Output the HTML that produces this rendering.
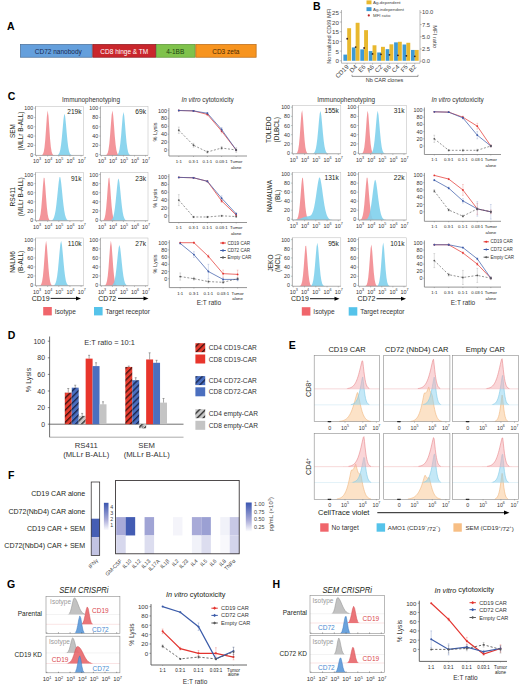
<!DOCTYPE html>
<html><head><meta charset="utf-8"><style>
html,body{margin:0;padding:0;background:#fff;width:520px;height:685px;overflow:hidden}
svg{display:block}
text{font-family:"Liberation Sans", sans-serif}
</style></head><body>
<svg width="520" height="685" viewBox="0 0 520 685" font-family='"Liberation Sans", sans-serif'>
<rect width="520" height="685" fill="#fff"/>
<text x="7.00" y="26.00" font-size="10.5" text-anchor="start" fill="#000" font-weight="bold" dominant-baseline="central" >A</text>
<rect x="20.35" y="44.35" width="71.80" height="12.90" fill="#649fdc" stroke="#4a6f98" stroke-width="0.7" />
<text x="58.30" y="51.40" font-size="6.5" text-anchor="middle" fill="#1a2a50" dominant-baseline="central" >CD72 nanobody</text>
<rect x="92.85" y="44.35" width="62.80" height="12.90" fill="#c9262c" stroke="#8a1a1e" stroke-width="0.7" />
<text x="124.30" y="51.40" font-size="6.5" text-anchor="middle" fill="#ffffff" dominant-baseline="central" >CD8 hinge &amp; TM</text>
<rect x="156.35" y="44.35" width="38.80" height="12.90" fill="#7fc24c" stroke="#5a9236" stroke-width="0.7" />
<text x="175.20" y="51.40" font-size="6.5" text-anchor="middle" fill="#1a4010" dominant-baseline="central" >4-1BB</text>
<rect x="195.85" y="44.35" width="60.30" height="12.90" fill="#f7941f" stroke="#b86a18" stroke-width="0.7" />
<text x="225.80" y="51.40" font-size="6.5" text-anchor="middle" fill="#4a2a05" dominant-baseline="central" >CD3 zeta</text>
<text x="313.00" y="5.80" font-size="10.5" text-anchor="start" fill="#000" font-weight="bold" dominant-baseline="central" >B</text>
<line x1="341.50" y1="10.00" x2="341.50" y2="63.20" stroke="#777" stroke-width="0.5" />
<line x1="339.80" y1="60.80" x2="341.50" y2="60.80" stroke="#777" stroke-width="0.5" />
<text x="339.00" y="60.80" font-size="6.2" text-anchor="end" fill="#444" dominant-baseline="central" >0</text>
<line x1="339.80" y1="51.10" x2="341.50" y2="51.10" stroke="#777" stroke-width="0.5" />
<text x="339.00" y="51.10" font-size="6.2" text-anchor="end" fill="#444" dominant-baseline="central" >5</text>
<line x1="339.80" y1="41.40" x2="341.50" y2="41.40" stroke="#777" stroke-width="0.5" />
<text x="339.00" y="41.40" font-size="6.2" text-anchor="end" fill="#444" dominant-baseline="central" >10</text>
<line x1="339.80" y1="31.70" x2="341.50" y2="31.70" stroke="#777" stroke-width="0.5" />
<text x="339.00" y="31.70" font-size="6.2" text-anchor="end" fill="#444" dominant-baseline="central" >15</text>
<line x1="339.80" y1="22.00" x2="341.50" y2="22.00" stroke="#777" stroke-width="0.5" />
<text x="339.00" y="22.00" font-size="6.2" text-anchor="end" fill="#444" dominant-baseline="central" >20</text>
<line x1="339.80" y1="12.30" x2="341.50" y2="12.30" stroke="#777" stroke-width="0.5" />
<text x="339.00" y="12.30" font-size="6.2" text-anchor="end" fill="#444" dominant-baseline="central" >25</text>
<text x="329.00" y="36.00" font-size="5.6" text-anchor="middle" fill="#444" transform="rotate(-90 329.00 36.00)" dominant-baseline="central" >Normalized CD69 MFI</text>
<line x1="420.00" y1="10.00" x2="420.00" y2="63.20" stroke="#777" stroke-width="0.5" />
<line x1="420.00" y1="61.20" x2="421.70" y2="61.20" stroke="#777" stroke-width="0.5" />
<text x="422.00" y="61.20" font-size="5.8" text-anchor="start" fill="#444" dominant-baseline="central" >0.0</text>
<line x1="420.00" y1="49.00" x2="421.70" y2="49.00" stroke="#777" stroke-width="0.5" />
<text x="422.00" y="49.00" font-size="5.8" text-anchor="start" fill="#444" dominant-baseline="central" >2.5</text>
<line x1="420.00" y1="36.80" x2="421.70" y2="36.80" stroke="#777" stroke-width="0.5" />
<text x="422.00" y="36.80" font-size="5.8" text-anchor="start" fill="#444" dominant-baseline="central" >5.0</text>
<line x1="420.00" y1="24.60" x2="421.70" y2="24.60" stroke="#777" stroke-width="0.5" />
<text x="422.00" y="24.60" font-size="5.8" text-anchor="start" fill="#444" dominant-baseline="central" >7.5</text>
<line x1="420.00" y1="12.40" x2="421.70" y2="12.40" stroke="#777" stroke-width="0.5" />
<text x="422.00" y="12.40" font-size="5.8" text-anchor="start" fill="#444" dominant-baseline="central" >10.0</text>
<text x="434.50" y="36.70" font-size="5.8" text-anchor="middle" fill="#444" transform="rotate(90 434.50 36.70)" dominant-baseline="central" >MFI ratio</text>
<line x1="341.50" y1="63.20" x2="420.00" y2="63.20" stroke="#777" stroke-width="0.5" />
<rect x="343.40" y="54.59" width="3.80" height="6.21" fill="#3d9ad6" stroke="none" stroke-width="0.5" />
<rect x="347.20" y="28.21" width="3.90" height="32.59" fill="#e8b82e" stroke="none" stroke-width="0.5" />
<circle cx="347.20" cy="38.75" r="0.9" fill="#3a2020"/>
<line x1="347.20" y1="63.20" x2="347.20" y2="64.60" stroke="#777" stroke-width="0.4" />
<text x="347.40" y="65.60" font-size="6.2" text-anchor="end" fill="#444" transform="rotate(-45 347.40 65.60)" dominant-baseline="central" dominant-baseline="hanging">CD19</text>
<rect x="351.85" y="47.41" width="3.80" height="13.39" fill="#3d9ad6" stroke="none" stroke-width="0.5" />
<rect x="355.65" y="22.78" width="3.90" height="38.02" fill="#e8b82e" stroke="none" stroke-width="0.5" />
<circle cx="355.65" cy="47.05" r="0.9" fill="#3a2020"/>
<line x1="355.65" y1="63.20" x2="355.65" y2="64.60" stroke="#777" stroke-width="0.4" />
<text x="355.85" y="65.60" font-size="6.2" text-anchor="end" fill="#444" transform="rotate(-45 355.85 65.60)" dominant-baseline="central" dominant-baseline="hanging">D4</text>
<rect x="360.30" y="49.35" width="3.80" height="11.45" fill="#3d9ad6" stroke="none" stroke-width="0.5" />
<rect x="364.10" y="30.15" width="3.90" height="30.65" fill="#e8b82e" stroke="none" stroke-width="0.5" />
<circle cx="364.10" cy="48.02" r="0.9" fill="#3a2020"/>
<line x1="364.10" y1="63.20" x2="364.10" y2="64.60" stroke="#777" stroke-width="0.4" />
<text x="364.30" y="65.60" font-size="6.2" text-anchor="end" fill="#444" transform="rotate(-45 364.30 65.60)" dominant-baseline="central" dominant-baseline="hanging">E6</text>
<rect x="368.75" y="51.10" width="3.80" height="9.70" fill="#3d9ad6" stroke="none" stroke-width="0.5" />
<rect x="372.55" y="45.28" width="3.90" height="15.52" fill="#e8b82e" stroke="none" stroke-width="0.5" />
<circle cx="372.55" cy="53.88" r="0.9" fill="#3a2020"/>
<line x1="372.55" y1="63.20" x2="372.55" y2="64.60" stroke="#777" stroke-width="0.4" />
<text x="372.75" y="65.60" font-size="6.2" text-anchor="end" fill="#444" transform="rotate(-45 372.75 65.60)" dominant-baseline="central" dominant-baseline="hanging">A6</text>
<rect x="377.20" y="52.46" width="3.80" height="8.34" fill="#3d9ad6" stroke="none" stroke-width="0.5" />
<rect x="381.00" y="46.83" width="3.90" height="13.97" fill="#e8b82e" stroke="none" stroke-width="0.5" />
<circle cx="381.00" cy="54.37" r="0.9" fill="#3a2020"/>
<line x1="381.00" y1="63.20" x2="381.00" y2="64.60" stroke="#777" stroke-width="0.4" />
<text x="381.20" y="65.60" font-size="6.2" text-anchor="end" fill="#444" transform="rotate(-45 381.20 65.60)" dominant-baseline="central" dominant-baseline="hanging">C2</text>
<rect x="385.65" y="49.16" width="3.80" height="11.64" fill="#3d9ad6" stroke="none" stroke-width="0.5" />
<rect x="389.45" y="44.31" width="3.90" height="16.49" fill="#e8b82e" stroke="none" stroke-width="0.5" />
<circle cx="389.45" cy="54.86" r="0.9" fill="#3a2020"/>
<line x1="389.45" y1="63.20" x2="389.45" y2="64.60" stroke="#777" stroke-width="0.4" />
<text x="389.65" y="65.60" font-size="6.2" text-anchor="end" fill="#444" transform="rotate(-45 389.65 65.60)" dominant-baseline="central" dominant-baseline="hanging">B6</text>
<rect x="394.10" y="42.37" width="3.80" height="18.43" fill="#3d9ad6" stroke="none" stroke-width="0.5" />
<rect x="397.90" y="41.79" width="3.90" height="19.01" fill="#e8b82e" stroke="none" stroke-width="0.5" />
<circle cx="397.90" cy="55.34" r="0.9" fill="#3a2020"/>
<line x1="397.90" y1="63.20" x2="397.90" y2="64.60" stroke="#777" stroke-width="0.4" />
<text x="398.10" y="65.60" font-size="6.2" text-anchor="end" fill="#444" transform="rotate(-45 398.10 65.60)" dominant-baseline="central" dominant-baseline="hanging">C4</text>
<rect x="402.55" y="44.50" width="3.80" height="16.30" fill="#3d9ad6" stroke="none" stroke-width="0.5" />
<rect x="406.35" y="42.76" width="3.90" height="18.04" fill="#e8b82e" stroke="none" stroke-width="0.5" />
<circle cx="406.35" cy="55.83" r="0.9" fill="#3a2020"/>
<line x1="406.35" y1="63.20" x2="406.35" y2="64.60" stroke="#777" stroke-width="0.4" />
<text x="406.55" y="65.60" font-size="6.2" text-anchor="end" fill="#444" transform="rotate(-45 406.55 65.60)" dominant-baseline="central" dominant-baseline="hanging">F5</text>
<rect x="411.00" y="49.94" width="3.80" height="10.86" fill="#3d9ad6" stroke="none" stroke-width="0.5" />
<rect x="414.80" y="49.94" width="3.90" height="10.86" fill="#e8b82e" stroke="none" stroke-width="0.5" />
<circle cx="414.80" cy="56.32" r="0.9" fill="#3a2020"/>
<line x1="414.80" y1="63.20" x2="414.80" y2="64.60" stroke="#777" stroke-width="0.4" />
<text x="415.00" y="65.60" font-size="6.2" text-anchor="end" fill="#444" transform="rotate(-45 415.00 65.60)" dominant-baseline="central" dominant-baseline="hanging">B2</text>
<rect x="366.50" y="0.40" width="5.00" height="3.90" fill="#e8b82e" stroke="none" stroke-width="0.5" />
<text x="373.00" y="2.60" font-size="4.4" text-anchor="start" fill="#444" dominant-baseline="central" >Ag-dependent</text>
<rect x="366.50" y="7.20" width="5.00" height="3.90" fill="#3d9ad6" stroke="none" stroke-width="0.5" />
<text x="373.00" y="9.20" font-size="4.4" text-anchor="start" fill="#444" dominant-baseline="central" >Ag-independent</text>
<circle cx="368.8" cy="15.4" r="1.1" fill="#b22"/>
<text x="373.00" y="15.60" font-size="4.4" text-anchor="start" fill="#444" dominant-baseline="central" >MFI ratio</text>
<line x1="352.00" y1="76.40" x2="418.00" y2="76.40" stroke="#555" stroke-width="0.6" />
<line x1="352.00" y1="76.40" x2="352.00" y2="74.80" stroke="#555" stroke-width="0.6" />
<line x1="418.00" y1="76.40" x2="418.00" y2="74.80" stroke="#555" stroke-width="0.6" />
<text x="384.50" y="79.90" font-size="5.5" text-anchor="middle" fill="#333" dominant-baseline="central" >Nb CAR clones</text>
<text x="7.80" y="96.00" font-size="10.5" text-anchor="start" fill="#000" font-weight="bold" dominant-baseline="central" >C</text>
<text x="91.00" y="99.20" font-size="6.4" text-anchor="middle" fill="#333" dominant-baseline="central" >Immunophenotyping</text>
<text x="207.50" y="99.30" font-size="6.4" text-anchor="middle" fill="#333" dominant-baseline="central" ><tspan font-style="italic">In vitro</tspan> cytotoxicity</text>
<text x="346.20" y="99.00" font-size="6.4" text-anchor="middle" fill="#333" dominant-baseline="central" >Immunophenotyping</text>
<text x="457.50" y="99.30" font-size="6.4" text-anchor="middle" fill="#333" dominant-baseline="central" ><tspan font-style="italic">In vitro</tspan> cytotoxicity</text>
<path d="M35.80,155.40 L35.80,155.40 L36.59,155.40 L37.38,155.40 L38.17,155.40 L38.97,155.40 L39.76,155.39 L40.55,155.37 L41.34,155.28 L42.13,154.98 L42.92,154.09 L43.72,151.90 L44.51,147.29 L45.30,139.27 L46.09,128.08 L46.88,116.57 L47.67,110.41 L48.47,115.95 L49.26,127.32 L50.05,138.64 L50.84,146.89 L51.63,151.69 L52.42,154.00 L53.22,154.94 L54.01,155.27 L54.80,155.37 L55.59,155.39 L56.38,155.40 L57.17,155.40 L57.97,155.40 L58.76,155.40 L59.55,155.40 L60.34,155.40 L61.13,155.40 L61.92,155.40 L62.72,155.40 L63.51,155.40 L64.30,155.40 L65.09,155.40 L65.88,155.40 L66.67,155.40 L67.47,155.40 L68.26,155.40 L69.05,155.40 L69.84,155.40 L70.63,155.40 L71.42,155.40 L72.22,155.40 L73.01,155.40 L73.80,155.40 L74.59,155.40 L75.38,155.40 L76.17,155.40 L76.97,155.40 L77.76,155.40 L78.55,155.40 L79.34,155.40 L80.13,155.40 L80.92,155.40 L81.72,155.40 L82.51,155.40 L83.30,155.40 L83.30,155.40 Z" fill="#f28a8f" fill-opacity="0.9" stroke="none"/>
<path d="M35.80,155.40 L35.80,155.40 L36.59,155.40 L37.38,155.40 L38.17,155.40 L38.97,155.40 L39.76,155.40 L40.55,155.40 L41.34,155.40 L42.13,155.40 L42.92,155.40 L43.72,155.40 L44.51,155.40 L45.30,155.40 L46.09,155.40 L46.88,155.40 L47.67,155.40 L48.47,155.40 L49.26,155.40 L50.05,155.40 L50.84,155.40 L51.63,155.40 L52.42,155.40 L53.22,155.40 L54.01,155.40 L54.80,155.39 L55.59,155.38 L56.38,155.34 L57.17,155.21 L57.97,154.89 L58.76,154.12 L59.55,152.50 L60.34,149.45 L61.13,144.36 L61.92,136.99 L62.72,127.96 L63.51,119.18 L64.30,113.75 L65.09,115.78 L65.88,123.32 L66.67,132.55 L67.47,140.91 L68.26,147.16 L69.05,151.18 L69.84,153.44 L70.63,154.58 L71.42,155.09 L72.22,155.29 L73.01,155.36 L73.80,155.39 L74.59,155.40 L75.38,155.40 L76.17,155.40 L76.97,155.40 L77.76,155.40 L78.55,155.40 L79.34,155.40 L80.13,155.40 L80.92,155.40 L81.72,155.40 L82.51,155.40 L83.30,155.40 L83.30,155.40 Z" fill="#7fd0ec" fill-opacity="0.9" stroke="none"/>
<rect x="35.50" y="106.40" width="48.10" height="49.00" fill="none" stroke="#b8b8b8" stroke-width="0.5"/>
<line x1="35.50" y1="106.40" x2="35.50" y2="155.40" stroke="#888" stroke-width="0.5" />
<line x1="35.50" y1="155.40" x2="83.60" y2="155.40" stroke="#888" stroke-width="0.5" />
<line x1="34.20" y1="154.60" x2="35.50" y2="154.60" stroke="#777" stroke-width="0.4" />
<text x="33.20" y="154.60" font-size="5.3" text-anchor="end" fill="#333" dominant-baseline="central" >0</text>
<line x1="34.20" y1="145.32" x2="35.50" y2="145.32" stroke="#777" stroke-width="0.4" />
<text x="33.20" y="145.32" font-size="5.3" text-anchor="end" fill="#333" dominant-baseline="central" >20</text>
<line x1="34.20" y1="136.04" x2="35.50" y2="136.04" stroke="#777" stroke-width="0.4" />
<text x="33.20" y="136.04" font-size="5.3" text-anchor="end" fill="#333" dominant-baseline="central" >40</text>
<line x1="34.20" y1="126.76" x2="35.50" y2="126.76" stroke="#777" stroke-width="0.4" />
<text x="33.20" y="126.76" font-size="5.3" text-anchor="end" fill="#333" dominant-baseline="central" >60</text>
<line x1="34.20" y1="117.48" x2="35.50" y2="117.48" stroke="#777" stroke-width="0.4" />
<text x="33.20" y="117.48" font-size="5.3" text-anchor="end" fill="#333" dominant-baseline="central" >80</text>
<line x1="34.20" y1="108.20" x2="35.50" y2="108.20" stroke="#777" stroke-width="0.4" />
<text x="33.20" y="108.20" font-size="5.3" text-anchor="end" fill="#333" dominant-baseline="central" >100</text>
<line x1="36.50" y1="155.40" x2="36.50" y2="156.60" stroke="#777" stroke-width="0.4" />
<text x="37.10" y="161.20" font-size="5.4" text-anchor="middle" fill="#333" dominant-baseline="central">10<tspan dy="-1.9" font-size="3.7">3</tspan></text>
<line x1="47.65" y1="155.40" x2="47.65" y2="156.60" stroke="#777" stroke-width="0.4" />
<text x="48.25" y="161.20" font-size="5.4" text-anchor="middle" fill="#333" dominant-baseline="central">10<tspan dy="-1.9" font-size="3.7">4</tspan></text>
<line x1="58.80" y1="155.40" x2="58.80" y2="156.60" stroke="#777" stroke-width="0.4" />
<text x="59.40" y="161.20" font-size="5.4" text-anchor="middle" fill="#333" dominant-baseline="central">10<tspan dy="-1.9" font-size="3.7">5</tspan></text>
<line x1="69.95" y1="155.40" x2="69.95" y2="156.60" stroke="#777" stroke-width="0.4" />
<text x="70.55" y="161.20" font-size="5.4" text-anchor="middle" fill="#333" dominant-baseline="central">10<tspan dy="-1.9" font-size="3.7">6</tspan></text>
<line x1="81.10" y1="155.40" x2="81.10" y2="156.60" stroke="#777" stroke-width="0.4" />
<text x="81.70" y="161.20" font-size="5.4" text-anchor="middle" fill="#333" dominant-baseline="central">10<tspan dy="-1.9" font-size="3.7">7</tspan></text>
<text x="81.60" y="111.80" font-size="6.6" text-anchor="end" fill="#231f20" dominant-baseline="central" >219k</text>
<path d="M100.70,155.40 L100.70,155.40 L101.48,155.40 L102.27,155.40 L103.05,155.40 L103.83,155.39 L104.62,155.36 L105.40,155.27 L106.18,155.01 L106.97,154.32 L107.75,152.71 L108.53,149.43 L109.32,143.67 L110.10,135.04 L110.88,124.47 L111.67,114.74 L112.45,110.44 L113.23,115.79 L114.02,125.85 L114.80,136.29 L115.58,144.56 L116.37,149.97 L117.15,152.99 L117.93,154.44 L118.72,155.06 L119.50,155.29 L120.28,155.37 L121.07,155.39 L121.85,155.40 L122.63,155.40 L123.42,155.40 L124.20,155.40 L124.98,155.40 L125.77,155.40 L126.55,155.40 L127.33,155.40 L128.12,155.40 L128.90,155.40 L129.68,155.40 L130.47,155.40 L131.25,155.40 L132.03,155.40 L132.82,155.40 L133.60,155.40 L134.38,155.40 L135.17,155.40 L135.95,155.40 L136.73,155.40 L137.52,155.40 L138.30,155.40 L139.08,155.40 L139.87,155.40 L140.65,155.40 L141.43,155.40 L142.22,155.40 L143.00,155.40 L143.78,155.40 L144.57,155.40 L145.35,155.40 L146.13,155.40 L146.92,155.40 L147.70,155.40 L147.70,155.40 Z" fill="#f28a8f" fill-opacity="0.9" stroke="none"/>
<path d="M100.70,155.40 L100.70,155.40 L101.48,155.40 L102.27,155.40 L103.05,155.40 L103.83,155.40 L104.62,155.40 L105.40,155.40 L106.18,155.40 L106.97,155.40 L107.75,155.40 L108.53,155.40 L109.32,155.40 L110.10,155.40 L110.88,155.40 L111.67,155.40 L112.45,155.40 L113.23,155.40 L114.02,155.40 L114.80,155.38 L115.58,155.35 L116.37,155.23 L117.15,154.92 L117.93,154.17 L118.72,152.51 L119.50,149.30 L120.28,143.86 L121.07,135.92 L121.85,126.22 L122.63,117.02 L123.42,111.98 L124.20,115.46 L124.98,124.11 L125.77,133.95 L126.55,142.38 L127.33,148.35 L128.12,151.98 L128.90,153.91 L129.68,154.81 L130.47,155.19 L131.25,155.33 L132.03,155.38 L132.82,155.39 L133.60,155.40 L134.38,155.40 L135.17,155.40 L135.95,155.40 L136.73,155.40 L137.52,155.40 L138.30,155.40 L139.08,155.40 L139.87,155.40 L140.65,155.40 L141.43,155.40 L142.22,155.40 L143.00,155.40 L143.78,155.40 L144.57,155.40 L145.35,155.40 L146.13,155.40 L146.92,155.40 L147.70,155.40 L147.70,155.40 Z" fill="#7fd0ec" fill-opacity="0.9" stroke="none"/>
<rect x="100.40" y="106.40" width="47.60" height="49.00" fill="none" stroke="#b8b8b8" stroke-width="0.5"/>
<line x1="100.40" y1="106.40" x2="100.40" y2="155.40" stroke="#888" stroke-width="0.5" />
<line x1="100.40" y1="155.40" x2="148.00" y2="155.40" stroke="#888" stroke-width="0.5" />
<line x1="99.10" y1="154.60" x2="100.40" y2="154.60" stroke="#777" stroke-width="0.4" />
<text x="98.10" y="154.60" font-size="5.3" text-anchor="end" fill="#333" dominant-baseline="central" >0</text>
<line x1="99.10" y1="145.32" x2="100.40" y2="145.32" stroke="#777" stroke-width="0.4" />
<text x="98.10" y="145.32" font-size="5.3" text-anchor="end" fill="#333" dominant-baseline="central" >20</text>
<line x1="99.10" y1="136.04" x2="100.40" y2="136.04" stroke="#777" stroke-width="0.4" />
<text x="98.10" y="136.04" font-size="5.3" text-anchor="end" fill="#333" dominant-baseline="central" >40</text>
<line x1="99.10" y1="126.76" x2="100.40" y2="126.76" stroke="#777" stroke-width="0.4" />
<text x="98.10" y="126.76" font-size="5.3" text-anchor="end" fill="#333" dominant-baseline="central" >60</text>
<line x1="99.10" y1="117.48" x2="100.40" y2="117.48" stroke="#777" stroke-width="0.4" />
<text x="98.10" y="117.48" font-size="5.3" text-anchor="end" fill="#333" dominant-baseline="central" >80</text>
<line x1="99.10" y1="108.20" x2="100.40" y2="108.20" stroke="#777" stroke-width="0.4" />
<text x="98.10" y="108.20" font-size="5.3" text-anchor="end" fill="#333" dominant-baseline="central" >100</text>
<line x1="101.40" y1="155.40" x2="101.40" y2="156.60" stroke="#777" stroke-width="0.4" />
<text x="102.00" y="161.20" font-size="5.4" text-anchor="middle" fill="#333" dominant-baseline="central">10<tspan dy="-1.9" font-size="3.7">3</tspan></text>
<line x1="112.43" y1="155.40" x2="112.43" y2="156.60" stroke="#777" stroke-width="0.4" />
<text x="113.03" y="161.20" font-size="5.4" text-anchor="middle" fill="#333" dominant-baseline="central">10<tspan dy="-1.9" font-size="3.7">4</tspan></text>
<line x1="123.45" y1="155.40" x2="123.45" y2="156.60" stroke="#777" stroke-width="0.4" />
<text x="124.05" y="161.20" font-size="5.4" text-anchor="middle" fill="#333" dominant-baseline="central">10<tspan dy="-1.9" font-size="3.7">5</tspan></text>
<line x1="134.47" y1="155.40" x2="134.47" y2="156.60" stroke="#777" stroke-width="0.4" />
<text x="135.07" y="161.20" font-size="5.4" text-anchor="middle" fill="#333" dominant-baseline="central">10<tspan dy="-1.9" font-size="3.7">6</tspan></text>
<line x1="145.50" y1="155.40" x2="145.50" y2="156.60" stroke="#777" stroke-width="0.4" />
<text x="146.10" y="161.20" font-size="5.4" text-anchor="middle" fill="#333" dominant-baseline="central">10<tspan dy="-1.9" font-size="3.7">7</tspan></text>
<text x="146.00" y="111.80" font-size="6.6" text-anchor="end" fill="#231f20" dominant-baseline="central" >69k</text>
<path d="M35.80,220.80 L35.80,220.79 L36.59,220.77 L37.38,220.68 L38.17,220.41 L38.97,219.65 L39.76,217.81 L40.55,214.01 L41.34,207.30 L42.13,197.52 L42.92,186.31 L43.72,177.70 L44.51,177.88 L45.30,186.65 L46.09,197.86 L46.88,207.56 L47.67,214.17 L48.47,217.90 L49.26,219.68 L50.05,220.42 L50.84,220.69 L51.63,220.77 L52.42,220.79 L53.22,220.80 L54.01,220.80 L54.80,220.80 L55.59,220.80 L56.38,220.80 L57.17,220.80 L57.97,220.80 L58.76,220.80 L59.55,220.80 L60.34,220.80 L61.13,220.80 L61.92,220.80 L62.72,220.80 L63.51,220.80 L64.30,220.80 L65.09,220.80 L65.88,220.80 L66.67,220.80 L67.47,220.80 L68.26,220.80 L69.05,220.80 L69.84,220.80 L70.63,220.80 L71.42,220.80 L72.22,220.80 L73.01,220.80 L73.80,220.80 L74.59,220.80 L75.38,220.80 L76.17,220.80 L76.97,220.80 L77.76,220.80 L78.55,220.80 L79.34,220.80 L80.13,220.80 L80.92,220.80 L81.72,220.80 L82.51,220.80 L83.30,220.80 L83.30,220.80 Z" fill="#f28a8f" fill-opacity="0.9" stroke="none"/>
<path d="M35.80,220.80 L35.80,220.80 L36.59,220.80 L37.38,220.80 L38.17,220.80 L38.97,220.80 L39.76,220.80 L40.55,220.80 L41.34,220.80 L42.13,220.80 L42.92,220.80 L43.72,220.80 L44.51,220.80 L45.30,220.80 L46.09,220.80 L46.88,220.80 L47.67,220.80 L48.47,220.79 L49.26,220.77 L50.05,220.73 L50.84,220.63 L51.63,220.40 L52.42,219.92 L53.22,218.99 L54.01,217.34 L54.80,214.59 L55.59,210.39 L56.38,204.55 L57.17,197.23 L57.97,189.18 L58.76,181.76 L59.55,176.90 L60.34,177.26 L61.13,182.53 L61.92,190.11 L62.72,198.14 L63.51,205.31 L64.30,210.96 L65.09,214.97 L65.88,217.58 L66.67,219.13 L67.47,219.99 L68.26,220.43 L69.05,220.64 L69.84,220.74 L70.63,220.78 L71.42,220.79 L72.22,220.80 L73.01,220.80 L73.80,220.80 L74.59,220.80 L75.38,220.80 L76.17,220.80 L76.97,220.80 L77.76,220.80 L78.55,220.80 L79.34,220.80 L80.13,220.80 L80.92,220.80 L81.72,220.80 L82.51,220.80 L83.30,220.80 L83.30,220.80 Z" fill="#7fd0ec" fill-opacity="0.9" stroke="none"/>
<rect x="35.50" y="172.70" width="48.10" height="48.10" fill="none" stroke="#b8b8b8" stroke-width="0.5"/>
<line x1="35.50" y1="172.70" x2="35.50" y2="220.80" stroke="#888" stroke-width="0.5" />
<line x1="35.50" y1="220.80" x2="83.60" y2="220.80" stroke="#888" stroke-width="0.5" />
<line x1="34.20" y1="220.00" x2="35.50" y2="220.00" stroke="#777" stroke-width="0.4" />
<text x="33.20" y="220.00" font-size="5.3" text-anchor="end" fill="#333" dominant-baseline="central" >0</text>
<line x1="34.20" y1="210.90" x2="35.50" y2="210.90" stroke="#777" stroke-width="0.4" />
<text x="33.20" y="210.90" font-size="5.3" text-anchor="end" fill="#333" dominant-baseline="central" >20</text>
<line x1="34.20" y1="201.80" x2="35.50" y2="201.80" stroke="#777" stroke-width="0.4" />
<text x="33.20" y="201.80" font-size="5.3" text-anchor="end" fill="#333" dominant-baseline="central" >40</text>
<line x1="34.20" y1="192.70" x2="35.50" y2="192.70" stroke="#777" stroke-width="0.4" />
<text x="33.20" y="192.70" font-size="5.3" text-anchor="end" fill="#333" dominant-baseline="central" >60</text>
<line x1="34.20" y1="183.60" x2="35.50" y2="183.60" stroke="#777" stroke-width="0.4" />
<text x="33.20" y="183.60" font-size="5.3" text-anchor="end" fill="#333" dominant-baseline="central" >80</text>
<line x1="34.20" y1="174.50" x2="35.50" y2="174.50" stroke="#777" stroke-width="0.4" />
<text x="33.20" y="174.50" font-size="5.3" text-anchor="end" fill="#333" dominant-baseline="central" >100</text>
<line x1="36.50" y1="220.80" x2="36.50" y2="222.00" stroke="#777" stroke-width="0.4" />
<text x="37.10" y="226.60" font-size="5.4" text-anchor="middle" fill="#333" dominant-baseline="central">10<tspan dy="-1.9" font-size="3.7">3</tspan></text>
<line x1="47.65" y1="220.80" x2="47.65" y2="222.00" stroke="#777" stroke-width="0.4" />
<text x="48.25" y="226.60" font-size="5.4" text-anchor="middle" fill="#333" dominant-baseline="central">10<tspan dy="-1.9" font-size="3.7">4</tspan></text>
<line x1="58.80" y1="220.80" x2="58.80" y2="222.00" stroke="#777" stroke-width="0.4" />
<text x="59.40" y="226.60" font-size="5.4" text-anchor="middle" fill="#333" dominant-baseline="central">10<tspan dy="-1.9" font-size="3.7">5</tspan></text>
<line x1="69.95" y1="220.80" x2="69.95" y2="222.00" stroke="#777" stroke-width="0.4" />
<text x="70.55" y="226.60" font-size="5.4" text-anchor="middle" fill="#333" dominant-baseline="central">10<tspan dy="-1.9" font-size="3.7">6</tspan></text>
<line x1="81.10" y1="220.80" x2="81.10" y2="222.00" stroke="#777" stroke-width="0.4" />
<text x="81.70" y="226.60" font-size="5.4" text-anchor="middle" fill="#333" dominant-baseline="central">10<tspan dy="-1.9" font-size="3.7">7</tspan></text>
<text x="81.60" y="178.10" font-size="6.6" text-anchor="end" fill="#231f20" dominant-baseline="central" >91k</text>
<path d="M100.70,220.80 L100.70,220.79 L101.48,220.77 L102.27,220.69 L103.05,220.42 L103.83,219.70 L104.62,217.96 L105.40,214.35 L106.18,207.96 L106.97,198.53 L107.75,187.49 L108.53,178.51 L109.32,177.47 L110.10,185.47 L110.88,196.46 L111.67,206.38 L112.45,213.37 L113.23,217.45 L114.02,219.47 L114.80,220.33 L115.58,220.65 L116.37,220.76 L117.15,220.79 L117.93,220.80 L118.72,220.80 L119.50,220.80 L120.28,220.80 L121.07,220.80 L121.85,220.80 L122.63,220.80 L123.42,220.80 L124.20,220.80 L124.98,220.80 L125.77,220.80 L126.55,220.80 L127.33,220.80 L128.12,220.80 L128.90,220.80 L129.68,220.80 L130.47,220.80 L131.25,220.80 L132.03,220.80 L132.82,220.80 L133.60,220.80 L134.38,220.80 L135.17,220.80 L135.95,220.80 L136.73,220.80 L137.52,220.80 L138.30,220.80 L139.08,220.80 L139.87,220.80 L140.65,220.80 L141.43,220.80 L142.22,220.80 L143.00,220.80 L143.78,220.80 L144.57,220.80 L145.35,220.80 L146.13,220.80 L146.92,220.80 L147.70,220.80 L147.70,220.80 Z" fill="#f28a8f" fill-opacity="0.9" stroke="none"/>
<path d="M100.70,220.80 L100.70,220.80 L101.48,220.80 L102.27,220.80 L103.05,220.80 L103.83,220.80 L104.62,220.80 L105.40,220.80 L106.18,220.80 L106.97,220.80 L107.75,220.79 L108.53,220.78 L109.32,220.74 L110.10,220.63 L110.88,220.39 L111.67,219.86 L112.45,218.81 L113.23,216.89 L114.02,213.68 L114.80,208.80 L115.58,202.15 L116.37,194.22 L117.15,186.21 L117.93,180.10 L118.72,178.62 L119.50,183.10 L120.28,190.55 L121.07,198.71 L121.85,206.03 L122.63,211.72 L123.42,215.64 L124.20,218.09 L124.98,219.48 L125.77,220.20 L126.55,220.55 L127.33,220.70 L128.12,220.76 L128.90,220.79 L129.68,220.80 L130.47,220.80 L131.25,220.80 L132.03,220.80 L132.82,220.80 L133.60,220.80 L134.38,220.80 L135.17,220.80 L135.95,220.80 L136.73,220.80 L137.52,220.80 L138.30,220.80 L139.08,220.80 L139.87,220.80 L140.65,220.80 L141.43,220.80 L142.22,220.80 L143.00,220.80 L143.78,220.80 L144.57,220.80 L145.35,220.80 L146.13,220.80 L146.92,220.80 L147.70,220.80 L147.70,220.80 Z" fill="#7fd0ec" fill-opacity="0.9" stroke="none"/>
<rect x="100.40" y="172.70" width="47.60" height="48.10" fill="none" stroke="#b8b8b8" stroke-width="0.5"/>
<line x1="100.40" y1="172.70" x2="100.40" y2="220.80" stroke="#888" stroke-width="0.5" />
<line x1="100.40" y1="220.80" x2="148.00" y2="220.80" stroke="#888" stroke-width="0.5" />
<line x1="99.10" y1="220.00" x2="100.40" y2="220.00" stroke="#777" stroke-width="0.4" />
<text x="98.10" y="220.00" font-size="5.3" text-anchor="end" fill="#333" dominant-baseline="central" >0</text>
<line x1="99.10" y1="210.90" x2="100.40" y2="210.90" stroke="#777" stroke-width="0.4" />
<text x="98.10" y="210.90" font-size="5.3" text-anchor="end" fill="#333" dominant-baseline="central" >20</text>
<line x1="99.10" y1="201.80" x2="100.40" y2="201.80" stroke="#777" stroke-width="0.4" />
<text x="98.10" y="201.80" font-size="5.3" text-anchor="end" fill="#333" dominant-baseline="central" >40</text>
<line x1="99.10" y1="192.70" x2="100.40" y2="192.70" stroke="#777" stroke-width="0.4" />
<text x="98.10" y="192.70" font-size="5.3" text-anchor="end" fill="#333" dominant-baseline="central" >60</text>
<line x1="99.10" y1="183.60" x2="100.40" y2="183.60" stroke="#777" stroke-width="0.4" />
<text x="98.10" y="183.60" font-size="5.3" text-anchor="end" fill="#333" dominant-baseline="central" >80</text>
<line x1="99.10" y1="174.50" x2="100.40" y2="174.50" stroke="#777" stroke-width="0.4" />
<text x="98.10" y="174.50" font-size="5.3" text-anchor="end" fill="#333" dominant-baseline="central" >100</text>
<line x1="101.40" y1="220.80" x2="101.40" y2="222.00" stroke="#777" stroke-width="0.4" />
<text x="102.00" y="226.60" font-size="5.4" text-anchor="middle" fill="#333" dominant-baseline="central">10<tspan dy="-1.9" font-size="3.7">3</tspan></text>
<line x1="112.43" y1="220.80" x2="112.43" y2="222.00" stroke="#777" stroke-width="0.4" />
<text x="113.03" y="226.60" font-size="5.4" text-anchor="middle" fill="#333" dominant-baseline="central">10<tspan dy="-1.9" font-size="3.7">4</tspan></text>
<line x1="123.45" y1="220.80" x2="123.45" y2="222.00" stroke="#777" stroke-width="0.4" />
<text x="124.05" y="226.60" font-size="5.4" text-anchor="middle" fill="#333" dominant-baseline="central">10<tspan dy="-1.9" font-size="3.7">5</tspan></text>
<line x1="134.47" y1="220.80" x2="134.47" y2="222.00" stroke="#777" stroke-width="0.4" />
<text x="135.07" y="226.60" font-size="5.4" text-anchor="middle" fill="#333" dominant-baseline="central">10<tspan dy="-1.9" font-size="3.7">6</tspan></text>
<line x1="145.50" y1="220.80" x2="145.50" y2="222.00" stroke="#777" stroke-width="0.4" />
<text x="146.10" y="226.60" font-size="5.4" text-anchor="middle" fill="#333" dominant-baseline="central">10<tspan dy="-1.9" font-size="3.7">7</tspan></text>
<text x="146.00" y="178.10" font-size="6.6" text-anchor="end" fill="#231f20" dominant-baseline="central" >23k</text>
<path d="M35.80,285.80 L35.80,285.80 L36.59,285.80 L37.38,285.80 L38.17,285.78 L38.97,285.74 L39.76,285.59 L40.55,285.13 L41.34,283.94 L42.13,281.28 L42.92,276.15 L43.72,267.84 L44.51,256.94 L45.30,246.24 L46.09,240.80 L46.88,246.05 L47.67,256.70 L48.47,267.63 L49.26,276.00 L50.05,281.20 L50.84,283.91 L51.63,285.11 L52.42,285.58 L53.22,285.74 L54.01,285.78 L54.80,285.80 L55.59,285.80 L56.38,285.80 L57.17,285.80 L57.97,285.80 L58.76,285.80 L59.55,285.80 L60.34,285.80 L61.13,285.80 L61.92,285.80 L62.72,285.80 L63.51,285.80 L64.30,285.80 L65.09,285.80 L65.88,285.80 L66.67,285.80 L67.47,285.80 L68.26,285.80 L69.05,285.80 L69.84,285.80 L70.63,285.80 L71.42,285.80 L72.22,285.80 L73.01,285.80 L73.80,285.80 L74.59,285.80 L75.38,285.80 L76.17,285.80 L76.97,285.80 L77.76,285.80 L78.55,285.80 L79.34,285.80 L80.13,285.80 L80.92,285.80 L81.72,285.80 L82.51,285.80 L83.30,285.80 L83.30,285.80 Z" fill="#f28a8f" fill-opacity="0.9" stroke="none"/>
<path d="M35.80,285.80 L35.80,285.80 L36.59,285.80 L37.38,285.80 L38.17,285.80 L38.97,285.80 L39.76,285.80 L40.55,285.80 L41.34,285.80 L42.13,285.80 L42.92,285.80 L43.72,285.80 L44.51,285.80 L45.30,285.80 L46.09,285.80 L46.88,285.80 L47.67,285.80 L48.47,285.80 L49.26,285.80 L50.05,285.80 L50.84,285.79 L51.63,285.77 L52.42,285.72 L53.22,285.58 L54.01,285.24 L54.80,284.51 L55.59,283.03 L56.38,280.34 L57.17,275.91 L57.97,269.41 L58.76,261.05 L59.55,251.94 L60.34,244.20 L61.13,240.81 L61.92,244.73 L62.72,252.69 L63.51,261.81 L64.30,270.04 L65.09,276.36 L65.88,280.63 L66.67,283.20 L67.47,284.59 L68.26,285.28 L69.05,285.60 L69.84,285.73 L70.63,285.77 L71.42,285.79 L72.22,285.80 L73.01,285.80 L73.80,285.80 L74.59,285.80 L75.38,285.80 L76.17,285.80 L76.97,285.80 L77.76,285.80 L78.55,285.80 L79.34,285.80 L80.13,285.80 L80.92,285.80 L81.72,285.80 L82.51,285.80 L83.30,285.80 L83.30,285.80 Z" fill="#7fd0ec" fill-opacity="0.9" stroke="none"/>
<rect x="35.50" y="238.00" width="48.10" height="47.80" fill="none" stroke="#b8b8b8" stroke-width="0.5"/>
<line x1="35.50" y1="238.00" x2="35.50" y2="285.80" stroke="#888" stroke-width="0.5" />
<line x1="35.50" y1="285.80" x2="83.60" y2="285.80" stroke="#888" stroke-width="0.5" />
<line x1="34.20" y1="285.00" x2="35.50" y2="285.00" stroke="#777" stroke-width="0.4" />
<text x="33.20" y="285.00" font-size="5.3" text-anchor="end" fill="#333" dominant-baseline="central" >0</text>
<line x1="34.20" y1="275.96" x2="35.50" y2="275.96" stroke="#777" stroke-width="0.4" />
<text x="33.20" y="275.96" font-size="5.3" text-anchor="end" fill="#333" dominant-baseline="central" >20</text>
<line x1="34.20" y1="266.92" x2="35.50" y2="266.92" stroke="#777" stroke-width="0.4" />
<text x="33.20" y="266.92" font-size="5.3" text-anchor="end" fill="#333" dominant-baseline="central" >40</text>
<line x1="34.20" y1="257.88" x2="35.50" y2="257.88" stroke="#777" stroke-width="0.4" />
<text x="33.20" y="257.88" font-size="5.3" text-anchor="end" fill="#333" dominant-baseline="central" >60</text>
<line x1="34.20" y1="248.84" x2="35.50" y2="248.84" stroke="#777" stroke-width="0.4" />
<text x="33.20" y="248.84" font-size="5.3" text-anchor="end" fill="#333" dominant-baseline="central" >80</text>
<line x1="34.20" y1="239.80" x2="35.50" y2="239.80" stroke="#777" stroke-width="0.4" />
<text x="33.20" y="239.80" font-size="5.3" text-anchor="end" fill="#333" dominant-baseline="central" >100</text>
<line x1="36.50" y1="285.80" x2="36.50" y2="287.00" stroke="#777" stroke-width="0.4" />
<text x="37.10" y="291.60" font-size="5.4" text-anchor="middle" fill="#333" dominant-baseline="central">10<tspan dy="-1.9" font-size="3.7">3</tspan></text>
<line x1="47.65" y1="285.80" x2="47.65" y2="287.00" stroke="#777" stroke-width="0.4" />
<text x="48.25" y="291.60" font-size="5.4" text-anchor="middle" fill="#333" dominant-baseline="central">10<tspan dy="-1.9" font-size="3.7">4</tspan></text>
<line x1="58.80" y1="285.80" x2="58.80" y2="287.00" stroke="#777" stroke-width="0.4" />
<text x="59.40" y="291.60" font-size="5.4" text-anchor="middle" fill="#333" dominant-baseline="central">10<tspan dy="-1.9" font-size="3.7">5</tspan></text>
<line x1="69.95" y1="285.80" x2="69.95" y2="287.00" stroke="#777" stroke-width="0.4" />
<text x="70.55" y="291.60" font-size="5.4" text-anchor="middle" fill="#333" dominant-baseline="central">10<tspan dy="-1.9" font-size="3.7">6</tspan></text>
<line x1="81.10" y1="285.80" x2="81.10" y2="287.00" stroke="#777" stroke-width="0.4" />
<text x="81.70" y="291.60" font-size="5.4" text-anchor="middle" fill="#333" dominant-baseline="central">10<tspan dy="-1.9" font-size="3.7">7</tspan></text>
<text x="81.60" y="243.40" font-size="6.6" text-anchor="end" fill="#231f20" dominant-baseline="central" >110k</text>
<path d="M100.70,285.80 L100.70,285.80 L101.48,285.80 L102.27,285.80 L103.05,285.78 L103.83,285.73 L104.62,285.57 L105.40,285.08 L106.18,283.85 L106.97,281.12 L107.75,275.93 L108.53,267.63 L109.32,256.82 L110.10,246.24 L110.88,240.81 L111.67,245.86 L112.45,256.33 L113.23,267.21 L114.02,275.64 L114.80,280.96 L115.58,283.77 L116.37,285.05 L117.15,285.55 L117.93,285.73 L118.72,285.78 L119.50,285.80 L120.28,285.80 L121.07,285.80 L121.85,285.80 L122.63,285.80 L123.42,285.80 L124.20,285.80 L124.98,285.80 L125.77,285.80 L126.55,285.80 L127.33,285.80 L128.12,285.80 L128.90,285.80 L129.68,285.80 L130.47,285.80 L131.25,285.80 L132.03,285.80 L132.82,285.80 L133.60,285.80 L134.38,285.80 L135.17,285.80 L135.95,285.80 L136.73,285.80 L137.52,285.80 L138.30,285.80 L139.08,285.80 L139.87,285.80 L140.65,285.80 L141.43,285.80 L142.22,285.80 L143.00,285.80 L143.78,285.80 L144.57,285.80 L145.35,285.80 L146.13,285.80 L146.92,285.80 L147.70,285.80 L147.70,285.80 Z" fill="#f28a8f" fill-opacity="0.9" stroke="none"/>
<path d="M100.70,285.80 L100.70,285.80 L101.48,285.80 L102.27,285.80 L103.05,285.80 L103.83,285.80 L104.62,285.80 L105.40,285.80 L106.18,285.80 L106.97,285.80 L107.75,285.80 L108.53,285.79 L109.32,285.78 L110.10,285.75 L110.88,285.66 L111.67,285.45 L112.45,285.00 L113.23,284.08 L114.02,282.38 L114.80,279.49 L115.58,275.03 L116.37,268.86 L117.15,261.34 L117.93,253.52 L118.72,247.21 L119.50,244.88 L120.28,248.55 L121.07,255.45 L121.85,263.34 L122.63,270.59 L123.42,276.33 L124.20,280.36 L124.98,282.91 L125.77,284.37 L126.55,285.15 L127.33,285.52 L128.12,285.69 L128.90,285.76 L129.68,285.79 L130.47,285.80 L131.25,285.80 L132.03,285.80 L132.82,285.80 L133.60,285.80 L134.38,285.80 L135.17,285.80 L135.95,285.80 L136.73,285.80 L137.52,285.80 L138.30,285.80 L139.08,285.80 L139.87,285.80 L140.65,285.80 L141.43,285.80 L142.22,285.80 L143.00,285.80 L143.78,285.80 L144.57,285.80 L145.35,285.80 L146.13,285.80 L146.92,285.80 L147.70,285.80 L147.70,285.80 Z" fill="#7fd0ec" fill-opacity="0.9" stroke="none"/>
<rect x="100.40" y="238.00" width="47.60" height="47.80" fill="none" stroke="#b8b8b8" stroke-width="0.5"/>
<line x1="100.40" y1="238.00" x2="100.40" y2="285.80" stroke="#888" stroke-width="0.5" />
<line x1="100.40" y1="285.80" x2="148.00" y2="285.80" stroke="#888" stroke-width="0.5" />
<line x1="99.10" y1="285.00" x2="100.40" y2="285.00" stroke="#777" stroke-width="0.4" />
<text x="98.10" y="285.00" font-size="5.3" text-anchor="end" fill="#333" dominant-baseline="central" >0</text>
<line x1="99.10" y1="275.96" x2="100.40" y2="275.96" stroke="#777" stroke-width="0.4" />
<text x="98.10" y="275.96" font-size="5.3" text-anchor="end" fill="#333" dominant-baseline="central" >20</text>
<line x1="99.10" y1="266.92" x2="100.40" y2="266.92" stroke="#777" stroke-width="0.4" />
<text x="98.10" y="266.92" font-size="5.3" text-anchor="end" fill="#333" dominant-baseline="central" >40</text>
<line x1="99.10" y1="257.88" x2="100.40" y2="257.88" stroke="#777" stroke-width="0.4" />
<text x="98.10" y="257.88" font-size="5.3" text-anchor="end" fill="#333" dominant-baseline="central" >60</text>
<line x1="99.10" y1="248.84" x2="100.40" y2="248.84" stroke="#777" stroke-width="0.4" />
<text x="98.10" y="248.84" font-size="5.3" text-anchor="end" fill="#333" dominant-baseline="central" >80</text>
<line x1="99.10" y1="239.80" x2="100.40" y2="239.80" stroke="#777" stroke-width="0.4" />
<text x="98.10" y="239.80" font-size="5.3" text-anchor="end" fill="#333" dominant-baseline="central" >100</text>
<line x1="101.40" y1="285.80" x2="101.40" y2="287.00" stroke="#777" stroke-width="0.4" />
<text x="102.00" y="291.60" font-size="5.4" text-anchor="middle" fill="#333" dominant-baseline="central">10<tspan dy="-1.9" font-size="3.7">3</tspan></text>
<line x1="112.43" y1="285.80" x2="112.43" y2="287.00" stroke="#777" stroke-width="0.4" />
<text x="113.03" y="291.60" font-size="5.4" text-anchor="middle" fill="#333" dominant-baseline="central">10<tspan dy="-1.9" font-size="3.7">4</tspan></text>
<line x1="123.45" y1="285.80" x2="123.45" y2="287.00" stroke="#777" stroke-width="0.4" />
<text x="124.05" y="291.60" font-size="5.4" text-anchor="middle" fill="#333" dominant-baseline="central">10<tspan dy="-1.9" font-size="3.7">5</tspan></text>
<line x1="134.47" y1="285.80" x2="134.47" y2="287.00" stroke="#777" stroke-width="0.4" />
<text x="135.07" y="291.60" font-size="5.4" text-anchor="middle" fill="#333" dominant-baseline="central">10<tspan dy="-1.9" font-size="3.7">6</tspan></text>
<line x1="145.50" y1="285.80" x2="145.50" y2="287.00" stroke="#777" stroke-width="0.4" />
<text x="146.10" y="291.60" font-size="5.4" text-anchor="middle" fill="#333" dominant-baseline="central">10<tspan dy="-1.9" font-size="3.7">7</tspan></text>
<text x="146.00" y="243.40" font-size="6.6" text-anchor="end" fill="#231f20" dominant-baseline="central" >27k</text>
<path d="M292.60,153.80 L292.60,153.80 L293.40,153.80 L294.20,153.79 L295.00,153.76 L295.79,153.65 L296.59,153.27 L297.39,152.21 L298.19,149.64 L298.99,144.42 L299.79,135.69 L300.58,124.22 L301.38,113.56 L302.18,110.22 L302.98,117.92 L303.78,129.58 L304.58,140.07 L305.37,147.17 L306.17,151.06 L306.97,152.82 L307.77,153.50 L308.57,153.72 L309.37,153.78 L310.16,153.80 L310.96,153.80 L311.76,153.80 L312.56,153.80 L313.36,153.80 L314.16,153.80 L314.95,153.80 L315.75,153.80 L316.55,153.80 L317.35,153.80 L318.15,153.80 L318.94,153.80 L319.74,153.80 L320.54,153.80 L321.34,153.80 L322.14,153.80 L322.94,153.80 L323.74,153.80 L324.53,153.80 L325.33,153.80 L326.13,153.80 L326.93,153.80 L327.73,153.80 L328.52,153.80 L329.32,153.80 L330.12,153.80 L330.92,153.80 L331.72,153.80 L332.52,153.80 L333.31,153.80 L334.11,153.80 L334.91,153.80 L335.71,153.80 L336.51,153.80 L337.31,153.80 L338.11,153.80 L338.90,153.80 L339.70,153.80 L340.50,153.80 L340.50,153.80 Z" fill="#f28a8f" fill-opacity="0.9" stroke="none"/>
<path d="M292.60,153.80 L292.60,153.80 L293.40,153.80 L294.20,153.80 L295.00,153.80 L295.79,153.80 L296.59,153.80 L297.39,153.80 L298.19,153.80 L298.99,153.80 L299.79,153.80 L300.58,153.80 L301.38,153.80 L302.18,153.80 L302.98,153.80 L303.78,153.80 L304.58,153.80 L305.37,153.80 L306.17,153.80 L306.97,153.80 L307.77,153.80 L308.57,153.80 L309.37,153.80 L310.16,153.80 L310.96,153.78 L311.76,153.75 L312.56,153.65 L313.36,153.39 L314.16,152.78 L314.95,151.50 L315.75,149.04 L316.55,144.84 L317.35,138.48 L318.15,130.15 L318.94,121.04 L319.74,113.51 L320.54,110.98 L321.34,115.81 L322.14,124.24 L322.94,133.29 L323.74,140.99 L324.53,146.57 L325.33,150.09 L326.13,152.06 L326.93,153.06 L327.73,153.51 L328.52,153.70 L329.32,153.77 L330.12,153.79 L330.92,153.80 L331.72,153.80 L332.52,153.80 L333.31,153.80 L334.11,153.80 L334.91,153.80 L335.71,153.80 L336.51,153.80 L337.31,153.80 L338.11,153.80 L338.90,153.80 L339.70,153.80 L340.50,153.80 L340.50,153.80 Z" fill="#7fd0ec" fill-opacity="0.9" stroke="none"/>
<rect x="292.30" y="105.40" width="48.50" height="48.40" fill="none" stroke="#b8b8b8" stroke-width="0.5"/>
<line x1="292.30" y1="105.40" x2="292.30" y2="153.80" stroke="#888" stroke-width="0.5" />
<line x1="292.30" y1="153.80" x2="340.80" y2="153.80" stroke="#888" stroke-width="0.5" />
<line x1="291.00" y1="153.00" x2="292.30" y2="153.00" stroke="#777" stroke-width="0.4" />
<text x="290.00" y="153.00" font-size="5.3" text-anchor="end" fill="#333" dominant-baseline="central" >0</text>
<line x1="291.00" y1="143.84" x2="292.30" y2="143.84" stroke="#777" stroke-width="0.4" />
<text x="290.00" y="143.84" font-size="5.3" text-anchor="end" fill="#333" dominant-baseline="central" >20</text>
<line x1="291.00" y1="134.68" x2="292.30" y2="134.68" stroke="#777" stroke-width="0.4" />
<text x="290.00" y="134.68" font-size="5.3" text-anchor="end" fill="#333" dominant-baseline="central" >40</text>
<line x1="291.00" y1="125.52" x2="292.30" y2="125.52" stroke="#777" stroke-width="0.4" />
<text x="290.00" y="125.52" font-size="5.3" text-anchor="end" fill="#333" dominant-baseline="central" >60</text>
<line x1="291.00" y1="116.36" x2="292.30" y2="116.36" stroke="#777" stroke-width="0.4" />
<text x="290.00" y="116.36" font-size="5.3" text-anchor="end" fill="#333" dominant-baseline="central" >80</text>
<line x1="291.00" y1="107.20" x2="292.30" y2="107.20" stroke="#777" stroke-width="0.4" />
<text x="290.00" y="107.20" font-size="5.3" text-anchor="end" fill="#333" dominant-baseline="central" >100</text>
<line x1="293.30" y1="153.80" x2="293.30" y2="155.00" stroke="#777" stroke-width="0.4" />
<text x="293.90" y="159.60" font-size="5.4" text-anchor="middle" fill="#333" dominant-baseline="central">10<tspan dy="-1.9" font-size="3.7">3</tspan></text>
<line x1="304.55" y1="153.80" x2="304.55" y2="155.00" stroke="#777" stroke-width="0.4" />
<text x="305.15" y="159.60" font-size="5.4" text-anchor="middle" fill="#333" dominant-baseline="central">10<tspan dy="-1.9" font-size="3.7">4</tspan></text>
<line x1="315.80" y1="153.80" x2="315.80" y2="155.00" stroke="#777" stroke-width="0.4" />
<text x="316.40" y="159.60" font-size="5.4" text-anchor="middle" fill="#333" dominant-baseline="central">10<tspan dy="-1.9" font-size="3.7">5</tspan></text>
<line x1="327.05" y1="153.80" x2="327.05" y2="155.00" stroke="#777" stroke-width="0.4" />
<text x="327.65" y="159.60" font-size="5.4" text-anchor="middle" fill="#333" dominant-baseline="central">10<tspan dy="-1.9" font-size="3.7">6</tspan></text>
<line x1="338.30" y1="153.80" x2="338.30" y2="155.00" stroke="#777" stroke-width="0.4" />
<text x="338.90" y="159.60" font-size="5.4" text-anchor="middle" fill="#333" dominant-baseline="central">10<tspan dy="-1.9" font-size="3.7">7</tspan></text>
<text x="338.80" y="110.80" font-size="6.6" text-anchor="end" fill="#231f20" dominant-baseline="central" >155k</text>
<path d="M358.80,153.80 L358.80,153.80 L359.59,153.80 L360.38,153.78 L361.17,153.71 L361.96,153.49 L362.75,152.80 L363.54,151.05 L364.33,147.23 L365.12,140.28 L365.91,130.05 L366.70,118.62 L367.49,110.85 L368.28,113.63 L369.07,123.87 L369.86,135.18 L370.65,143.97 L371.44,149.35 L372.23,152.06 L373.02,153.21 L373.81,153.62 L374.60,153.75 L375.39,153.79 L376.18,153.80 L376.97,153.80 L377.76,153.80 L378.55,153.80 L379.34,153.80 L380.13,153.80 L380.92,153.80 L381.71,153.80 L382.50,153.80 L383.29,153.80 L384.08,153.80 L384.87,153.80 L385.66,153.80 L386.45,153.80 L387.24,153.80 L388.03,153.80 L388.82,153.80 L389.61,153.80 L390.40,153.80 L391.19,153.80 L391.98,153.80 L392.77,153.80 L393.56,153.80 L394.35,153.80 L395.14,153.80 L395.93,153.80 L396.72,153.80 L397.51,153.80 L398.30,153.80 L399.09,153.80 L399.88,153.80 L400.67,153.80 L401.46,153.80 L402.25,153.80 L403.04,153.80 L403.83,153.80 L404.62,153.80 L405.41,153.80 L406.20,153.80 L406.20,153.80 Z" fill="#f28a8f" fill-opacity="0.9" stroke="none"/>
<path d="M358.80,153.80 L358.80,153.80 L359.59,153.80 L360.38,153.80 L361.17,153.80 L361.96,153.80 L362.75,153.80 L363.54,153.80 L364.33,153.80 L365.12,153.80 L365.91,153.80 L366.70,153.80 L367.49,153.80 L368.28,153.79 L369.07,153.77 L369.86,153.71 L370.65,153.53 L371.44,153.07 L372.23,152.05 L373.02,149.97 L373.81,146.20 L374.60,140.21 L375.39,131.98 L376.18,122.55 L376.97,114.32 L377.76,110.84 L378.55,115.36 L379.34,123.98 L380.13,133.35 L380.92,141.27 L381.71,146.91 L382.50,150.38 L383.29,152.26 L384.08,153.17 L384.87,153.57 L385.66,153.72 L386.45,153.78 L387.24,153.79 L388.03,153.80 L388.82,153.80 L389.61,153.80 L390.40,153.80 L391.19,153.80 L391.98,153.80 L392.77,153.80 L393.56,153.80 L394.35,153.80 L395.14,153.80 L395.93,153.80 L396.72,153.80 L397.51,153.80 L398.30,153.80 L399.09,153.80 L399.88,153.80 L400.67,153.80 L401.46,153.80 L402.25,153.80 L403.04,153.80 L403.83,153.80 L404.62,153.80 L405.41,153.80 L406.20,153.80 L406.20,153.80 Z" fill="#7fd0ec" fill-opacity="0.9" stroke="none"/>
<rect x="358.50" y="105.40" width="48.00" height="48.40" fill="none" stroke="#b8b8b8" stroke-width="0.5"/>
<line x1="358.50" y1="105.40" x2="358.50" y2="153.80" stroke="#888" stroke-width="0.5" />
<line x1="358.50" y1="153.80" x2="406.50" y2="153.80" stroke="#888" stroke-width="0.5" />
<line x1="357.20" y1="153.00" x2="358.50" y2="153.00" stroke="#777" stroke-width="0.4" />
<text x="356.20" y="153.00" font-size="5.3" text-anchor="end" fill="#333" dominant-baseline="central" >0</text>
<line x1="357.20" y1="143.84" x2="358.50" y2="143.84" stroke="#777" stroke-width="0.4" />
<text x="356.20" y="143.84" font-size="5.3" text-anchor="end" fill="#333" dominant-baseline="central" >20</text>
<line x1="357.20" y1="134.68" x2="358.50" y2="134.68" stroke="#777" stroke-width="0.4" />
<text x="356.20" y="134.68" font-size="5.3" text-anchor="end" fill="#333" dominant-baseline="central" >40</text>
<line x1="357.20" y1="125.52" x2="358.50" y2="125.52" stroke="#777" stroke-width="0.4" />
<text x="356.20" y="125.52" font-size="5.3" text-anchor="end" fill="#333" dominant-baseline="central" >60</text>
<line x1="357.20" y1="116.36" x2="358.50" y2="116.36" stroke="#777" stroke-width="0.4" />
<text x="356.20" y="116.36" font-size="5.3" text-anchor="end" fill="#333" dominant-baseline="central" >80</text>
<line x1="357.20" y1="107.20" x2="358.50" y2="107.20" stroke="#777" stroke-width="0.4" />
<text x="356.20" y="107.20" font-size="5.3" text-anchor="end" fill="#333" dominant-baseline="central" >100</text>
<line x1="359.50" y1="153.80" x2="359.50" y2="155.00" stroke="#777" stroke-width="0.4" />
<text x="360.10" y="159.60" font-size="5.4" text-anchor="middle" fill="#333" dominant-baseline="central">10<tspan dy="-1.9" font-size="3.7">3</tspan></text>
<line x1="370.62" y1="153.80" x2="370.62" y2="155.00" stroke="#777" stroke-width="0.4" />
<text x="371.23" y="159.60" font-size="5.4" text-anchor="middle" fill="#333" dominant-baseline="central">10<tspan dy="-1.9" font-size="3.7">4</tspan></text>
<line x1="381.75" y1="153.80" x2="381.75" y2="155.00" stroke="#777" stroke-width="0.4" />
<text x="382.35" y="159.60" font-size="5.4" text-anchor="middle" fill="#333" dominant-baseline="central">10<tspan dy="-1.9" font-size="3.7">5</tspan></text>
<line x1="392.88" y1="153.80" x2="392.88" y2="155.00" stroke="#777" stroke-width="0.4" />
<text x="393.48" y="159.60" font-size="5.4" text-anchor="middle" fill="#333" dominant-baseline="central">10<tspan dy="-1.9" font-size="3.7">6</tspan></text>
<line x1="404.00" y1="153.80" x2="404.00" y2="155.00" stroke="#777" stroke-width="0.4" />
<text x="404.60" y="159.60" font-size="5.4" text-anchor="middle" fill="#333" dominant-baseline="central">10<tspan dy="-1.9" font-size="3.7">7</tspan></text>
<text x="404.50" y="110.80" font-size="6.6" text-anchor="end" fill="#231f20" dominant-baseline="central" >31k</text>
<path d="M292.60,220.00 L292.60,220.00 L293.40,220.00 L294.20,219.99 L295.00,219.94 L295.79,219.81 L296.59,219.43 L297.39,218.45 L298.19,216.28 L298.99,212.06 L299.79,205.07 L300.58,195.43 L301.38,184.97 L302.18,177.48 L302.98,178.50 L303.78,186.95 L304.58,197.49 L305.37,206.69 L306.17,213.10 L306.97,216.84 L307.77,218.72 L308.57,219.54 L309.37,219.85 L310.16,219.96 L310.96,219.99 L311.76,220.00 L312.56,220.00 L313.36,220.00 L314.16,220.00 L314.95,220.00 L315.75,220.00 L316.55,220.00 L317.35,220.00 L318.15,220.00 L318.94,220.00 L319.74,220.00 L320.54,220.00 L321.34,220.00 L322.14,220.00 L322.94,220.00 L323.74,220.00 L324.53,220.00 L325.33,220.00 L326.13,220.00 L326.93,220.00 L327.73,220.00 L328.52,220.00 L329.32,220.00 L330.12,220.00 L330.92,220.00 L331.72,220.00 L332.52,220.00 L333.31,220.00 L334.11,220.00 L334.91,220.00 L335.71,220.00 L336.51,220.00 L337.31,220.00 L338.11,220.00 L338.90,220.00 L339.70,220.00 L340.50,220.00 L340.50,220.00 Z" fill="#f28a8f" fill-opacity="0.9" stroke="none"/>
<path d="M292.60,220.00 L292.60,219.89 L293.40,219.85 L294.20,219.79 L295.00,219.72 L295.79,219.63 L296.59,219.51 L297.39,219.37 L298.19,219.20 L298.99,219.00 L299.79,218.76 L300.58,218.50 L301.38,218.22 L302.18,217.92 L302.98,217.61 L303.78,217.31 L304.58,217.03 L305.37,216.77 L306.17,216.56 L306.97,216.40 L307.77,216.30 L308.57,216.23 L309.37,216.10 L310.16,215.81 L310.96,215.23 L311.76,214.21 L312.56,212.60 L313.36,210.23 L314.16,206.99 L314.95,202.83 L315.75,197.86 L316.55,192.36 L317.35,186.81 L318.15,181.87 L318.94,178.35 L319.74,177.31 L320.54,179.59 L321.34,183.89 L322.14,189.33 L322.94,195.14 L323.74,200.72 L324.53,205.67 L325.33,209.78 L326.13,213.00 L326.93,215.38 L327.73,217.07 L328.52,218.21 L329.32,218.94 L330.12,219.40 L330.92,219.67 L331.72,219.82 L332.52,219.91 L333.31,219.96 L334.11,219.98 L334.91,219.99 L335.71,220.00 L336.51,220.00 L337.31,220.00 L338.11,220.00 L338.90,220.00 L339.70,220.00 L340.50,220.00 L340.50,220.00 Z" fill="#7fd0ec" fill-opacity="0.9" stroke="none"/>
<rect x="292.30" y="172.30" width="48.50" height="47.70" fill="none" stroke="#b8b8b8" stroke-width="0.5"/>
<line x1="292.30" y1="172.30" x2="292.30" y2="220.00" stroke="#888" stroke-width="0.5" />
<line x1="292.30" y1="220.00" x2="340.80" y2="220.00" stroke="#888" stroke-width="0.5" />
<line x1="291.00" y1="219.20" x2="292.30" y2="219.20" stroke="#777" stroke-width="0.4" />
<text x="290.00" y="219.20" font-size="5.3" text-anchor="end" fill="#333" dominant-baseline="central" >0</text>
<line x1="291.00" y1="210.18" x2="292.30" y2="210.18" stroke="#777" stroke-width="0.4" />
<text x="290.00" y="210.18" font-size="5.3" text-anchor="end" fill="#333" dominant-baseline="central" >20</text>
<line x1="291.00" y1="201.16" x2="292.30" y2="201.16" stroke="#777" stroke-width="0.4" />
<text x="290.00" y="201.16" font-size="5.3" text-anchor="end" fill="#333" dominant-baseline="central" >40</text>
<line x1="291.00" y1="192.14" x2="292.30" y2="192.14" stroke="#777" stroke-width="0.4" />
<text x="290.00" y="192.14" font-size="5.3" text-anchor="end" fill="#333" dominant-baseline="central" >60</text>
<line x1="291.00" y1="183.12" x2="292.30" y2="183.12" stroke="#777" stroke-width="0.4" />
<text x="290.00" y="183.12" font-size="5.3" text-anchor="end" fill="#333" dominant-baseline="central" >80</text>
<line x1="291.00" y1="174.10" x2="292.30" y2="174.10" stroke="#777" stroke-width="0.4" />
<text x="290.00" y="174.10" font-size="5.3" text-anchor="end" fill="#333" dominant-baseline="central" >100</text>
<line x1="293.30" y1="220.00" x2="293.30" y2="221.20" stroke="#777" stroke-width="0.4" />
<text x="293.90" y="225.80" font-size="5.4" text-anchor="middle" fill="#333" dominant-baseline="central">10<tspan dy="-1.9" font-size="3.7">3</tspan></text>
<line x1="304.55" y1="220.00" x2="304.55" y2="221.20" stroke="#777" stroke-width="0.4" />
<text x="305.15" y="225.80" font-size="5.4" text-anchor="middle" fill="#333" dominant-baseline="central">10<tspan dy="-1.9" font-size="3.7">4</tspan></text>
<line x1="315.80" y1="220.00" x2="315.80" y2="221.20" stroke="#777" stroke-width="0.4" />
<text x="316.40" y="225.80" font-size="5.4" text-anchor="middle" fill="#333" dominant-baseline="central">10<tspan dy="-1.9" font-size="3.7">5</tspan></text>
<line x1="327.05" y1="220.00" x2="327.05" y2="221.20" stroke="#777" stroke-width="0.4" />
<text x="327.65" y="225.80" font-size="5.4" text-anchor="middle" fill="#333" dominant-baseline="central">10<tspan dy="-1.9" font-size="3.7">6</tspan></text>
<line x1="338.30" y1="220.00" x2="338.30" y2="221.20" stroke="#777" stroke-width="0.4" />
<text x="338.90" y="225.80" font-size="5.4" text-anchor="middle" fill="#333" dominant-baseline="central">10<tspan dy="-1.9" font-size="3.7">7</tspan></text>
<text x="338.80" y="177.70" font-size="6.6" text-anchor="end" fill="#231f20" dominant-baseline="central" >131k</text>
<path d="M358.80,220.00 L358.80,219.97 L359.59,219.90 L360.38,219.71 L361.17,219.20 L361.96,218.01 L362.75,215.57 L363.54,211.16 L364.33,204.22 L365.12,195.01 L365.91,185.15 L366.70,177.83 L367.49,177.78 L368.28,185.03 L369.07,194.88 L369.86,204.12 L370.65,211.09 L371.44,215.53 L372.23,217.99 L373.02,219.19 L373.81,219.70 L374.60,219.90 L375.39,219.97 L376.18,219.99 L376.97,220.00 L377.76,220.00 L378.55,220.00 L379.34,220.00 L380.13,220.00 L380.92,220.00 L381.71,220.00 L382.50,220.00 L383.29,220.00 L384.08,220.00 L384.87,220.00 L385.66,220.00 L386.45,220.00 L387.24,220.00 L388.03,220.00 L388.82,220.00 L389.61,220.00 L390.40,220.00 L391.19,220.00 L391.98,220.00 L392.77,220.00 L393.56,220.00 L394.35,220.00 L395.14,220.00 L395.93,220.00 L396.72,220.00 L397.51,220.00 L398.30,220.00 L399.09,220.00 L399.88,220.00 L400.67,220.00 L401.46,220.00 L402.25,220.00 L403.04,220.00 L403.83,220.00 L404.62,220.00 L405.41,220.00 L406.20,220.00 L406.20,220.00 Z" fill="#f28a8f" fill-opacity="0.9" stroke="none"/>
<path d="M358.80,220.00 L358.80,220.00 L359.59,220.00 L360.38,220.00 L361.17,220.00 L361.96,219.99 L362.75,219.98 L363.54,219.96 L364.33,219.90 L365.12,219.79 L365.91,219.58 L366.70,219.17 L367.49,218.45 L368.28,217.24 L369.07,215.32 L369.86,212.48 L370.65,208.54 L371.44,203.46 L372.23,197.45 L373.02,191.05 L373.81,185.12 L374.60,180.81 L375.39,179.67 L376.18,182.60 L376.97,187.84 L377.76,194.13 L378.55,200.43 L379.34,206.04 L380.13,210.58 L380.92,213.98 L381.71,216.35 L382.50,217.89 L383.29,218.84 L384.08,219.40 L384.87,219.70 L385.66,219.86 L386.45,219.94 L387.24,219.97 L388.03,219.99 L388.82,220.00 L389.61,220.00 L390.40,220.00 L391.19,220.00 L391.98,220.00 L392.77,220.00 L393.56,220.00 L394.35,220.00 L395.14,220.00 L395.93,220.00 L396.72,220.00 L397.51,220.00 L398.30,220.00 L399.09,220.00 L399.88,220.00 L400.67,220.00 L401.46,220.00 L402.25,220.00 L403.04,220.00 L403.83,220.00 L404.62,220.00 L405.41,220.00 L406.20,220.00 L406.20,220.00 Z" fill="#7fd0ec" fill-opacity="0.9" stroke="none"/>
<rect x="358.50" y="172.30" width="48.00" height="47.70" fill="none" stroke="#b8b8b8" stroke-width="0.5"/>
<line x1="358.50" y1="172.30" x2="358.50" y2="220.00" stroke="#888" stroke-width="0.5" />
<line x1="358.50" y1="220.00" x2="406.50" y2="220.00" stroke="#888" stroke-width="0.5" />
<line x1="357.20" y1="219.20" x2="358.50" y2="219.20" stroke="#777" stroke-width="0.4" />
<text x="356.20" y="219.20" font-size="5.3" text-anchor="end" fill="#333" dominant-baseline="central" >0</text>
<line x1="357.20" y1="210.18" x2="358.50" y2="210.18" stroke="#777" stroke-width="0.4" />
<text x="356.20" y="210.18" font-size="5.3" text-anchor="end" fill="#333" dominant-baseline="central" >20</text>
<line x1="357.20" y1="201.16" x2="358.50" y2="201.16" stroke="#777" stroke-width="0.4" />
<text x="356.20" y="201.16" font-size="5.3" text-anchor="end" fill="#333" dominant-baseline="central" >40</text>
<line x1="357.20" y1="192.14" x2="358.50" y2="192.14" stroke="#777" stroke-width="0.4" />
<text x="356.20" y="192.14" font-size="5.3" text-anchor="end" fill="#333" dominant-baseline="central" >60</text>
<line x1="357.20" y1="183.12" x2="358.50" y2="183.12" stroke="#777" stroke-width="0.4" />
<text x="356.20" y="183.12" font-size="5.3" text-anchor="end" fill="#333" dominant-baseline="central" >80</text>
<line x1="357.20" y1="174.10" x2="358.50" y2="174.10" stroke="#777" stroke-width="0.4" />
<text x="356.20" y="174.10" font-size="5.3" text-anchor="end" fill="#333" dominant-baseline="central" >100</text>
<line x1="359.50" y1="220.00" x2="359.50" y2="221.20" stroke="#777" stroke-width="0.4" />
<text x="360.10" y="225.80" font-size="5.4" text-anchor="middle" fill="#333" dominant-baseline="central">10<tspan dy="-1.9" font-size="3.7">3</tspan></text>
<line x1="370.62" y1="220.00" x2="370.62" y2="221.20" stroke="#777" stroke-width="0.4" />
<text x="371.23" y="225.80" font-size="5.4" text-anchor="middle" fill="#333" dominant-baseline="central">10<tspan dy="-1.9" font-size="3.7">4</tspan></text>
<line x1="381.75" y1="220.00" x2="381.75" y2="221.20" stroke="#777" stroke-width="0.4" />
<text x="382.35" y="225.80" font-size="5.4" text-anchor="middle" fill="#333" dominant-baseline="central">10<tspan dy="-1.9" font-size="3.7">5</tspan></text>
<line x1="392.88" y1="220.00" x2="392.88" y2="221.20" stroke="#777" stroke-width="0.4" />
<text x="393.48" y="225.80" font-size="5.4" text-anchor="middle" fill="#333" dominant-baseline="central">10<tspan dy="-1.9" font-size="3.7">6</tspan></text>
<line x1="404.00" y1="220.00" x2="404.00" y2="221.20" stroke="#777" stroke-width="0.4" />
<text x="404.60" y="225.80" font-size="5.4" text-anchor="middle" fill="#333" dominant-baseline="central">10<tspan dy="-1.9" font-size="3.7">7</tspan></text>
<text x="404.50" y="177.70" font-size="6.6" text-anchor="end" fill="#231f20" dominant-baseline="central" >22k</text>
<path d="M292.60,286.20 L292.60,286.20 L293.40,286.20 L294.20,286.20 L295.00,286.20 L295.79,286.20 L296.59,286.20 L297.39,286.20 L298.19,286.19 L298.99,286.15 L299.79,286.00 L300.58,285.54 L301.38,284.26 L302.18,281.31 L302.98,275.56 L303.78,266.45 L304.58,255.26 L305.37,246.08 L306.17,245.67 L306.97,254.50 L307.77,265.71 L308.57,275.04 L309.37,281.01 L310.16,284.13 L310.96,285.48 L311.76,285.98 L312.56,286.14 L313.36,286.19 L314.16,286.20 L314.95,286.20 L315.75,286.20 L316.55,286.20 L317.35,286.20 L318.15,286.20 L318.94,286.20 L319.74,286.20 L320.54,286.20 L321.34,286.20 L322.14,286.20 L322.94,286.20 L323.74,286.20 L324.53,286.20 L325.33,286.20 L326.13,286.20 L326.93,286.20 L327.73,286.20 L328.52,286.20 L329.32,286.20 L330.12,286.20 L330.92,286.20 L331.72,286.20 L332.52,286.20 L333.31,286.20 L334.11,286.20 L334.91,286.20 L335.71,286.20 L336.51,286.20 L337.31,286.20 L338.11,286.20 L338.90,286.20 L339.70,286.20 L340.50,286.20 L340.50,286.20 Z" fill="#f28a8f" fill-opacity="0.9" stroke="none"/>
<path d="M292.60,286.20 L292.60,286.20 L293.40,286.20 L294.20,286.20 L295.00,286.20 L295.79,286.20 L296.59,286.20 L297.39,286.20 L298.19,286.20 L298.99,286.20 L299.79,286.20 L300.58,286.20 L301.38,286.20 L302.18,286.20 L302.98,286.20 L303.78,286.20 L304.58,286.20 L305.37,286.20 L306.17,286.20 L306.97,286.20 L307.77,286.20 L308.57,286.19 L309.37,286.15 L310.16,286.03 L310.96,285.72 L311.76,284.93 L312.56,283.18 L313.36,279.79 L314.16,274.04 L314.95,265.70 L315.75,255.73 L316.55,246.70 L317.35,242.73 L318.15,247.62 L318.94,256.95 L319.74,266.83 L320.54,274.88 L321.34,280.32 L322.14,283.47 L322.94,285.06 L323.74,285.77 L324.53,286.06 L325.33,286.16 L326.13,286.19 L326.93,286.20 L327.73,286.20 L328.52,286.20 L329.32,286.20 L330.12,286.20 L330.92,286.20 L331.72,286.20 L332.52,286.20 L333.31,286.20 L334.11,286.20 L334.91,286.20 L335.71,286.20 L336.51,286.20 L337.31,286.20 L338.11,286.20 L338.90,286.20 L339.70,286.20 L340.50,286.20 L340.50,286.20 Z" fill="#7fd0ec" fill-opacity="0.9" stroke="none"/>
<rect x="292.30" y="237.80" width="48.50" height="48.40" fill="none" stroke="#b8b8b8" stroke-width="0.5"/>
<line x1="292.30" y1="237.80" x2="292.30" y2="286.20" stroke="#888" stroke-width="0.5" />
<line x1="292.30" y1="286.20" x2="340.80" y2="286.20" stroke="#888" stroke-width="0.5" />
<line x1="291.00" y1="285.40" x2="292.30" y2="285.40" stroke="#777" stroke-width="0.4" />
<text x="290.00" y="285.40" font-size="5.3" text-anchor="end" fill="#333" dominant-baseline="central" >0</text>
<line x1="291.00" y1="276.24" x2="292.30" y2="276.24" stroke="#777" stroke-width="0.4" />
<text x="290.00" y="276.24" font-size="5.3" text-anchor="end" fill="#333" dominant-baseline="central" >20</text>
<line x1="291.00" y1="267.08" x2="292.30" y2="267.08" stroke="#777" stroke-width="0.4" />
<text x="290.00" y="267.08" font-size="5.3" text-anchor="end" fill="#333" dominant-baseline="central" >40</text>
<line x1="291.00" y1="257.92" x2="292.30" y2="257.92" stroke="#777" stroke-width="0.4" />
<text x="290.00" y="257.92" font-size="5.3" text-anchor="end" fill="#333" dominant-baseline="central" >60</text>
<line x1="291.00" y1="248.76" x2="292.30" y2="248.76" stroke="#777" stroke-width="0.4" />
<text x="290.00" y="248.76" font-size="5.3" text-anchor="end" fill="#333" dominant-baseline="central" >80</text>
<line x1="291.00" y1="239.60" x2="292.30" y2="239.60" stroke="#777" stroke-width="0.4" />
<text x="290.00" y="239.60" font-size="5.3" text-anchor="end" fill="#333" dominant-baseline="central" >100</text>
<line x1="293.30" y1="286.20" x2="293.30" y2="287.40" stroke="#777" stroke-width="0.4" />
<text x="293.90" y="292.00" font-size="5.4" text-anchor="middle" fill="#333" dominant-baseline="central">10<tspan dy="-1.9" font-size="3.7">3</tspan></text>
<line x1="304.55" y1="286.20" x2="304.55" y2="287.40" stroke="#777" stroke-width="0.4" />
<text x="305.15" y="292.00" font-size="5.4" text-anchor="middle" fill="#333" dominant-baseline="central">10<tspan dy="-1.9" font-size="3.7">4</tspan></text>
<line x1="315.80" y1="286.20" x2="315.80" y2="287.40" stroke="#777" stroke-width="0.4" />
<text x="316.40" y="292.00" font-size="5.4" text-anchor="middle" fill="#333" dominant-baseline="central">10<tspan dy="-1.9" font-size="3.7">5</tspan></text>
<line x1="327.05" y1="286.20" x2="327.05" y2="287.40" stroke="#777" stroke-width="0.4" />
<text x="327.65" y="292.00" font-size="5.4" text-anchor="middle" fill="#333" dominant-baseline="central">10<tspan dy="-1.9" font-size="3.7">6</tspan></text>
<line x1="338.30" y1="286.20" x2="338.30" y2="287.40" stroke="#777" stroke-width="0.4" />
<text x="338.90" y="292.00" font-size="5.4" text-anchor="middle" fill="#333" dominant-baseline="central">10<tspan dy="-1.9" font-size="3.7">7</tspan></text>
<text x="338.80" y="243.20" font-size="6.6" text-anchor="end" fill="#231f20" dominant-baseline="central" >95k</text>
<path d="M358.80,286.20 L358.80,286.20 L359.59,286.20 L360.38,286.20 L361.17,286.20 L361.96,286.20 L362.75,286.20 L363.54,286.19 L364.33,286.16 L365.12,286.05 L365.91,285.68 L366.70,284.66 L367.49,282.22 L368.28,277.30 L369.07,269.10 L369.86,258.30 L370.65,248.11 L371.44,244.46 L372.23,251.34 L373.02,262.28 L373.81,272.39 L374.60,279.39 L375.39,283.31 L376.18,285.14 L376.97,285.86 L377.76,286.11 L378.55,286.18 L379.34,286.20 L380.13,286.20 L380.92,286.20 L381.71,286.20 L382.50,286.20 L383.29,286.20 L384.08,286.20 L384.87,286.20 L385.66,286.20 L386.45,286.20 L387.24,286.20 L388.03,286.20 L388.82,286.20 L389.61,286.20 L390.40,286.20 L391.19,286.20 L391.98,286.20 L392.77,286.20 L393.56,286.20 L394.35,286.20 L395.14,286.20 L395.93,286.20 L396.72,286.20 L397.51,286.20 L398.30,286.20 L399.09,286.20 L399.88,286.20 L400.67,286.20 L401.46,286.20 L402.25,286.20 L403.04,286.20 L403.83,286.20 L404.62,286.20 L405.41,286.20 L406.20,286.20 L406.20,286.20 Z" fill="#f28a8f" fill-opacity="0.9" stroke="none"/>
<path d="M358.80,286.20 L358.80,286.20 L359.59,286.20 L360.38,286.20 L361.17,286.20 L361.96,286.20 L362.75,286.20 L363.54,286.20 L364.33,286.20 L365.12,286.20 L365.91,286.20 L366.70,286.20 L367.49,286.20 L368.28,286.20 L369.07,286.20 L369.86,286.20 L370.65,286.20 L371.44,286.20 L372.23,286.20 L373.02,286.20 L373.81,286.20 L374.60,286.20 L375.39,286.18 L376.18,286.13 L376.97,285.95 L377.76,285.44 L378.55,284.14 L379.34,281.29 L380.13,275.91 L380.92,267.44 L381.71,256.67 L382.50,246.62 L383.29,242.51 L384.08,248.61 L384.87,259.21 L385.66,269.64 L386.45,277.40 L387.24,282.13 L388.03,284.54 L388.82,285.61 L389.61,286.01 L390.40,286.15 L391.19,286.19 L391.98,286.20 L392.77,286.20 L393.56,286.20 L394.35,286.20 L395.14,286.20 L395.93,286.20 L396.72,286.20 L397.51,286.20 L398.30,286.20 L399.09,286.20 L399.88,286.20 L400.67,286.20 L401.46,286.20 L402.25,286.20 L403.04,286.20 L403.83,286.20 L404.62,286.20 L405.41,286.20 L406.20,286.20 L406.20,286.20 Z" fill="#7fd0ec" fill-opacity="0.9" stroke="none"/>
<rect x="358.50" y="237.80" width="48.00" height="48.40" fill="none" stroke="#b8b8b8" stroke-width="0.5"/>
<line x1="358.50" y1="237.80" x2="358.50" y2="286.20" stroke="#888" stroke-width="0.5" />
<line x1="358.50" y1="286.20" x2="406.50" y2="286.20" stroke="#888" stroke-width="0.5" />
<line x1="357.20" y1="285.40" x2="358.50" y2="285.40" stroke="#777" stroke-width="0.4" />
<text x="356.20" y="285.40" font-size="5.3" text-anchor="end" fill="#333" dominant-baseline="central" >0</text>
<line x1="357.20" y1="276.24" x2="358.50" y2="276.24" stroke="#777" stroke-width="0.4" />
<text x="356.20" y="276.24" font-size="5.3" text-anchor="end" fill="#333" dominant-baseline="central" >20</text>
<line x1="357.20" y1="267.08" x2="358.50" y2="267.08" stroke="#777" stroke-width="0.4" />
<text x="356.20" y="267.08" font-size="5.3" text-anchor="end" fill="#333" dominant-baseline="central" >40</text>
<line x1="357.20" y1="257.92" x2="358.50" y2="257.92" stroke="#777" stroke-width="0.4" />
<text x="356.20" y="257.92" font-size="5.3" text-anchor="end" fill="#333" dominant-baseline="central" >60</text>
<line x1="357.20" y1="248.76" x2="358.50" y2="248.76" stroke="#777" stroke-width="0.4" />
<text x="356.20" y="248.76" font-size="5.3" text-anchor="end" fill="#333" dominant-baseline="central" >80</text>
<line x1="357.20" y1="239.60" x2="358.50" y2="239.60" stroke="#777" stroke-width="0.4" />
<text x="356.20" y="239.60" font-size="5.3" text-anchor="end" fill="#333" dominant-baseline="central" >100</text>
<line x1="359.50" y1="286.20" x2="359.50" y2="287.40" stroke="#777" stroke-width="0.4" />
<text x="360.10" y="292.00" font-size="5.4" text-anchor="middle" fill="#333" dominant-baseline="central">10<tspan dy="-1.9" font-size="3.7">3</tspan></text>
<line x1="370.62" y1="286.20" x2="370.62" y2="287.40" stroke="#777" stroke-width="0.4" />
<text x="371.23" y="292.00" font-size="5.4" text-anchor="middle" fill="#333" dominant-baseline="central">10<tspan dy="-1.9" font-size="3.7">4</tspan></text>
<line x1="381.75" y1="286.20" x2="381.75" y2="287.40" stroke="#777" stroke-width="0.4" />
<text x="382.35" y="292.00" font-size="5.4" text-anchor="middle" fill="#333" dominant-baseline="central">10<tspan dy="-1.9" font-size="3.7">5</tspan></text>
<line x1="392.88" y1="286.20" x2="392.88" y2="287.40" stroke="#777" stroke-width="0.4" />
<text x="393.48" y="292.00" font-size="5.4" text-anchor="middle" fill="#333" dominant-baseline="central">10<tspan dy="-1.9" font-size="3.7">6</tspan></text>
<line x1="404.00" y1="286.20" x2="404.00" y2="287.40" stroke="#777" stroke-width="0.4" />
<text x="404.60" y="292.00" font-size="5.4" text-anchor="middle" fill="#333" dominant-baseline="central">10<tspan dy="-1.9" font-size="3.7">7</tspan></text>
<text x="404.50" y="243.20" font-size="6.6" text-anchor="end" fill="#231f20" dominant-baseline="central" >101k</text>
<text x="12.30" y="131.00" font-size="6.5" text-anchor="middle" fill="#231f20" transform="rotate(-90 12.30 131.00)" dominant-baseline="central" >SEM</text>
<text x="20.60" y="131.00" font-size="6.5" text-anchor="middle" fill="#231f20" transform="rotate(-90 20.60 131.00)" dominant-baseline="central" >(MLLr B-ALL)</text>
<text x="12.30" y="196.70" font-size="6.5" text-anchor="middle" fill="#231f20" transform="rotate(-90 12.30 196.70)" dominant-baseline="central" >RS411</text>
<text x="20.60" y="196.70" font-size="6.5" text-anchor="middle" fill="#231f20" transform="rotate(-90 20.60 196.70)" dominant-baseline="central" >(MLLr B-ALL)</text>
<text x="12.30" y="262.00" font-size="6.5" text-anchor="middle" fill="#231f20" transform="rotate(-90 12.30 262.00)" dominant-baseline="central" >NALM6</text>
<text x="20.60" y="262.00" font-size="6.5" text-anchor="middle" fill="#231f20" transform="rotate(-90 20.60 262.00)" dominant-baseline="central" >(B-ALL)</text>
<text x="268.80" y="129.80" font-size="6.5" text-anchor="middle" fill="#231f20" transform="rotate(-90 268.80 129.80)" dominant-baseline="central" >TOLEDO</text>
<text x="277.00" y="129.80" font-size="6.5" text-anchor="middle" fill="#231f20" transform="rotate(-90 277.00 129.80)" dominant-baseline="central" >(DLBCL)</text>
<text x="269.30" y="196.00" font-size="6.5" text-anchor="middle" fill="#231f20" transform="rotate(-90 269.30 196.00)" dominant-baseline="central" >NAMALWA</text>
<text x="277.30" y="196.00" font-size="6.5" text-anchor="middle" fill="#231f20" transform="rotate(-90 277.30 196.00)" dominant-baseline="central" >(BL)</text>
<text x="270.30" y="263.00" font-size="6.5" text-anchor="middle" fill="#231f20" transform="rotate(-90 270.30 263.00)" dominant-baseline="central" >JEKO</text>
<text x="277.30" y="263.00" font-size="6.5" text-anchor="middle" fill="#231f20" transform="rotate(-90 277.30 263.00)" dominant-baseline="central" >(MCL)</text>
<text x="31.70" y="298.40" font-size="7.0" text-anchor="start" fill="#231f20" dominant-baseline="central" >CD19</text>
<line x1="50.60" y1="298.40" x2="77.00" y2="298.40" stroke="#000" stroke-width="0.9" />
<path d="M76.00,296.40 L81.00,298.40 L76.00,300.40 Z" fill="#000"/>
<text x="98.30" y="298.40" font-size="7.0" text-anchor="start" fill="#231f20" dominant-baseline="central" >CD72</text>
<line x1="118.00" y1="298.40" x2="144.50" y2="298.40" stroke="#000" stroke-width="0.9" />
<path d="M143.50,296.40 L148.50,298.40 L143.50,300.40 Z" fill="#000"/>
<text x="291.00" y="298.70" font-size="7.0" text-anchor="start" fill="#231f20" dominant-baseline="central" >CD19</text>
<line x1="310.00" y1="298.70" x2="335.50" y2="298.70" stroke="#000" stroke-width="0.9" />
<path d="M334.50,296.70 L339.50,298.70 L334.50,300.70 Z" fill="#000"/>
<text x="357.50" y="298.70" font-size="7.0" text-anchor="start" fill="#231f20" dominant-baseline="central" >CD72</text>
<line x1="376.50" y1="298.70" x2="402.00" y2="298.70" stroke="#000" stroke-width="0.9" />
<path d="M401.00,296.70 L406.00,298.70 L401.00,300.70 Z" fill="#000"/>
<rect x="43.20" y="307.00" width="8.60" height="8.40" fill="#f0656b" stroke="none" stroke-width="0.5" />
<text x="54.70" y="311.30" font-size="6.6" text-anchor="start" fill="#333" dominant-baseline="central" >Isotype</text>
<rect x="94.00" y="307.00" width="8.60" height="8.40" fill="#55c3ea" stroke="none" stroke-width="0.5" />
<text x="105.50" y="311.30" font-size="6.6" text-anchor="start" fill="#333" dominant-baseline="central" >Target receptor</text>
<rect x="301.80" y="307.20" width="8.60" height="8.40" fill="#f0656b" stroke="none" stroke-width="0.5" />
<text x="313.30" y="311.50" font-size="6.6" text-anchor="start" fill="#333" dominant-baseline="central" >Isotype</text>
<rect x="348.70" y="307.20" width="8.60" height="8.40" fill="#55c3ea" stroke="none" stroke-width="0.5" />
<text x="360.20" y="311.50" font-size="6.6" text-anchor="start" fill="#333" dominant-baseline="central" >Target receptor</text>
<line x1="168.90" y1="108.00" x2="168.90" y2="156.00" stroke="#7a7a7a" stroke-width="0.8" />
<line x1="168.90" y1="156.00" x2="247.00" y2="156.00" stroke="#7a7a7a" stroke-width="0.8" />
<line x1="167.60" y1="150.00" x2="168.90" y2="150.00" stroke="#666" stroke-width="0.4" />
<text x="166.90" y="150.00" font-size="5.4" text-anchor="end" fill="#333" dominant-baseline="central" >0</text>
<line x1="167.60" y1="142.10" x2="168.90" y2="142.10" stroke="#666" stroke-width="0.4" />
<text x="166.90" y="142.10" font-size="5.4" text-anchor="end" fill="#333" dominant-baseline="central" >20</text>
<line x1="167.60" y1="134.20" x2="168.90" y2="134.20" stroke="#666" stroke-width="0.4" />
<text x="166.90" y="134.20" font-size="5.4" text-anchor="end" fill="#333" dominant-baseline="central" >40</text>
<line x1="167.60" y1="126.30" x2="168.90" y2="126.30" stroke="#666" stroke-width="0.4" />
<text x="166.90" y="126.30" font-size="5.4" text-anchor="end" fill="#333" dominant-baseline="central" >60</text>
<line x1="167.60" y1="118.40" x2="168.90" y2="118.40" stroke="#666" stroke-width="0.4" />
<text x="166.90" y="118.40" font-size="5.4" text-anchor="end" fill="#333" dominant-baseline="central" >80</text>
<line x1="167.60" y1="110.50" x2="168.90" y2="110.50" stroke="#666" stroke-width="0.4" />
<text x="166.90" y="110.50" font-size="5.4" text-anchor="end" fill="#333" dominant-baseline="central" >100</text>
<text x="155.00" y="132.00" font-size="5.6" text-anchor="middle" fill="#333" transform="rotate(-90 155.00 132.00)" dominant-baseline="central" >% Lysis</text>
<line x1="178.80" y1="156.00" x2="178.80" y2="157.00" stroke="#666" stroke-width="0.4" />
<text x="178.80" y="161.50" font-size="4.3" text-anchor="middle" fill="#222" dominant-baseline="central" >1:1</text>
<line x1="193.50" y1="156.00" x2="193.50" y2="157.00" stroke="#666" stroke-width="0.4" />
<text x="193.50" y="161.50" font-size="4.3" text-anchor="middle" fill="#222" dominant-baseline="central" >0.3:1</text>
<line x1="207.40" y1="156.00" x2="207.40" y2="157.00" stroke="#666" stroke-width="0.4" />
<text x="207.40" y="161.50" font-size="4.3" text-anchor="middle" fill="#222" dominant-baseline="central" >0.1:1</text>
<line x1="221.60" y1="156.00" x2="221.60" y2="157.00" stroke="#666" stroke-width="0.4" />
<text x="221.60" y="161.50" font-size="4.3" text-anchor="middle" fill="#222" dominant-baseline="central" >0.03:1</text>
<line x1="236.20" y1="156.00" x2="236.20" y2="157.00" stroke="#666" stroke-width="0.4" />
<text x="236.20" y="161.50" font-size="4.3" text-anchor="middle" fill="#222" dominant-baseline="central" >Tumor</text>
<text x="236.20" y="167.30" font-size="4.3" text-anchor="middle" fill="#222" dominant-baseline="central" >alone</text>
<line x1="193.50" y1="110.50" x2="193.50" y2="111.29" stroke="#e3342f" stroke-width="0.4" stroke-opacity="0.5"/>
<line x1="192.60" y1="110.50" x2="194.40" y2="110.50" stroke="#e3342f" stroke-width="0.4" stroke-opacity="0.5"/>
<line x1="192.60" y1="111.29" x2="194.40" y2="111.29" stroke="#e3342f" stroke-width="0.4" stroke-opacity="0.5"/>
<line x1="207.40" y1="113.26" x2="207.40" y2="115.63" stroke="#e3342f" stroke-width="0.4" stroke-opacity="0.5"/>
<line x1="206.50" y1="113.26" x2="208.30" y2="113.26" stroke="#e3342f" stroke-width="0.4" stroke-opacity="0.5"/>
<line x1="206.50" y1="115.63" x2="208.30" y2="115.63" stroke="#e3342f" stroke-width="0.4" stroke-opacity="0.5"/>
<line x1="221.60" y1="129.06" x2="221.60" y2="133.01" stroke="#e3342f" stroke-width="0.4" stroke-opacity="0.5"/>
<line x1="220.70" y1="129.06" x2="222.50" y2="129.06" stroke="#e3342f" stroke-width="0.4" stroke-opacity="0.5"/>
<line x1="220.70" y1="133.01" x2="222.50" y2="133.01" stroke="#e3342f" stroke-width="0.4" stroke-opacity="0.5"/>
<line x1="236.20" y1="149.21" x2="236.20" y2="150.79" stroke="#e3342f" stroke-width="0.4" stroke-opacity="0.5"/>
<line x1="235.30" y1="149.21" x2="237.10" y2="149.21" stroke="#e3342f" stroke-width="0.4" stroke-opacity="0.5"/>
<line x1="235.30" y1="150.79" x2="237.10" y2="150.79" stroke="#e3342f" stroke-width="0.4" stroke-opacity="0.5"/>
<path d="M178.80,110.50 L193.50,110.89 L207.40,114.45 L221.60,131.04 L236.20,150.00" fill="none" stroke="#e3342f" stroke-width="0.9" stroke-opacity="0.8"/>
<circle cx="178.80" cy="110.50" r="0.9" fill="#e3342f"/>
<circle cx="193.50" cy="110.89" r="0.9" fill="#e3342f"/>
<circle cx="207.40" cy="114.45" r="0.9" fill="#e3342f"/>
<circle cx="221.60" cy="131.04" r="0.9" fill="#e3342f"/>
<circle cx="236.20" cy="150.00" r="0.9" fill="#e3342f"/>
<line x1="193.50" y1="110.50" x2="193.50" y2="111.29" stroke="#3b5ba9" stroke-width="0.4" stroke-opacity="0.5"/>
<line x1="192.60" y1="110.50" x2="194.40" y2="110.50" stroke="#3b5ba9" stroke-width="0.4" stroke-opacity="0.5"/>
<line x1="192.60" y1="111.29" x2="194.40" y2="111.29" stroke="#3b5ba9" stroke-width="0.4" stroke-opacity="0.5"/>
<line x1="207.40" y1="112.47" x2="207.40" y2="114.06" stroke="#3b5ba9" stroke-width="0.4" stroke-opacity="0.5"/>
<line x1="206.50" y1="112.47" x2="208.30" y2="112.47" stroke="#3b5ba9" stroke-width="0.4" stroke-opacity="0.5"/>
<line x1="206.50" y1="114.06" x2="208.30" y2="114.06" stroke="#3b5ba9" stroke-width="0.4" stroke-opacity="0.5"/>
<line x1="221.60" y1="127.49" x2="221.60" y2="131.44" stroke="#3b5ba9" stroke-width="0.4" stroke-opacity="0.5"/>
<line x1="220.70" y1="127.49" x2="222.50" y2="127.49" stroke="#3b5ba9" stroke-width="0.4" stroke-opacity="0.5"/>
<line x1="220.70" y1="131.44" x2="222.50" y2="131.44" stroke="#3b5ba9" stroke-width="0.4" stroke-opacity="0.5"/>
<line x1="236.20" y1="149.21" x2="236.20" y2="150.79" stroke="#3b5ba9" stroke-width="0.4" stroke-opacity="0.5"/>
<line x1="235.30" y1="149.21" x2="237.10" y2="149.21" stroke="#3b5ba9" stroke-width="0.4" stroke-opacity="0.5"/>
<line x1="235.30" y1="150.79" x2="237.10" y2="150.79" stroke="#3b5ba9" stroke-width="0.4" stroke-opacity="0.5"/>
<path d="M178.80,110.50 L193.50,110.89 L207.40,113.27 L221.60,129.46 L236.20,150.00" fill="none" stroke="#3b5ba9" stroke-width="0.9" stroke-opacity="0.8"/>
<circle cx="178.80" cy="110.50" r="0.9" fill="#3b5ba9"/>
<circle cx="193.50" cy="110.89" r="0.9" fill="#3b5ba9"/>
<circle cx="207.40" cy="113.27" r="0.9" fill="#3b5ba9"/>
<circle cx="221.60" cy="129.46" r="0.9" fill="#3b5ba9"/>
<circle cx="236.20" cy="150.00" r="0.9" fill="#3b5ba9"/>
<line x1="178.80" y1="127.09" x2="178.80" y2="133.41" stroke="#5a5a5a" stroke-width="0.4" stroke-opacity="0.5"/>
<line x1="177.90" y1="127.09" x2="179.70" y2="127.09" stroke="#5a5a5a" stroke-width="0.4" stroke-opacity="0.5"/>
<line x1="177.90" y1="133.41" x2="179.70" y2="133.41" stroke="#5a5a5a" stroke-width="0.4" stroke-opacity="0.5"/>
<line x1="193.50" y1="143.28" x2="193.50" y2="147.23" stroke="#5a5a5a" stroke-width="0.4" stroke-opacity="0.5"/>
<line x1="192.60" y1="143.28" x2="194.40" y2="143.28" stroke="#5a5a5a" stroke-width="0.4" stroke-opacity="0.5"/>
<line x1="192.60" y1="147.23" x2="194.40" y2="147.23" stroke="#5a5a5a" stroke-width="0.4" stroke-opacity="0.5"/>
<line x1="207.40" y1="150.79" x2="207.40" y2="153.16" stroke="#5a5a5a" stroke-width="0.4" stroke-opacity="0.5"/>
<line x1="206.50" y1="150.79" x2="208.30" y2="150.79" stroke="#5a5a5a" stroke-width="0.4" stroke-opacity="0.5"/>
<line x1="206.50" y1="153.16" x2="208.30" y2="153.16" stroke="#5a5a5a" stroke-width="0.4" stroke-opacity="0.5"/>
<line x1="221.60" y1="146.44" x2="221.60" y2="149.61" stroke="#5a5a5a" stroke-width="0.4" stroke-opacity="0.5"/>
<line x1="220.70" y1="146.44" x2="222.50" y2="146.44" stroke="#5a5a5a" stroke-width="0.4" stroke-opacity="0.5"/>
<line x1="220.70" y1="149.61" x2="222.50" y2="149.61" stroke="#5a5a5a" stroke-width="0.4" stroke-opacity="0.5"/>
<line x1="236.20" y1="147.63" x2="236.20" y2="152.37" stroke="#5a5a5a" stroke-width="0.4" stroke-opacity="0.5"/>
<line x1="235.30" y1="147.63" x2="237.10" y2="147.63" stroke="#5a5a5a" stroke-width="0.4" stroke-opacity="0.5"/>
<line x1="235.30" y1="152.37" x2="237.10" y2="152.37" stroke="#5a5a5a" stroke-width="0.4" stroke-opacity="0.5"/>
<path d="M178.80,130.25 L193.50,145.26 L207.40,151.97 L221.60,148.03 L236.20,150.00" fill="none" stroke="#5a5a5a" stroke-width="0.8" stroke-opacity="0.8" stroke-dasharray="2,1.6"/>
<circle cx="178.80" cy="130.25" r="0.9" fill="#5a5a5a"/>
<circle cx="193.50" cy="145.26" r="0.9" fill="#5a5a5a"/>
<circle cx="207.40" cy="151.97" r="0.9" fill="#5a5a5a"/>
<circle cx="221.60" cy="148.03" r="0.9" fill="#5a5a5a"/>
<circle cx="236.20" cy="150.00" r="0.9" fill="#5a5a5a"/>
<line x1="168.90" y1="174.10" x2="168.90" y2="222.50" stroke="#7a7a7a" stroke-width="0.8" />
<line x1="168.90" y1="222.50" x2="247.00" y2="222.50" stroke="#7a7a7a" stroke-width="0.8" />
<line x1="167.60" y1="215.80" x2="168.90" y2="215.80" stroke="#666" stroke-width="0.4" />
<text x="166.90" y="215.80" font-size="5.4" text-anchor="end" fill="#333" dominant-baseline="central" >0</text>
<line x1="167.60" y1="207.96" x2="168.90" y2="207.96" stroke="#666" stroke-width="0.4" />
<text x="166.90" y="207.96" font-size="5.4" text-anchor="end" fill="#333" dominant-baseline="central" >20</text>
<line x1="167.60" y1="200.12" x2="168.90" y2="200.12" stroke="#666" stroke-width="0.4" />
<text x="166.90" y="200.12" font-size="5.4" text-anchor="end" fill="#333" dominant-baseline="central" >40</text>
<line x1="167.60" y1="192.28" x2="168.90" y2="192.28" stroke="#666" stroke-width="0.4" />
<text x="166.90" y="192.28" font-size="5.4" text-anchor="end" fill="#333" dominant-baseline="central" >60</text>
<line x1="167.60" y1="184.44" x2="168.90" y2="184.44" stroke="#666" stroke-width="0.4" />
<text x="166.90" y="184.44" font-size="5.4" text-anchor="end" fill="#333" dominant-baseline="central" >80</text>
<line x1="167.60" y1="176.60" x2="168.90" y2="176.60" stroke="#666" stroke-width="0.4" />
<text x="166.90" y="176.60" font-size="5.4" text-anchor="end" fill="#333" dominant-baseline="central" >100</text>
<text x="155.00" y="198.30" font-size="5.6" text-anchor="middle" fill="#333" transform="rotate(-90 155.00 198.30)" dominant-baseline="central" >% Lysis</text>
<line x1="178.80" y1="222.50" x2="178.80" y2="223.50" stroke="#666" stroke-width="0.4" />
<text x="178.80" y="227.80" font-size="4.3" text-anchor="middle" fill="#222" dominant-baseline="central" >1:1</text>
<line x1="193.50" y1="222.50" x2="193.50" y2="223.50" stroke="#666" stroke-width="0.4" />
<text x="193.50" y="227.80" font-size="4.3" text-anchor="middle" fill="#222" dominant-baseline="central" >0.3:1</text>
<line x1="207.40" y1="222.50" x2="207.40" y2="223.50" stroke="#666" stroke-width="0.4" />
<text x="207.40" y="227.80" font-size="4.3" text-anchor="middle" fill="#222" dominant-baseline="central" >0.1:1</text>
<line x1="221.60" y1="222.50" x2="221.60" y2="223.50" stroke="#666" stroke-width="0.4" />
<text x="221.60" y="227.80" font-size="4.3" text-anchor="middle" fill="#222" dominant-baseline="central" >0.03:1</text>
<line x1="236.20" y1="222.50" x2="236.20" y2="223.50" stroke="#666" stroke-width="0.4" />
<text x="236.20" y="227.80" font-size="4.3" text-anchor="middle" fill="#222" dominant-baseline="central" >Tumor</text>
<text x="236.20" y="233.00" font-size="4.3" text-anchor="middle" fill="#222" dominant-baseline="central" >alone</text>
<line x1="193.50" y1="177.38" x2="193.50" y2="178.17" stroke="#e3342f" stroke-width="0.4" stroke-opacity="0.5"/>
<line x1="192.60" y1="177.38" x2="194.40" y2="177.38" stroke="#e3342f" stroke-width="0.4" stroke-opacity="0.5"/>
<line x1="192.60" y1="178.17" x2="194.40" y2="178.17" stroke="#e3342f" stroke-width="0.4" stroke-opacity="0.5"/>
<line x1="207.40" y1="180.52" x2="207.40" y2="182.09" stroke="#e3342f" stroke-width="0.4" stroke-opacity="0.5"/>
<line x1="206.50" y1="180.52" x2="208.30" y2="180.52" stroke="#e3342f" stroke-width="0.4" stroke-opacity="0.5"/>
<line x1="206.50" y1="182.09" x2="208.30" y2="182.09" stroke="#e3342f" stroke-width="0.4" stroke-opacity="0.5"/>
<line x1="221.60" y1="199.34" x2="221.60" y2="202.47" stroke="#e3342f" stroke-width="0.4" stroke-opacity="0.5"/>
<line x1="220.70" y1="199.34" x2="222.50" y2="199.34" stroke="#e3342f" stroke-width="0.4" stroke-opacity="0.5"/>
<line x1="220.70" y1="202.47" x2="222.50" y2="202.47" stroke="#e3342f" stroke-width="0.4" stroke-opacity="0.5"/>
<line x1="236.20" y1="213.84" x2="236.20" y2="216.19" stroke="#e3342f" stroke-width="0.4" stroke-opacity="0.5"/>
<line x1="235.30" y1="213.84" x2="237.10" y2="213.84" stroke="#e3342f" stroke-width="0.4" stroke-opacity="0.5"/>
<line x1="235.30" y1="216.19" x2="237.10" y2="216.19" stroke="#e3342f" stroke-width="0.4" stroke-opacity="0.5"/>
<path d="M178.80,177.38 L193.50,177.78 L207.40,181.30 L221.60,200.90 L236.20,215.02" fill="none" stroke="#e3342f" stroke-width="0.9" stroke-opacity="0.8"/>
<circle cx="178.80" cy="177.38" r="0.9" fill="#e3342f"/>
<circle cx="193.50" cy="177.78" r="0.9" fill="#e3342f"/>
<circle cx="207.40" cy="181.30" r="0.9" fill="#e3342f"/>
<circle cx="221.60" cy="200.90" r="0.9" fill="#e3342f"/>
<circle cx="236.20" cy="215.02" r="0.9" fill="#e3342f"/>
<line x1="193.50" y1="177.38" x2="193.50" y2="178.17" stroke="#3b5ba9" stroke-width="0.4" stroke-opacity="0.5"/>
<line x1="192.60" y1="177.38" x2="194.40" y2="177.38" stroke="#3b5ba9" stroke-width="0.4" stroke-opacity="0.5"/>
<line x1="192.60" y1="178.17" x2="194.40" y2="178.17" stroke="#3b5ba9" stroke-width="0.4" stroke-opacity="0.5"/>
<line x1="207.40" y1="180.52" x2="207.40" y2="182.09" stroke="#3b5ba9" stroke-width="0.4" stroke-opacity="0.5"/>
<line x1="206.50" y1="180.52" x2="208.30" y2="180.52" stroke="#3b5ba9" stroke-width="0.4" stroke-opacity="0.5"/>
<line x1="206.50" y1="182.09" x2="208.30" y2="182.09" stroke="#3b5ba9" stroke-width="0.4" stroke-opacity="0.5"/>
<line x1="221.60" y1="195.81" x2="221.60" y2="200.51" stroke="#3b5ba9" stroke-width="0.4" stroke-opacity="0.5"/>
<line x1="220.70" y1="195.81" x2="222.50" y2="195.81" stroke="#3b5ba9" stroke-width="0.4" stroke-opacity="0.5"/>
<line x1="220.70" y1="200.51" x2="222.50" y2="200.51" stroke="#3b5ba9" stroke-width="0.4" stroke-opacity="0.5"/>
<line x1="236.20" y1="212.66" x2="236.20" y2="215.02" stroke="#3b5ba9" stroke-width="0.4" stroke-opacity="0.5"/>
<line x1="235.30" y1="212.66" x2="237.10" y2="212.66" stroke="#3b5ba9" stroke-width="0.4" stroke-opacity="0.5"/>
<line x1="235.30" y1="215.02" x2="237.10" y2="215.02" stroke="#3b5ba9" stroke-width="0.4" stroke-opacity="0.5"/>
<path d="M178.80,177.38 L193.50,177.78 L207.40,181.30 L221.60,198.16 L236.20,213.84" fill="none" stroke="#3b5ba9" stroke-width="0.9" stroke-opacity="0.8"/>
<circle cx="178.80" cy="177.38" r="0.9" fill="#3b5ba9"/>
<circle cx="193.50" cy="177.78" r="0.9" fill="#3b5ba9"/>
<circle cx="207.40" cy="181.30" r="0.9" fill="#3b5ba9"/>
<circle cx="221.60" cy="198.16" r="0.9" fill="#3b5ba9"/>
<circle cx="236.20" cy="213.84" r="0.9" fill="#3b5ba9"/>
<line x1="178.80" y1="194.63" x2="178.80" y2="205.61" stroke="#5a5a5a" stroke-width="0.4" stroke-opacity="0.5"/>
<line x1="177.90" y1="194.63" x2="179.70" y2="194.63" stroke="#5a5a5a" stroke-width="0.4" stroke-opacity="0.5"/>
<line x1="177.90" y1="205.61" x2="179.70" y2="205.61" stroke="#5a5a5a" stroke-width="0.4" stroke-opacity="0.5"/>
<line x1="193.50" y1="216.19" x2="193.50" y2="217.76" stroke="#5a5a5a" stroke-width="0.4" stroke-opacity="0.5"/>
<line x1="192.60" y1="216.19" x2="194.40" y2="216.19" stroke="#5a5a5a" stroke-width="0.4" stroke-opacity="0.5"/>
<line x1="192.60" y1="217.76" x2="194.40" y2="217.76" stroke="#5a5a5a" stroke-width="0.4" stroke-opacity="0.5"/>
<line x1="207.40" y1="216.19" x2="207.40" y2="217.76" stroke="#5a5a5a" stroke-width="0.4" stroke-opacity="0.5"/>
<line x1="206.50" y1="216.19" x2="208.30" y2="216.19" stroke="#5a5a5a" stroke-width="0.4" stroke-opacity="0.5"/>
<line x1="206.50" y1="217.76" x2="208.30" y2="217.76" stroke="#5a5a5a" stroke-width="0.4" stroke-opacity="0.5"/>
<line x1="221.60" y1="215.02" x2="221.60" y2="216.58" stroke="#5a5a5a" stroke-width="0.4" stroke-opacity="0.5"/>
<line x1="220.70" y1="215.02" x2="222.50" y2="215.02" stroke="#5a5a5a" stroke-width="0.4" stroke-opacity="0.5"/>
<line x1="220.70" y1="216.58" x2="222.50" y2="216.58" stroke="#5a5a5a" stroke-width="0.4" stroke-opacity="0.5"/>
<line x1="236.20" y1="215.80" x2="236.20" y2="217.37" stroke="#5a5a5a" stroke-width="0.4" stroke-opacity="0.5"/>
<line x1="235.30" y1="215.80" x2="237.10" y2="215.80" stroke="#5a5a5a" stroke-width="0.4" stroke-opacity="0.5"/>
<line x1="235.30" y1="217.37" x2="237.10" y2="217.37" stroke="#5a5a5a" stroke-width="0.4" stroke-opacity="0.5"/>
<path d="M178.80,200.12 L193.50,216.98 L207.40,216.98 L221.60,215.80 L236.20,216.58" fill="none" stroke="#5a5a5a" stroke-width="0.8" stroke-opacity="0.8" stroke-dasharray="2,1.6"/>
<circle cx="178.80" cy="200.12" r="0.9" fill="#5a5a5a"/>
<circle cx="193.50" cy="216.98" r="0.9" fill="#5a5a5a"/>
<circle cx="207.40" cy="216.98" r="0.9" fill="#5a5a5a"/>
<circle cx="221.60" cy="215.80" r="0.9" fill="#5a5a5a"/>
<circle cx="236.20" cy="216.58" r="0.9" fill="#5a5a5a"/>
<line x1="169.30" y1="240.20" x2="169.30" y2="287.60" stroke="#7a7a7a" stroke-width="0.8" />
<line x1="169.30" y1="287.60" x2="247.00" y2="287.60" stroke="#7a7a7a" stroke-width="0.8" />
<line x1="168.00" y1="278.70" x2="169.30" y2="278.70" stroke="#666" stroke-width="0.4" />
<text x="167.30" y="278.70" font-size="5.4" text-anchor="end" fill="#333" dominant-baseline="central" >0</text>
<line x1="168.00" y1="271.50" x2="169.30" y2="271.50" stroke="#666" stroke-width="0.4" />
<text x="167.30" y="271.50" font-size="5.4" text-anchor="end" fill="#333" dominant-baseline="central" >20</text>
<line x1="168.00" y1="264.30" x2="169.30" y2="264.30" stroke="#666" stroke-width="0.4" />
<text x="167.30" y="264.30" font-size="5.4" text-anchor="end" fill="#333" dominant-baseline="central" >40</text>
<line x1="168.00" y1="257.10" x2="169.30" y2="257.10" stroke="#666" stroke-width="0.4" />
<text x="167.30" y="257.10" font-size="5.4" text-anchor="end" fill="#333" dominant-baseline="central" >60</text>
<line x1="168.00" y1="249.90" x2="169.30" y2="249.90" stroke="#666" stroke-width="0.4" />
<text x="167.30" y="249.90" font-size="5.4" text-anchor="end" fill="#333" dominant-baseline="central" >80</text>
<line x1="168.00" y1="242.70" x2="169.30" y2="242.70" stroke="#666" stroke-width="0.4" />
<text x="167.30" y="242.70" font-size="5.4" text-anchor="end" fill="#333" dominant-baseline="central" >100</text>
<text x="155.00" y="263.90" font-size="5.6" text-anchor="middle" fill="#333" transform="rotate(-90 155.00 263.90)" dominant-baseline="central" >% Lysis</text>
<line x1="180.20" y1="287.60" x2="180.20" y2="288.60" stroke="#666" stroke-width="0.4" />
<text x="180.20" y="293.50" font-size="4.3" text-anchor="middle" fill="#222" dominant-baseline="central" >1:1</text>
<line x1="193.90" y1="287.60" x2="193.90" y2="288.60" stroke="#666" stroke-width="0.4" />
<text x="193.90" y="293.50" font-size="4.3" text-anchor="middle" fill="#222" dominant-baseline="central" >0.3:1</text>
<line x1="208.40" y1="287.60" x2="208.40" y2="288.60" stroke="#666" stroke-width="0.4" />
<text x="208.40" y="293.50" font-size="4.3" text-anchor="middle" fill="#222" dominant-baseline="central" >0.1:1</text>
<line x1="223.10" y1="287.60" x2="223.10" y2="288.60" stroke="#666" stroke-width="0.4" />
<text x="223.10" y="293.50" font-size="4.3" text-anchor="middle" fill="#222" dominant-baseline="central" >0.03:1</text>
<line x1="237.60" y1="287.60" x2="237.60" y2="288.60" stroke="#666" stroke-width="0.4" />
<text x="237.60" y="293.50" font-size="4.3" text-anchor="middle" fill="#222" dominant-baseline="central" >Tumor</text>
<text x="237.60" y="298.20" font-size="4.3" text-anchor="middle" fill="#222" dominant-baseline="central" >alone</text>
<line x1="193.90" y1="241.98" x2="193.90" y2="243.42" stroke="#e3342f" stroke-width="0.4" stroke-opacity="0.5"/>
<line x1="193.00" y1="241.98" x2="194.80" y2="241.98" stroke="#e3342f" stroke-width="0.4" stroke-opacity="0.5"/>
<line x1="193.00" y1="243.42" x2="194.80" y2="243.42" stroke="#e3342f" stroke-width="0.4" stroke-opacity="0.5"/>
<line x1="208.40" y1="254.94" x2="208.40" y2="257.82" stroke="#e3342f" stroke-width="0.4" stroke-opacity="0.5"/>
<line x1="207.50" y1="254.94" x2="209.30" y2="254.94" stroke="#e3342f" stroke-width="0.4" stroke-opacity="0.5"/>
<line x1="207.50" y1="257.82" x2="209.30" y2="257.82" stroke="#e3342f" stroke-width="0.4" stroke-opacity="0.5"/>
<line x1="223.10" y1="270.06" x2="223.10" y2="277.26" stroke="#e3342f" stroke-width="0.4" stroke-opacity="0.5"/>
<line x1="222.20" y1="270.06" x2="224.00" y2="270.06" stroke="#e3342f" stroke-width="0.4" stroke-opacity="0.5"/>
<line x1="222.20" y1="277.26" x2="224.00" y2="277.26" stroke="#e3342f" stroke-width="0.4" stroke-opacity="0.5"/>
<line x1="237.60" y1="270.06" x2="237.60" y2="278.70" stroke="#e3342f" stroke-width="0.4" stroke-opacity="0.5"/>
<line x1="236.70" y1="270.06" x2="238.50" y2="270.06" stroke="#e3342f" stroke-width="0.4" stroke-opacity="0.5"/>
<line x1="236.70" y1="278.70" x2="238.50" y2="278.70" stroke="#e3342f" stroke-width="0.4" stroke-opacity="0.5"/>
<path d="M180.20,242.70 L193.90,242.70 L208.40,256.38 L223.10,273.66 L237.60,274.38" fill="none" stroke="#e3342f" stroke-width="0.9" stroke-opacity="0.8"/>
<circle cx="180.20" cy="242.70" r="0.9" fill="#e3342f"/>
<circle cx="193.90" cy="242.70" r="0.9" fill="#e3342f"/>
<circle cx="208.40" cy="256.38" r="0.9" fill="#e3342f"/>
<circle cx="223.10" cy="273.66" r="0.9" fill="#e3342f"/>
<circle cx="237.60" cy="274.38" r="0.9" fill="#e3342f"/>
<line x1="193.90" y1="251.70" x2="193.90" y2="257.46" stroke="#3b5ba9" stroke-width="0.4" stroke-opacity="0.5"/>
<line x1="193.00" y1="251.70" x2="194.80" y2="251.70" stroke="#3b5ba9" stroke-width="0.4" stroke-opacity="0.5"/>
<line x1="193.00" y1="257.46" x2="194.80" y2="257.46" stroke="#3b5ba9" stroke-width="0.4" stroke-opacity="0.5"/>
<line x1="208.40" y1="264.30" x2="208.40" y2="278.70" stroke="#3b5ba9" stroke-width="0.4" stroke-opacity="0.5"/>
<line x1="207.50" y1="264.30" x2="209.30" y2="264.30" stroke="#3b5ba9" stroke-width="0.4" stroke-opacity="0.5"/>
<line x1="207.50" y1="278.70" x2="209.30" y2="278.70" stroke="#3b5ba9" stroke-width="0.4" stroke-opacity="0.5"/>
<line x1="223.10" y1="277.98" x2="223.10" y2="280.86" stroke="#3b5ba9" stroke-width="0.4" stroke-opacity="0.5"/>
<line x1="222.20" y1="277.98" x2="224.00" y2="277.98" stroke="#3b5ba9" stroke-width="0.4" stroke-opacity="0.5"/>
<line x1="222.20" y1="280.86" x2="224.00" y2="280.86" stroke="#3b5ba9" stroke-width="0.4" stroke-opacity="0.5"/>
<line x1="237.60" y1="277.98" x2="237.60" y2="280.86" stroke="#3b5ba9" stroke-width="0.4" stroke-opacity="0.5"/>
<line x1="236.70" y1="277.98" x2="238.50" y2="277.98" stroke="#3b5ba9" stroke-width="0.4" stroke-opacity="0.5"/>
<line x1="236.70" y1="280.86" x2="238.50" y2="280.86" stroke="#3b5ba9" stroke-width="0.4" stroke-opacity="0.5"/>
<path d="M180.20,243.42 L193.90,254.58 L208.40,271.50 L223.10,279.42 L237.60,279.42" fill="none" stroke="#3b5ba9" stroke-width="0.9" stroke-opacity="0.8"/>
<circle cx="180.20" cy="243.42" r="0.9" fill="#3b5ba9"/>
<circle cx="193.90" cy="254.58" r="0.9" fill="#3b5ba9"/>
<circle cx="208.40" cy="271.50" r="0.9" fill="#3b5ba9"/>
<circle cx="223.10" cy="279.42" r="0.9" fill="#3b5ba9"/>
<circle cx="237.60" cy="279.42" r="0.9" fill="#3b5ba9"/>
<line x1="180.20" y1="272.94" x2="180.20" y2="280.14" stroke="#5a5a5a" stroke-width="0.4" stroke-opacity="0.5"/>
<line x1="179.30" y1="272.94" x2="181.10" y2="272.94" stroke="#5a5a5a" stroke-width="0.4" stroke-opacity="0.5"/>
<line x1="179.30" y1="280.14" x2="181.10" y2="280.14" stroke="#5a5a5a" stroke-width="0.4" stroke-opacity="0.5"/>
<line x1="193.90" y1="277.26" x2="193.90" y2="280.14" stroke="#5a5a5a" stroke-width="0.4" stroke-opacity="0.5"/>
<line x1="193.00" y1="277.26" x2="194.80" y2="277.26" stroke="#5a5a5a" stroke-width="0.4" stroke-opacity="0.5"/>
<line x1="193.00" y1="280.14" x2="194.80" y2="280.14" stroke="#5a5a5a" stroke-width="0.4" stroke-opacity="0.5"/>
<line x1="208.40" y1="280.14" x2="208.40" y2="283.02" stroke="#5a5a5a" stroke-width="0.4" stroke-opacity="0.5"/>
<line x1="207.50" y1="280.14" x2="209.30" y2="280.14" stroke="#5a5a5a" stroke-width="0.4" stroke-opacity="0.5"/>
<line x1="207.50" y1="283.02" x2="209.30" y2="283.02" stroke="#5a5a5a" stroke-width="0.4" stroke-opacity="0.5"/>
<line x1="223.10" y1="281.22" x2="223.10" y2="283.38" stroke="#5a5a5a" stroke-width="0.4" stroke-opacity="0.5"/>
<line x1="222.20" y1="281.22" x2="224.00" y2="281.22" stroke="#5a5a5a" stroke-width="0.4" stroke-opacity="0.5"/>
<line x1="222.20" y1="283.38" x2="224.00" y2="283.38" stroke="#5a5a5a" stroke-width="0.4" stroke-opacity="0.5"/>
<line x1="237.60" y1="277.62" x2="237.60" y2="279.78" stroke="#5a5a5a" stroke-width="0.4" stroke-opacity="0.5"/>
<line x1="236.70" y1="277.62" x2="238.50" y2="277.62" stroke="#5a5a5a" stroke-width="0.4" stroke-opacity="0.5"/>
<line x1="236.70" y1="279.78" x2="238.50" y2="279.78" stroke="#5a5a5a" stroke-width="0.4" stroke-opacity="0.5"/>
<path d="M180.20,276.54 L193.90,278.70 L208.40,281.58 L223.10,282.30 L237.60,278.70" fill="none" stroke="#5a5a5a" stroke-width="0.8" stroke-opacity="0.8" stroke-dasharray="2,1.6"/>
<circle cx="180.20" cy="276.54" r="0.9" fill="#5a5a5a"/>
<circle cx="193.90" cy="278.70" r="0.9" fill="#5a5a5a"/>
<circle cx="208.40" cy="281.58" r="0.9" fill="#5a5a5a"/>
<circle cx="223.10" cy="282.30" r="0.9" fill="#5a5a5a"/>
<circle cx="237.60" cy="278.70" r="0.9" fill="#5a5a5a"/>
<text x="208.90" y="302.30" font-size="6.5" text-anchor="middle" fill="#333" dominant-baseline="central" >E:T ratio</text>
<line x1="220.20" y1="243.00" x2="225.80" y2="243.00" stroke="#e3342f" stroke-width="1.0" />
<path d="M221.60,243.00 L223.00,241.60 L224.40,243.00 L223.00,244.40 Z" fill="#e3342f"/>
<text x="227.40" y="243.00" font-size="4.6" text-anchor="start" fill="#333" dominant-baseline="central" >CD19 CAR</text>
<line x1="220.20" y1="250.50" x2="225.80" y2="250.50" stroke="#3b5ba9" stroke-width="1.0" />
<path d="M221.60,250.50 L223.00,249.10 L224.40,250.50 L223.00,251.90 Z" fill="#3b5ba9"/>
<text x="227.40" y="250.50" font-size="4.6" text-anchor="start" fill="#333" dominant-baseline="central" >CD72 CAR</text>
<line x1="220.20" y1="257.50" x2="225.80" y2="257.50" stroke="#5a5a5a" stroke-width="1.0" />
<path d="M221.60,257.50 L223.00,256.10 L224.40,257.50 L223.00,258.90 Z" fill="#5a5a5a"/>
<text x="227.40" y="257.50" font-size="4.6" text-anchor="start" fill="#333" dominant-baseline="central" >Empty CAR</text>
<line x1="424.40" y1="107.50" x2="424.40" y2="154.50" stroke="#7a7a7a" stroke-width="0.8" />
<line x1="424.40" y1="154.50" x2="501.00" y2="154.50" stroke="#7a7a7a" stroke-width="0.8" />
<line x1="423.10" y1="146.00" x2="424.40" y2="146.00" stroke="#666" stroke-width="0.4" />
<text x="422.40" y="146.00" font-size="5.4" text-anchor="end" fill="#333" dominant-baseline="central" >0</text>
<line x1="423.10" y1="138.80" x2="424.40" y2="138.80" stroke="#666" stroke-width="0.4" />
<text x="422.40" y="138.80" font-size="5.4" text-anchor="end" fill="#333" dominant-baseline="central" >20</text>
<line x1="423.10" y1="131.60" x2="424.40" y2="131.60" stroke="#666" stroke-width="0.4" />
<text x="422.40" y="131.60" font-size="5.4" text-anchor="end" fill="#333" dominant-baseline="central" >40</text>
<line x1="423.10" y1="124.40" x2="424.40" y2="124.40" stroke="#666" stroke-width="0.4" />
<text x="422.40" y="124.40" font-size="5.4" text-anchor="end" fill="#333" dominant-baseline="central" >60</text>
<line x1="423.10" y1="117.20" x2="424.40" y2="117.20" stroke="#666" stroke-width="0.4" />
<text x="422.40" y="117.20" font-size="5.4" text-anchor="end" fill="#333" dominant-baseline="central" >80</text>
<line x1="423.10" y1="110.00" x2="424.40" y2="110.00" stroke="#666" stroke-width="0.4" />
<text x="422.40" y="110.00" font-size="5.4" text-anchor="end" fill="#333" dominant-baseline="central" >100</text>
<line x1="434.30" y1="154.50" x2="434.30" y2="155.50" stroke="#666" stroke-width="0.4" />
<text x="434.30" y="159.80" font-size="4.3" text-anchor="middle" fill="#222" dominant-baseline="central" >1:1</text>
<line x1="448.70" y1="154.50" x2="448.70" y2="155.50" stroke="#666" stroke-width="0.4" />
<text x="448.70" y="159.80" font-size="4.3" text-anchor="middle" fill="#222" dominant-baseline="central" >0.3:1</text>
<line x1="462.90" y1="154.50" x2="462.90" y2="155.50" stroke="#666" stroke-width="0.4" />
<text x="462.90" y="159.80" font-size="4.3" text-anchor="middle" fill="#222" dominant-baseline="central" >0.1:1</text>
<line x1="477.30" y1="154.50" x2="477.30" y2="155.50" stroke="#666" stroke-width="0.4" />
<text x="477.30" y="159.80" font-size="4.3" text-anchor="middle" fill="#222" dominant-baseline="central" >0.03:1</text>
<line x1="490.80" y1="154.50" x2="490.80" y2="155.50" stroke="#666" stroke-width="0.4" />
<text x="490.80" y="159.80" font-size="4.3" text-anchor="middle" fill="#222" dominant-baseline="central" >Tumor</text>
<text x="490.80" y="165.00" font-size="4.3" text-anchor="middle" fill="#222" dominant-baseline="central" >alone</text>
<line x1="448.70" y1="111.80" x2="448.70" y2="112.52" stroke="#e3342f" stroke-width="0.4" stroke-opacity="0.5"/>
<line x1="447.80" y1="111.80" x2="449.60" y2="111.80" stroke="#e3342f" stroke-width="0.4" stroke-opacity="0.5"/>
<line x1="447.80" y1="112.52" x2="449.60" y2="112.52" stroke="#e3342f" stroke-width="0.4" stroke-opacity="0.5"/>
<line x1="462.90" y1="116.12" x2="462.90" y2="118.28" stroke="#e3342f" stroke-width="0.4" stroke-opacity="0.5"/>
<line x1="462.00" y1="116.12" x2="463.80" y2="116.12" stroke="#e3342f" stroke-width="0.4" stroke-opacity="0.5"/>
<line x1="462.00" y1="118.28" x2="463.80" y2="118.28" stroke="#e3342f" stroke-width="0.4" stroke-opacity="0.5"/>
<line x1="477.30" y1="123.32" x2="477.30" y2="129.08" stroke="#e3342f" stroke-width="0.4" stroke-opacity="0.5"/>
<line x1="476.40" y1="123.32" x2="478.20" y2="123.32" stroke="#e3342f" stroke-width="0.4" stroke-opacity="0.5"/>
<line x1="476.40" y1="129.08" x2="478.20" y2="129.08" stroke="#e3342f" stroke-width="0.4" stroke-opacity="0.5"/>
<line x1="490.80" y1="144.92" x2="490.80" y2="147.08" stroke="#e3342f" stroke-width="0.4" stroke-opacity="0.5"/>
<line x1="489.90" y1="144.92" x2="491.70" y2="144.92" stroke="#e3342f" stroke-width="0.4" stroke-opacity="0.5"/>
<line x1="489.90" y1="147.08" x2="491.70" y2="147.08" stroke="#e3342f" stroke-width="0.4" stroke-opacity="0.5"/>
<path d="M434.30,111.80 L448.70,112.16 L462.90,117.20 L477.30,126.20 L490.80,146.00" fill="none" stroke="#e3342f" stroke-width="0.9" stroke-opacity="0.8"/>
<circle cx="434.30" cy="111.80" r="0.9" fill="#e3342f"/>
<circle cx="448.70" cy="112.16" r="0.9" fill="#e3342f"/>
<circle cx="462.90" cy="117.20" r="0.9" fill="#e3342f"/>
<circle cx="477.30" cy="126.20" r="0.9" fill="#e3342f"/>
<circle cx="490.80" cy="146.00" r="0.9" fill="#e3342f"/>
<line x1="448.70" y1="111.80" x2="448.70" y2="112.52" stroke="#3b5ba9" stroke-width="0.4" stroke-opacity="0.5"/>
<line x1="447.80" y1="111.80" x2="449.60" y2="111.80" stroke="#3b5ba9" stroke-width="0.4" stroke-opacity="0.5"/>
<line x1="447.80" y1="112.52" x2="449.60" y2="112.52" stroke="#3b5ba9" stroke-width="0.4" stroke-opacity="0.5"/>
<line x1="462.90" y1="116.84" x2="462.90" y2="119.00" stroke="#3b5ba9" stroke-width="0.4" stroke-opacity="0.5"/>
<line x1="462.00" y1="116.84" x2="463.80" y2="116.84" stroke="#3b5ba9" stroke-width="0.4" stroke-opacity="0.5"/>
<line x1="462.00" y1="119.00" x2="463.80" y2="119.00" stroke="#3b5ba9" stroke-width="0.4" stroke-opacity="0.5"/>
<line x1="477.30" y1="131.60" x2="477.30" y2="138.80" stroke="#3b5ba9" stroke-width="0.4" stroke-opacity="0.5"/>
<line x1="476.40" y1="131.60" x2="478.20" y2="131.60" stroke="#3b5ba9" stroke-width="0.4" stroke-opacity="0.5"/>
<line x1="476.40" y1="138.80" x2="478.20" y2="138.80" stroke="#3b5ba9" stroke-width="0.4" stroke-opacity="0.5"/>
<line x1="490.80" y1="144.92" x2="490.80" y2="147.08" stroke="#3b5ba9" stroke-width="0.4" stroke-opacity="0.5"/>
<line x1="489.90" y1="144.92" x2="491.70" y2="144.92" stroke="#3b5ba9" stroke-width="0.4" stroke-opacity="0.5"/>
<line x1="489.90" y1="147.08" x2="491.70" y2="147.08" stroke="#3b5ba9" stroke-width="0.4" stroke-opacity="0.5"/>
<path d="M434.30,111.80 L448.70,112.16 L462.90,117.92 L477.30,135.20 L490.80,146.00" fill="none" stroke="#3b5ba9" stroke-width="0.9" stroke-opacity="0.8"/>
<circle cx="434.30" cy="111.80" r="0.9" fill="#3b5ba9"/>
<circle cx="448.70" cy="112.16" r="0.9" fill="#3b5ba9"/>
<circle cx="462.90" cy="117.92" r="0.9" fill="#3b5ba9"/>
<circle cx="477.30" cy="135.20" r="0.9" fill="#3b5ba9"/>
<circle cx="490.80" cy="146.00" r="0.9" fill="#3b5ba9"/>
<line x1="434.30" y1="135.20" x2="434.30" y2="142.40" stroke="#5a5a5a" stroke-width="0.4" stroke-opacity="0.5"/>
<line x1="433.40" y1="135.20" x2="435.20" y2="135.20" stroke="#5a5a5a" stroke-width="0.4" stroke-opacity="0.5"/>
<line x1="433.40" y1="142.40" x2="435.20" y2="142.40" stroke="#5a5a5a" stroke-width="0.4" stroke-opacity="0.5"/>
<line x1="448.70" y1="149.60" x2="448.70" y2="151.04" stroke="#5a5a5a" stroke-width="0.4" stroke-opacity="0.5"/>
<line x1="447.80" y1="149.60" x2="449.60" y2="149.60" stroke="#5a5a5a" stroke-width="0.4" stroke-opacity="0.5"/>
<line x1="447.80" y1="151.04" x2="449.60" y2="151.04" stroke="#5a5a5a" stroke-width="0.4" stroke-opacity="0.5"/>
<line x1="462.90" y1="149.24" x2="462.90" y2="151.40" stroke="#5a5a5a" stroke-width="0.4" stroke-opacity="0.5"/>
<line x1="462.00" y1="149.24" x2="463.80" y2="149.24" stroke="#5a5a5a" stroke-width="0.4" stroke-opacity="0.5"/>
<line x1="462.00" y1="151.40" x2="463.80" y2="151.40" stroke="#5a5a5a" stroke-width="0.4" stroke-opacity="0.5"/>
<line x1="477.30" y1="149.24" x2="477.30" y2="151.40" stroke="#5a5a5a" stroke-width="0.4" stroke-opacity="0.5"/>
<line x1="476.40" y1="149.24" x2="478.20" y2="149.24" stroke="#5a5a5a" stroke-width="0.4" stroke-opacity="0.5"/>
<line x1="476.40" y1="151.40" x2="478.20" y2="151.40" stroke="#5a5a5a" stroke-width="0.4" stroke-opacity="0.5"/>
<line x1="490.80" y1="145.28" x2="490.80" y2="146.72" stroke="#5a5a5a" stroke-width="0.4" stroke-opacity="0.5"/>
<line x1="489.90" y1="145.28" x2="491.70" y2="145.28" stroke="#5a5a5a" stroke-width="0.4" stroke-opacity="0.5"/>
<line x1="489.90" y1="146.72" x2="491.70" y2="146.72" stroke="#5a5a5a" stroke-width="0.4" stroke-opacity="0.5"/>
<path d="M434.30,138.80 L448.70,150.32 L462.90,150.32 L477.30,150.32 L490.80,146.00" fill="none" stroke="#5a5a5a" stroke-width="0.8" stroke-opacity="0.8" stroke-dasharray="2,1.6"/>
<circle cx="434.30" cy="138.80" r="0.9" fill="#5a5a5a"/>
<circle cx="448.70" cy="150.32" r="0.9" fill="#5a5a5a"/>
<circle cx="462.90" cy="150.32" r="0.9" fill="#5a5a5a"/>
<circle cx="477.30" cy="150.32" r="0.9" fill="#5a5a5a"/>
<circle cx="490.80" cy="146.00" r="0.9" fill="#5a5a5a"/>
<line x1="424.40" y1="172.90" x2="424.40" y2="221.30" stroke="#7a7a7a" stroke-width="0.8" />
<line x1="424.40" y1="221.30" x2="501.00" y2="221.30" stroke="#7a7a7a" stroke-width="0.8" />
<line x1="423.10" y1="211.80" x2="424.40" y2="211.80" stroke="#666" stroke-width="0.4" />
<text x="422.40" y="211.80" font-size="5.4" text-anchor="end" fill="#333" dominant-baseline="central" >0</text>
<line x1="423.10" y1="204.52" x2="424.40" y2="204.52" stroke="#666" stroke-width="0.4" />
<text x="422.40" y="204.52" font-size="5.4" text-anchor="end" fill="#333" dominant-baseline="central" >20</text>
<line x1="423.10" y1="197.24" x2="424.40" y2="197.24" stroke="#666" stroke-width="0.4" />
<text x="422.40" y="197.24" font-size="5.4" text-anchor="end" fill="#333" dominant-baseline="central" >40</text>
<line x1="423.10" y1="189.96" x2="424.40" y2="189.96" stroke="#666" stroke-width="0.4" />
<text x="422.40" y="189.96" font-size="5.4" text-anchor="end" fill="#333" dominant-baseline="central" >60</text>
<line x1="423.10" y1="182.68" x2="424.40" y2="182.68" stroke="#666" stroke-width="0.4" />
<text x="422.40" y="182.68" font-size="5.4" text-anchor="end" fill="#333" dominant-baseline="central" >80</text>
<line x1="423.10" y1="175.40" x2="424.40" y2="175.40" stroke="#666" stroke-width="0.4" />
<text x="422.40" y="175.40" font-size="5.4" text-anchor="end" fill="#333" dominant-baseline="central" >100</text>
<line x1="434.30" y1="221.30" x2="434.30" y2="222.30" stroke="#666" stroke-width="0.4" />
<text x="434.30" y="226.60" font-size="4.3" text-anchor="middle" fill="#222" dominant-baseline="central" >1:1</text>
<line x1="448.70" y1="221.30" x2="448.70" y2="222.30" stroke="#666" stroke-width="0.4" />
<text x="448.70" y="226.60" font-size="4.3" text-anchor="middle" fill="#222" dominant-baseline="central" >0.3:1</text>
<line x1="462.90" y1="221.30" x2="462.90" y2="222.30" stroke="#666" stroke-width="0.4" />
<text x="462.90" y="226.60" font-size="4.3" text-anchor="middle" fill="#222" dominant-baseline="central" >0.1:1</text>
<line x1="477.30" y1="221.30" x2="477.30" y2="222.30" stroke="#666" stroke-width="0.4" />
<text x="477.30" y="226.60" font-size="4.3" text-anchor="middle" fill="#222" dominant-baseline="central" >0.03:1</text>
<line x1="490.80" y1="221.30" x2="490.80" y2="222.30" stroke="#666" stroke-width="0.4" />
<text x="490.80" y="226.60" font-size="4.3" text-anchor="middle" fill="#222" dominant-baseline="central" >Tumor</text>
<text x="490.80" y="232.00" font-size="4.3" text-anchor="middle" fill="#222" dominant-baseline="central" >alone</text>
<line x1="448.70" y1="178.31" x2="448.70" y2="179.77" stroke="#e3342f" stroke-width="0.4" stroke-opacity="0.5"/>
<line x1="447.80" y1="178.31" x2="449.60" y2="178.31" stroke="#e3342f" stroke-width="0.4" stroke-opacity="0.5"/>
<line x1="447.80" y1="179.77" x2="449.60" y2="179.77" stroke="#e3342f" stroke-width="0.4" stroke-opacity="0.5"/>
<line x1="462.90" y1="184.50" x2="462.90" y2="195.42" stroke="#e3342f" stroke-width="0.4" stroke-opacity="0.5"/>
<line x1="462.00" y1="184.50" x2="463.80" y2="184.50" stroke="#e3342f" stroke-width="0.4" stroke-opacity="0.5"/>
<line x1="462.00" y1="195.42" x2="463.80" y2="195.42" stroke="#e3342f" stroke-width="0.4" stroke-opacity="0.5"/>
<line x1="477.30" y1="203.43" x2="477.30" y2="214.35" stroke="#e3342f" stroke-width="0.4" stroke-opacity="0.5"/>
<line x1="476.40" y1="203.43" x2="478.20" y2="203.43" stroke="#e3342f" stroke-width="0.4" stroke-opacity="0.5"/>
<line x1="476.40" y1="214.35" x2="478.20" y2="214.35" stroke="#e3342f" stroke-width="0.4" stroke-opacity="0.5"/>
<line x1="490.80" y1="209.98" x2="490.80" y2="213.62" stroke="#e3342f" stroke-width="0.4" stroke-opacity="0.5"/>
<line x1="489.90" y1="209.98" x2="491.70" y2="209.98" stroke="#e3342f" stroke-width="0.4" stroke-opacity="0.5"/>
<line x1="489.90" y1="213.62" x2="491.70" y2="213.62" stroke="#e3342f" stroke-width="0.4" stroke-opacity="0.5"/>
<path d="M434.30,175.40 L448.70,179.04 L462.90,189.96 L477.30,208.89 L490.80,211.80" fill="none" stroke="#e3342f" stroke-width="0.9" stroke-opacity="0.8"/>
<circle cx="434.30" cy="175.40" r="0.9" fill="#e3342f"/>
<circle cx="448.70" cy="179.04" r="0.9" fill="#e3342f"/>
<circle cx="462.90" cy="189.96" r="0.9" fill="#e3342f"/>
<circle cx="477.30" cy="208.89" r="0.9" fill="#e3342f"/>
<circle cx="490.80" cy="211.80" r="0.9" fill="#e3342f"/>
<line x1="434.30" y1="179.40" x2="434.30" y2="180.86" stroke="#3b5ba9" stroke-width="0.4" stroke-opacity="0.5"/>
<line x1="433.40" y1="179.40" x2="435.20" y2="179.40" stroke="#3b5ba9" stroke-width="0.4" stroke-opacity="0.5"/>
<line x1="433.40" y1="180.86" x2="435.20" y2="180.86" stroke="#3b5ba9" stroke-width="0.4" stroke-opacity="0.5"/>
<line x1="448.70" y1="187.05" x2="448.70" y2="189.23" stroke="#3b5ba9" stroke-width="0.4" stroke-opacity="0.5"/>
<line x1="447.80" y1="187.05" x2="449.60" y2="187.05" stroke="#3b5ba9" stroke-width="0.4" stroke-opacity="0.5"/>
<line x1="447.80" y1="189.23" x2="449.60" y2="189.23" stroke="#3b5ba9" stroke-width="0.4" stroke-opacity="0.5"/>
<line x1="462.90" y1="198.70" x2="462.90" y2="203.06" stroke="#3b5ba9" stroke-width="0.4" stroke-opacity="0.5"/>
<line x1="462.00" y1="198.70" x2="463.80" y2="198.70" stroke="#3b5ba9" stroke-width="0.4" stroke-opacity="0.5"/>
<line x1="462.00" y1="203.06" x2="463.80" y2="203.06" stroke="#3b5ba9" stroke-width="0.4" stroke-opacity="0.5"/>
<line x1="477.30" y1="201.61" x2="477.30" y2="216.17" stroke="#3b5ba9" stroke-width="0.4" stroke-opacity="0.5"/>
<line x1="476.40" y1="201.61" x2="478.20" y2="201.61" stroke="#3b5ba9" stroke-width="0.4" stroke-opacity="0.5"/>
<line x1="476.40" y1="216.17" x2="478.20" y2="216.17" stroke="#3b5ba9" stroke-width="0.4" stroke-opacity="0.5"/>
<line x1="490.80" y1="204.52" x2="490.80" y2="219.08" stroke="#3b5ba9" stroke-width="0.4" stroke-opacity="0.5"/>
<line x1="489.90" y1="204.52" x2="491.70" y2="204.52" stroke="#3b5ba9" stroke-width="0.4" stroke-opacity="0.5"/>
<line x1="489.90" y1="219.08" x2="491.70" y2="219.08" stroke="#3b5ba9" stroke-width="0.4" stroke-opacity="0.5"/>
<path d="M434.30,180.13 L448.70,188.14 L462.90,200.88 L477.30,208.89 L490.80,211.80" fill="none" stroke="#3b5ba9" stroke-width="0.9" stroke-opacity="0.8"/>
<circle cx="434.30" cy="180.13" r="0.9" fill="#3b5ba9"/>
<circle cx="448.70" cy="188.14" r="0.9" fill="#3b5ba9"/>
<circle cx="462.90" cy="200.88" r="0.9" fill="#3b5ba9"/>
<circle cx="477.30" cy="208.89" r="0.9" fill="#3b5ba9"/>
<circle cx="490.80" cy="211.80" r="0.9" fill="#3b5ba9"/>
<line x1="434.30" y1="189.60" x2="434.30" y2="192.51" stroke="#5a5a5a" stroke-width="0.4" stroke-opacity="0.5"/>
<line x1="433.40" y1="189.60" x2="435.20" y2="189.60" stroke="#5a5a5a" stroke-width="0.4" stroke-opacity="0.5"/>
<line x1="433.40" y1="192.51" x2="435.20" y2="192.51" stroke="#5a5a5a" stroke-width="0.4" stroke-opacity="0.5"/>
<line x1="448.70" y1="208.89" x2="448.70" y2="211.07" stroke="#5a5a5a" stroke-width="0.4" stroke-opacity="0.5"/>
<line x1="447.80" y1="208.89" x2="449.60" y2="208.89" stroke="#5a5a5a" stroke-width="0.4" stroke-opacity="0.5"/>
<line x1="447.80" y1="211.07" x2="449.60" y2="211.07" stroke="#5a5a5a" stroke-width="0.4" stroke-opacity="0.5"/>
<line x1="462.90" y1="215.08" x2="462.90" y2="217.26" stroke="#5a5a5a" stroke-width="0.4" stroke-opacity="0.5"/>
<line x1="462.00" y1="215.08" x2="463.80" y2="215.08" stroke="#5a5a5a" stroke-width="0.4" stroke-opacity="0.5"/>
<line x1="462.00" y1="217.26" x2="463.80" y2="217.26" stroke="#5a5a5a" stroke-width="0.4" stroke-opacity="0.5"/>
<line x1="477.30" y1="207.43" x2="477.30" y2="210.34" stroke="#5a5a5a" stroke-width="0.4" stroke-opacity="0.5"/>
<line x1="476.40" y1="207.43" x2="478.20" y2="207.43" stroke="#5a5a5a" stroke-width="0.4" stroke-opacity="0.5"/>
<line x1="476.40" y1="210.34" x2="478.20" y2="210.34" stroke="#5a5a5a" stroke-width="0.4" stroke-opacity="0.5"/>
<line x1="490.80" y1="210.34" x2="490.80" y2="213.26" stroke="#5a5a5a" stroke-width="0.4" stroke-opacity="0.5"/>
<line x1="489.90" y1="210.34" x2="491.70" y2="210.34" stroke="#5a5a5a" stroke-width="0.4" stroke-opacity="0.5"/>
<line x1="489.90" y1="213.26" x2="491.70" y2="213.26" stroke="#5a5a5a" stroke-width="0.4" stroke-opacity="0.5"/>
<path d="M434.30,191.05 L448.70,209.98 L462.90,216.17 L477.30,208.89 L490.80,211.80" fill="none" stroke="#5a5a5a" stroke-width="0.8" stroke-opacity="0.8" stroke-dasharray="2,1.6"/>
<circle cx="434.30" cy="191.05" r="0.9" fill="#5a5a5a"/>
<circle cx="448.70" cy="209.98" r="0.9" fill="#5a5a5a"/>
<circle cx="462.90" cy="216.17" r="0.9" fill="#5a5a5a"/>
<circle cx="477.30" cy="208.89" r="0.9" fill="#5a5a5a"/>
<circle cx="490.80" cy="211.80" r="0.9" fill="#5a5a5a"/>
<line x1="424.40" y1="240.50" x2="424.40" y2="287.10" stroke="#7a7a7a" stroke-width="0.8" />
<line x1="424.40" y1="287.10" x2="501.00" y2="287.10" stroke="#7a7a7a" stroke-width="0.8" />
<line x1="423.10" y1="278.20" x2="424.40" y2="278.20" stroke="#666" stroke-width="0.4" />
<text x="422.40" y="278.20" font-size="5.4" text-anchor="end" fill="#333" dominant-baseline="central" >0</text>
<line x1="423.10" y1="271.16" x2="424.40" y2="271.16" stroke="#666" stroke-width="0.4" />
<text x="422.40" y="271.16" font-size="5.4" text-anchor="end" fill="#333" dominant-baseline="central" >20</text>
<line x1="423.10" y1="264.12" x2="424.40" y2="264.12" stroke="#666" stroke-width="0.4" />
<text x="422.40" y="264.12" font-size="5.4" text-anchor="end" fill="#333" dominant-baseline="central" >40</text>
<line x1="423.10" y1="257.08" x2="424.40" y2="257.08" stroke="#666" stroke-width="0.4" />
<text x="422.40" y="257.08" font-size="5.4" text-anchor="end" fill="#333" dominant-baseline="central" >60</text>
<line x1="423.10" y1="250.04" x2="424.40" y2="250.04" stroke="#666" stroke-width="0.4" />
<text x="422.40" y="250.04" font-size="5.4" text-anchor="end" fill="#333" dominant-baseline="central" >80</text>
<line x1="423.10" y1="243.00" x2="424.40" y2="243.00" stroke="#666" stroke-width="0.4" />
<text x="422.40" y="243.00" font-size="5.4" text-anchor="end" fill="#333" dominant-baseline="central" >100</text>
<line x1="434.30" y1="287.10" x2="434.30" y2="288.10" stroke="#666" stroke-width="0.4" />
<text x="434.30" y="292.80" font-size="4.3" text-anchor="middle" fill="#222" dominant-baseline="central" >1:1</text>
<line x1="448.70" y1="287.10" x2="448.70" y2="288.10" stroke="#666" stroke-width="0.4" />
<text x="448.70" y="292.80" font-size="4.3" text-anchor="middle" fill="#222" dominant-baseline="central" >0.3:1</text>
<line x1="462.90" y1="287.10" x2="462.90" y2="288.10" stroke="#666" stroke-width="0.4" />
<text x="462.90" y="292.80" font-size="4.3" text-anchor="middle" fill="#222" dominant-baseline="central" >0.1:1</text>
<line x1="477.30" y1="287.10" x2="477.30" y2="288.10" stroke="#666" stroke-width="0.4" />
<text x="477.30" y="292.80" font-size="4.3" text-anchor="middle" fill="#222" dominant-baseline="central" >0.03:1</text>
<line x1="490.80" y1="287.10" x2="490.80" y2="288.10" stroke="#666" stroke-width="0.4" />
<text x="490.80" y="292.80" font-size="4.3" text-anchor="middle" fill="#222" dominant-baseline="central" >Tumor</text>
<text x="490.80" y="298.00" font-size="4.3" text-anchor="middle" fill="#222" dominant-baseline="central" >alone</text>
<line x1="448.70" y1="244.06" x2="448.70" y2="245.46" stroke="#e3342f" stroke-width="0.4" stroke-opacity="0.5"/>
<line x1="447.80" y1="244.06" x2="449.60" y2="244.06" stroke="#e3342f" stroke-width="0.4" stroke-opacity="0.5"/>
<line x1="447.80" y1="245.46" x2="449.60" y2="245.46" stroke="#e3342f" stroke-width="0.4" stroke-opacity="0.5"/>
<line x1="462.90" y1="251.80" x2="462.90" y2="253.91" stroke="#e3342f" stroke-width="0.4" stroke-opacity="0.5"/>
<line x1="462.00" y1="251.80" x2="463.80" y2="251.80" stroke="#e3342f" stroke-width="0.4" stroke-opacity="0.5"/>
<line x1="462.00" y1="253.91" x2="463.80" y2="253.91" stroke="#e3342f" stroke-width="0.4" stroke-opacity="0.5"/>
<line x1="477.30" y1="262.71" x2="477.30" y2="265.53" stroke="#e3342f" stroke-width="0.4" stroke-opacity="0.5"/>
<line x1="476.40" y1="262.71" x2="478.20" y2="262.71" stroke="#e3342f" stroke-width="0.4" stroke-opacity="0.5"/>
<line x1="476.40" y1="265.53" x2="478.20" y2="265.53" stroke="#e3342f" stroke-width="0.4" stroke-opacity="0.5"/>
<line x1="490.80" y1="277.14" x2="490.80" y2="279.26" stroke="#e3342f" stroke-width="0.4" stroke-opacity="0.5"/>
<line x1="489.90" y1="277.14" x2="491.70" y2="277.14" stroke="#e3342f" stroke-width="0.4" stroke-opacity="0.5"/>
<line x1="489.90" y1="279.26" x2="491.70" y2="279.26" stroke="#e3342f" stroke-width="0.4" stroke-opacity="0.5"/>
<path d="M434.30,244.76 L448.70,244.76 L462.90,252.86 L477.30,264.12 L490.80,278.20" fill="none" stroke="#e3342f" stroke-width="0.9" stroke-opacity="0.8"/>
<circle cx="434.30" cy="244.76" r="0.9" fill="#e3342f"/>
<circle cx="448.70" cy="244.76" r="0.9" fill="#e3342f"/>
<circle cx="462.90" cy="252.86" r="0.9" fill="#e3342f"/>
<circle cx="477.30" cy="264.12" r="0.9" fill="#e3342f"/>
<circle cx="490.80" cy="278.20" r="0.9" fill="#e3342f"/>
<line x1="448.70" y1="244.06" x2="448.70" y2="245.46" stroke="#3b5ba9" stroke-width="0.4" stroke-opacity="0.5"/>
<line x1="447.80" y1="244.06" x2="449.60" y2="244.06" stroke="#3b5ba9" stroke-width="0.4" stroke-opacity="0.5"/>
<line x1="447.80" y1="245.46" x2="449.60" y2="245.46" stroke="#3b5ba9" stroke-width="0.4" stroke-opacity="0.5"/>
<line x1="462.90" y1="246.87" x2="462.90" y2="248.28" stroke="#3b5ba9" stroke-width="0.4" stroke-opacity="0.5"/>
<line x1="462.00" y1="246.87" x2="463.80" y2="246.87" stroke="#3b5ba9" stroke-width="0.4" stroke-opacity="0.5"/>
<line x1="462.00" y1="248.28" x2="463.80" y2="248.28" stroke="#3b5ba9" stroke-width="0.4" stroke-opacity="0.5"/>
<line x1="477.30" y1="257.78" x2="477.30" y2="259.90" stroke="#3b5ba9" stroke-width="0.4" stroke-opacity="0.5"/>
<line x1="476.40" y1="257.78" x2="478.20" y2="257.78" stroke="#3b5ba9" stroke-width="0.4" stroke-opacity="0.5"/>
<line x1="476.40" y1="259.90" x2="478.20" y2="259.90" stroke="#3b5ba9" stroke-width="0.4" stroke-opacity="0.5"/>
<line x1="490.80" y1="277.14" x2="490.80" y2="279.26" stroke="#3b5ba9" stroke-width="0.4" stroke-opacity="0.5"/>
<line x1="489.90" y1="277.14" x2="491.70" y2="277.14" stroke="#3b5ba9" stroke-width="0.4" stroke-opacity="0.5"/>
<line x1="489.90" y1="279.26" x2="491.70" y2="279.26" stroke="#3b5ba9" stroke-width="0.4" stroke-opacity="0.5"/>
<path d="M434.30,244.76 L448.70,244.76 L462.90,247.58 L477.30,258.84 L490.80,278.20" fill="none" stroke="#3b5ba9" stroke-width="0.9" stroke-opacity="0.8"/>
<circle cx="434.30" cy="244.76" r="0.9" fill="#3b5ba9"/>
<circle cx="448.70" cy="244.76" r="0.9" fill="#3b5ba9"/>
<circle cx="462.90" cy="247.58" r="0.9" fill="#3b5ba9"/>
<circle cx="477.30" cy="258.84" r="0.9" fill="#3b5ba9"/>
<circle cx="490.80" cy="278.20" r="0.9" fill="#3b5ba9"/>
<line x1="434.30" y1="253.56" x2="434.30" y2="267.64" stroke="#5a5a5a" stroke-width="0.4" stroke-opacity="0.5"/>
<line x1="433.40" y1="253.56" x2="435.20" y2="253.56" stroke="#5a5a5a" stroke-width="0.4" stroke-opacity="0.5"/>
<line x1="433.40" y1="267.64" x2="435.20" y2="267.64" stroke="#5a5a5a" stroke-width="0.4" stroke-opacity="0.5"/>
<line x1="448.70" y1="273.27" x2="448.70" y2="276.09" stroke="#5a5a5a" stroke-width="0.4" stroke-opacity="0.5"/>
<line x1="447.80" y1="273.27" x2="449.60" y2="273.27" stroke="#5a5a5a" stroke-width="0.4" stroke-opacity="0.5"/>
<line x1="447.80" y1="276.09" x2="449.60" y2="276.09" stroke="#5a5a5a" stroke-width="0.4" stroke-opacity="0.5"/>
<line x1="462.90" y1="270.46" x2="462.90" y2="284.54" stroke="#5a5a5a" stroke-width="0.4" stroke-opacity="0.5"/>
<line x1="462.00" y1="270.46" x2="463.80" y2="270.46" stroke="#5a5a5a" stroke-width="0.4" stroke-opacity="0.5"/>
<line x1="462.00" y1="284.54" x2="463.80" y2="284.54" stroke="#5a5a5a" stroke-width="0.4" stroke-opacity="0.5"/>
<line x1="477.30" y1="268.34" x2="477.30" y2="282.42" stroke="#5a5a5a" stroke-width="0.4" stroke-opacity="0.5"/>
<line x1="476.40" y1="268.34" x2="478.20" y2="268.34" stroke="#5a5a5a" stroke-width="0.4" stroke-opacity="0.5"/>
<line x1="476.40" y1="282.42" x2="478.20" y2="282.42" stroke="#5a5a5a" stroke-width="0.4" stroke-opacity="0.5"/>
<line x1="490.80" y1="276.79" x2="490.80" y2="279.61" stroke="#5a5a5a" stroke-width="0.4" stroke-opacity="0.5"/>
<line x1="489.90" y1="276.79" x2="491.70" y2="276.79" stroke="#5a5a5a" stroke-width="0.4" stroke-opacity="0.5"/>
<line x1="489.90" y1="279.61" x2="491.70" y2="279.61" stroke="#5a5a5a" stroke-width="0.4" stroke-opacity="0.5"/>
<path d="M434.30,260.60 L448.70,274.68 L462.90,277.50 L477.30,275.38 L490.80,278.20" fill="none" stroke="#5a5a5a" stroke-width="0.8" stroke-opacity="0.8" stroke-dasharray="2,1.6"/>
<circle cx="434.30" cy="260.60" r="0.9" fill="#5a5a5a"/>
<circle cx="448.70" cy="274.68" r="0.9" fill="#5a5a5a"/>
<circle cx="462.90" cy="277.50" r="0.9" fill="#5a5a5a"/>
<circle cx="477.30" cy="275.38" r="0.9" fill="#5a5a5a"/>
<circle cx="490.80" cy="278.20" r="0.9" fill="#5a5a5a"/>
<text x="463.00" y="302.30" font-size="6.5" text-anchor="middle" fill="#333" dominant-baseline="central" >E:T ratio</text>
<line x1="483.60" y1="241.80" x2="488.80" y2="241.80" stroke="#e3342f" stroke-width="1.0" />
<path d="M484.90,241.80 L486.20,240.50 L487.50,241.80 L486.20,243.10 Z" fill="#e3342f"/>
<text x="490.50" y="241.80" font-size="4.5" text-anchor="start" fill="#333" dominant-baseline="central" >CD19 CAR</text>
<line x1="483.60" y1="249.50" x2="488.80" y2="249.50" stroke="#3b5ba9" stroke-width="1.0" />
<path d="M484.90,249.50 L486.20,248.20 L487.50,249.50 L486.20,250.80 Z" fill="#3b5ba9"/>
<text x="490.50" y="249.50" font-size="4.5" text-anchor="start" fill="#333" dominant-baseline="central" >CD72 CAR</text>
<line x1="483.60" y1="257.20" x2="488.80" y2="257.20" stroke="#5a5a5a" stroke-width="1.0" />
<path d="M484.90,257.20 L486.20,255.90 L487.50,257.20 L486.20,258.50 Z" fill="#5a5a5a"/>
<text x="490.50" y="257.20" font-size="4.5" text-anchor="start" fill="#333" dominant-baseline="central" >Empty CAR</text>
<text x="7.70" y="334.80" font-size="10.5" text-anchor="start" fill="#000" font-weight="bold" dominant-baseline="central" >D</text>
<line x1="49.60" y1="336.50" x2="49.60" y2="437.20" stroke="#333" stroke-width="0.7" />
<line x1="47.80" y1="424.20" x2="49.60" y2="424.20" stroke="#333" stroke-width="0.6" />
<text x="45.00" y="424.20" font-size="6.9" text-anchor="end" fill="#333" dominant-baseline="central" >0</text>
<line x1="47.80" y1="407.60" x2="49.60" y2="407.60" stroke="#333" stroke-width="0.6" />
<text x="45.00" y="407.60" font-size="6.9" text-anchor="end" fill="#333" dominant-baseline="central" >20</text>
<line x1="47.80" y1="391.00" x2="49.60" y2="391.00" stroke="#333" stroke-width="0.6" />
<text x="45.00" y="391.00" font-size="6.9" text-anchor="end" fill="#333" dominant-baseline="central" >40</text>
<line x1="47.80" y1="374.40" x2="49.60" y2="374.40" stroke="#333" stroke-width="0.6" />
<text x="45.00" y="374.40" font-size="6.9" text-anchor="end" fill="#333" dominant-baseline="central" >60</text>
<line x1="47.80" y1="357.80" x2="49.60" y2="357.80" stroke="#333" stroke-width="0.6" />
<text x="45.00" y="357.80" font-size="6.9" text-anchor="end" fill="#333" dominant-baseline="central" >80</text>
<line x1="47.80" y1="341.20" x2="49.60" y2="341.20" stroke="#333" stroke-width="0.6" />
<text x="45.00" y="341.20" font-size="6.9" text-anchor="end" fill="#333" dominant-baseline="central" >100</text>
<text x="28.20" y="380.00" font-size="7.2" text-anchor="middle" fill="#333" transform="rotate(-90 28.20 380.00)" dominant-baseline="central" >% Lysis</text>
<line x1="49.60" y1="424.20" x2="183.50" y2="424.20" stroke="#333" stroke-width="0.7" />
<line x1="49.60" y1="437.20" x2="183.50" y2="437.20" stroke="#555" stroke-width="0.5" />
<text x="109.60" y="342.20" font-size="7.4" text-anchor="middle" fill="#333" dominant-baseline="central" >E:T ratio = 10:1</text>
<defs>
<pattern id="hr" patternUnits="userSpaceOnUse" width="4.3" height="4.3" patternTransform="rotate(45)"><rect width="4.3" height="4.3" fill="#e63c2f"/><rect width="1.4" height="4.3" fill="#4a1512"/></pattern>
<pattern id="hb" patternUnits="userSpaceOnUse" width="4.3" height="4.3" patternTransform="rotate(45)"><rect width="4.3" height="4.3" fill="#4a6fc0"/><rect width="1.4" height="4.3" fill="#1b2850"/></pattern>
<pattern id="hg" patternUnits="userSpaceOnUse" width="4.3" height="4.3" patternTransform="rotate(45)"><rect width="4.3" height="4.3" fill="#c8c8c8"/><rect width="1.4" height="4.3" fill="#333"/></pattern>
</defs>
<rect x="64.80" y="392.66" width="6.95" height="31.54" fill="url(#hr)" stroke="none" stroke-width="0.5" />
<line x1="68.27" y1="388.51" x2="68.27" y2="392.66" stroke="#555" stroke-width="0.5" />
<line x1="67.27" y1="388.51" x2="69.27" y2="388.51" stroke="#555" stroke-width="0.5" />
<rect x="71.75" y="387.68" width="6.95" height="36.52" fill="url(#hb)" stroke="none" stroke-width="0.5" />
<line x1="75.22" y1="385.19" x2="75.22" y2="387.68" stroke="#555" stroke-width="0.5" />
<line x1="74.22" y1="385.19" x2="76.22" y2="385.19" stroke="#555" stroke-width="0.5" />
<rect x="78.70" y="415.90" width="6.95" height="8.30" fill="url(#hg)" stroke="none" stroke-width="0.5" />
<line x1="82.17" y1="413.41" x2="82.17" y2="415.90" stroke="#555" stroke-width="0.5" />
<line x1="81.17" y1="413.41" x2="83.17" y2="413.41" stroke="#555" stroke-width="0.5" />
<rect x="85.65" y="358.63" width="6.95" height="65.57" fill="#e8352c" stroke="none" stroke-width="0.5" />
<line x1="89.12" y1="355.31" x2="89.12" y2="358.63" stroke="#555" stroke-width="0.5" />
<line x1="88.12" y1="355.31" x2="90.12" y2="355.31" stroke="#555" stroke-width="0.5" />
<rect x="92.60" y="366.10" width="6.95" height="58.10" fill="#4b6fbf" stroke="none" stroke-width="0.5" />
<line x1="96.07" y1="362.78" x2="96.07" y2="366.10" stroke="#555" stroke-width="0.5" />
<line x1="95.07" y1="362.78" x2="97.07" y2="362.78" stroke="#555" stroke-width="0.5" />
<rect x="99.55" y="404.28" width="6.95" height="19.92" fill="#c4c4c4" stroke="none" stroke-width="0.5" />
<line x1="103.02" y1="401.79" x2="103.02" y2="404.28" stroke="#555" stroke-width="0.5" />
<line x1="102.02" y1="401.79" x2="104.02" y2="401.79" stroke="#555" stroke-width="0.5" />
<rect x="125.30" y="366.93" width="6.95" height="57.27" fill="url(#hr)" stroke="none" stroke-width="0.5" />
<line x1="128.78" y1="366.10" x2="128.78" y2="366.93" stroke="#555" stroke-width="0.5" />
<line x1="127.78" y1="366.10" x2="129.78" y2="366.10" stroke="#555" stroke-width="0.5" />
<rect x="132.25" y="380.21" width="6.95" height="43.99" fill="url(#hb)" stroke="none" stroke-width="0.5" />
<line x1="135.72" y1="377.72" x2="135.72" y2="380.21" stroke="#555" stroke-width="0.5" />
<line x1="134.72" y1="377.72" x2="136.72" y2="377.72" stroke="#555" stroke-width="0.5" />
<rect x="139.20" y="424.20" width="6.95" height="4.15" fill="url(#hg)" stroke="none" stroke-width="0.5" />
<line x1="142.67" y1="426.69" x2="142.67" y2="428.35" stroke="#555" stroke-width="0.5" />
<line x1="141.67" y1="426.69" x2="143.67" y2="426.69" stroke="#555" stroke-width="0.5" />
<rect x="146.15" y="359.46" width="6.95" height="64.74" fill="#e8352c" stroke="none" stroke-width="0.5" />
<line x1="149.62" y1="352.82" x2="149.62" y2="359.46" stroke="#555" stroke-width="0.5" />
<line x1="148.62" y1="352.82" x2="150.62" y2="352.82" stroke="#555" stroke-width="0.5" />
<rect x="153.10" y="362.78" width="6.95" height="61.42" fill="#4b6fbf" stroke="none" stroke-width="0.5" />
<line x1="156.57" y1="360.29" x2="156.57" y2="362.78" stroke="#555" stroke-width="0.5" />
<line x1="155.57" y1="360.29" x2="157.57" y2="360.29" stroke="#555" stroke-width="0.5" />
<rect x="160.05" y="402.62" width="6.95" height="21.58" fill="#c4c4c4" stroke="none" stroke-width="0.5" />
<line x1="163.53" y1="398.47" x2="163.53" y2="402.62" stroke="#555" stroke-width="0.5" />
<line x1="162.53" y1="398.47" x2="164.53" y2="398.47" stroke="#555" stroke-width="0.5" />
<text x="86.20" y="445.70" font-size="7.7" text-anchor="middle" fill="#333" dominant-baseline="central" >RS411</text>
<text x="86.20" y="454.40" font-size="7.7" text-anchor="middle" fill="#333" dominant-baseline="central" >(MLLr B-ALL)</text>
<text x="146.70" y="445.70" font-size="7.7" text-anchor="middle" fill="#333" dominant-baseline="central" >SEM</text>
<text x="146.70" y="454.40" font-size="7.7" text-anchor="middle" fill="#333" dominant-baseline="central" >(MLLr B-ALL)</text>
<rect x="195.40" y="343.20" width="9.80" height="9.00" fill="url(#hr)" stroke="none" stroke-width="0.5" />
<text x="208.80" y="347.80" font-size="6.6" text-anchor="start" fill="#333" dominant-baseline="central" >CD4 CD19-CAR</text>
<rect x="195.40" y="354.50" width="9.80" height="9.00" fill="#e8352c" stroke="none" stroke-width="0.5" />
<text x="208.80" y="359.10" font-size="6.6" text-anchor="start" fill="#333" dominant-baseline="central" >CD8 CD19-CAR</text>
<rect x="195.40" y="376.10" width="9.80" height="9.00" fill="url(#hb)" stroke="none" stroke-width="0.5" />
<text x="208.80" y="380.70" font-size="6.6" text-anchor="start" fill="#333" dominant-baseline="central" >CD4 CD72-CAR</text>
<rect x="195.40" y="387.30" width="9.80" height="9.00" fill="#4b6fbf" stroke="none" stroke-width="0.5" />
<text x="208.80" y="391.90" font-size="6.6" text-anchor="start" fill="#333" dominant-baseline="central" >CD8 CD72-CAR</text>
<rect x="195.40" y="409.20" width="9.80" height="9.00" fill="url(#hg)" stroke="none" stroke-width="0.5" />
<text x="208.80" y="413.80" font-size="6.6" text-anchor="start" fill="#333" dominant-baseline="central" >CD4 empty-CAR</text>
<rect x="195.40" y="420.80" width="9.80" height="9.00" fill="#c4c4c4" stroke="none" stroke-width="0.5" />
<text x="208.80" y="425.40" font-size="6.6" text-anchor="start" fill="#333" dominant-baseline="central" >CD8 empty-CAR</text>
<text x="288.80" y="344.50" font-size="10.5" text-anchor="start" fill="#000" font-weight="bold" dominant-baseline="central" >E</text>
<text x="347.00" y="349.00" font-size="7.5" text-anchor="middle" fill="#231f20" dominant-baseline="central" >CD19 CAR</text>
<text x="416.80" y="349.20" font-size="7.5" text-anchor="middle" fill="#231f20" dominant-baseline="central" >CD72 (NbD4) CAR</text>
<text x="485.40" y="349.20" font-size="7.5" text-anchor="middle" fill="#231f20" dominant-baseline="central" >Empty CAR</text>
<line x1="314.20" y1="388.87" x2="379.50" y2="388.87" stroke="#f3c8ca" stroke-width="0.7" />
<line x1="314.20" y1="404.85" x2="379.50" y2="404.85" stroke="#cfe8f1" stroke-width="0.6" />
<path d="M314.50,421.70 L314.50,421.70 L315.09,421.70 L315.68,421.70 L316.26,421.70 L316.85,421.70 L317.44,421.70 L318.03,421.70 L318.62,421.70 L319.21,421.70 L319.79,421.70 L320.38,421.70 L320.97,421.70 L321.56,421.70 L322.15,421.70 L322.73,421.70 L323.32,421.70 L323.91,421.70 L324.50,421.70 L325.09,421.70 L325.68,421.70 L326.26,421.70 L326.85,421.70 L327.44,421.70 L328.03,421.69 L328.62,421.69 L329.20,421.69 L329.79,421.69 L330.38,421.69 L330.97,421.68 L331.56,421.68 L332.15,421.67 L332.73,421.67 L333.32,421.66 L333.91,421.65 L334.50,421.64 L335.09,421.62 L335.67,421.60 L336.26,421.58 L336.85,421.56 L337.44,421.52 L338.03,421.48 L338.62,421.44 L339.20,421.38 L339.79,421.31 L340.38,421.23 L340.97,421.13 L341.56,421.02 L342.14,420.88 L342.73,420.71 L343.32,420.52 L343.91,420.29 L344.50,420.02 L345.09,419.70 L345.67,419.33 L346.26,418.90 L346.85,418.41 L347.44,417.84 L348.03,417.18 L348.61,416.43 L349.20,415.58 L349.79,414.61 L350.38,413.52 L350.97,412.31 L351.56,410.95 L352.14,409.46 L352.73,407.83 L353.32,406.07 L353.91,404.17 L354.50,402.17 L355.08,400.10 L355.67,397.99 L356.26,395.92 L356.85,394.02 L357.44,392.52 L358.03,393.55 L358.61,396.15 L359.20,399.03 L359.79,401.93 L360.38,404.68 L360.97,407.23 L361.55,409.51 L362.14,411.53 L362.73,413.29 L363.32,414.80 L363.91,416.08 L364.50,417.15 L365.08,418.04 L365.67,418.77 L366.26,419.38 L366.85,419.86 L367.44,420.26 L368.02,420.57 L368.61,420.82 L369.20,421.02 L369.79,421.18 L370.38,421.30 L370.97,421.39 L371.55,421.47 L372.14,421.52 L372.73,421.57 L373.32,421.60 L373.91,421.62 L374.49,421.64 L375.08,421.66 L375.67,421.67 L376.26,421.68 L376.85,421.68 L377.44,421.69 L378.02,421.69 L378.61,421.69 L379.20,421.70 L379.20,421.70 Z" fill="#f9c590" fill-opacity="0.5" stroke="none"/>
<path d="M339.20,421.38 L339.79,421.31 L340.38,421.23 L340.97,421.13 L341.56,421.02 L342.14,420.88 L342.73,420.71 L343.32,420.52 L343.91,420.29 L344.50,420.02 L345.09,419.70 L345.67,419.33 L346.26,418.90 L346.85,418.41 L347.44,417.84 L348.03,417.18 L348.61,416.43 L349.20,415.58 L349.79,414.61 L350.38,413.52 L350.97,412.31 L351.56,410.95 L352.14,409.46 L352.73,407.83 L353.32,406.07 L353.91,404.17 L354.50,402.17 L355.08,400.10 L355.67,397.99 L356.26,395.92 L356.85,394.02 L357.44,392.52 L358.03,393.55 L358.61,396.15 L359.20,399.03 L359.79,401.93 L360.38,404.68 L360.97,407.23 L361.55,409.51 L362.14,411.53 L362.73,413.29 L363.32,414.80 L363.91,416.08 L364.50,417.15 L365.08,418.04 L365.67,418.77 L366.26,419.38 L366.85,419.86 L367.44,420.26 L368.02,420.57 L368.61,420.82 L369.20,421.02 L369.79,421.18 L370.38,421.30 L370.97,421.39" fill="none" stroke="#f0b57c" stroke-width="0.6"/>
<path d="M314.50,404.85 L314.50,404.85 L315.09,404.85 L315.68,404.85 L316.26,404.85 L316.85,404.85 L317.44,404.85 L318.03,404.85 L318.62,404.85 L319.21,404.85 L319.79,404.85 L320.38,404.85 L320.97,404.85 L321.56,404.85 L322.15,404.85 L322.73,404.85 L323.32,404.85 L323.91,404.85 L324.50,404.85 L325.09,404.85 L325.68,404.85 L326.26,404.85 L326.85,404.85 L327.44,404.85 L328.03,404.85 L328.62,404.85 L329.20,404.85 L329.79,404.85 L330.38,404.85 L330.97,404.85 L331.56,404.85 L332.15,404.85 L332.73,404.85 L333.32,404.85 L333.91,404.85 L334.50,404.85 L335.09,404.85 L335.67,404.85 L336.26,404.85 L336.85,404.85 L337.44,404.85 L338.03,404.85 L338.62,404.85 L339.20,404.85 L339.79,404.85 L340.38,404.85 L340.97,404.85 L341.56,404.85 L342.14,404.85 L342.73,404.85 L343.32,404.85 L343.91,404.85 L344.50,404.85 L345.09,404.84 L345.67,404.84 L346.26,404.83 L346.85,404.82 L347.44,404.81 L348.03,404.79 L348.61,404.77 L349.20,404.73 L349.79,404.69 L350.38,404.63 L350.97,404.55 L351.56,404.44 L352.14,404.29 L352.73,404.10 L353.32,403.86 L353.91,403.54 L354.50,403.12 L355.08,402.60 L355.67,401.93 L356.26,401.09 L356.85,400.05 L357.44,398.78 L358.03,397.24 L358.61,395.41 L359.20,393.25 L359.79,390.77 L360.38,387.98 L360.97,384.95 L361.55,381.82 L362.14,378.85 L362.73,376.94 L363.32,381.55 L363.91,387.04 L364.50,391.93 L365.08,395.84 L365.67,398.77 L366.26,400.86 L366.85,402.30 L367.44,403.26 L368.02,403.88 L368.61,404.27 L369.20,404.51 L369.79,404.65 L370.38,404.74 L370.97,404.79 L371.55,404.82 L372.14,404.83 L372.73,404.84 L373.32,404.85 L373.91,404.85 L374.49,404.85 L375.08,404.85 L375.67,404.85 L376.26,404.85 L376.85,404.85 L377.44,404.85 L378.02,404.85 L378.61,404.85 L379.20,404.85 L379.20,404.85 Z" fill="#8ad2ef" fill-opacity="0.5" stroke="none"/>
<path d="M350.97,404.55 L351.56,404.44 L352.14,404.29 L352.73,404.10 L353.32,403.86 L353.91,403.54 L354.50,403.12 L355.08,402.60 L355.67,401.93 L356.26,401.09 L356.85,400.05 L357.44,398.78 L358.03,397.24 L358.61,395.41 L359.20,393.25 L359.79,390.77 L360.38,387.98 L360.97,384.95 L361.55,381.82 L362.14,378.85 L362.73,376.94 L363.32,381.55 L363.91,387.04 L364.50,391.93 L365.08,395.84 L365.67,398.77 L366.26,400.86 L366.85,402.30 L367.44,403.26 L368.02,403.88 L368.61,404.27 L369.20,404.51" fill="none" stroke="#80c9e6" stroke-width="0.6"/>
<path d="M314.50,388.87 L314.50,388.87 L315.09,388.87 L315.68,388.87 L316.26,388.87 L316.85,388.87 L317.44,388.87 L318.03,388.87 L318.62,388.87 L319.21,388.87 L319.79,388.87 L320.38,388.87 L320.97,388.87 L321.56,388.87 L322.15,388.87 L322.73,388.87 L323.32,388.87 L323.91,388.87 L324.50,388.87 L325.09,388.87 L325.68,388.87 L326.26,388.87 L326.85,388.87 L327.44,388.87 L328.03,388.87 L328.62,388.87 L329.20,388.87 L329.79,388.87 L330.38,388.87 L330.97,388.87 L331.56,388.86 L332.15,388.86 L332.73,388.86 L333.32,388.86 L333.91,388.86 L334.50,388.86 L335.09,388.86 L335.67,388.86 L336.26,388.86 L336.85,388.86 L337.44,388.86 L338.03,388.86 L338.62,388.86 L339.20,388.86 L339.79,388.85 L340.38,388.85 L340.97,388.84 L341.56,388.84 L342.14,388.83 L342.73,388.82 L343.32,388.80 L343.91,388.78 L344.50,388.76 L345.09,388.73 L345.67,388.69 L346.26,388.65 L346.85,388.59 L347.44,388.52 L348.03,388.43 L348.61,388.31 L349.20,388.17 L349.79,388.00 L350.38,387.79 L350.97,387.54 L351.56,387.23 L352.14,386.85 L352.73,386.40 L353.32,385.86 L353.91,385.22 L354.50,384.46 L355.08,383.57 L355.67,382.53 L356.26,381.33 L356.85,379.94 L357.44,378.37 L358.03,376.61 L358.61,374.64 L359.20,372.49 L359.79,370.18 L360.38,367.74 L360.97,365.25 L361.55,362.85 L362.14,360.77 L362.73,361.21 L363.32,366.19 L363.91,371.40 L364.50,375.97 L365.08,379.65 L365.67,382.47 L366.26,384.53 L366.85,385.99 L367.44,387.00 L368.02,387.68 L368.61,388.12 L369.20,388.40 L369.79,388.59 L370.38,388.70 L370.97,388.77 L371.55,388.81 L372.14,388.83 L372.73,388.85 L373.32,388.85 L373.91,388.86 L374.49,388.86 L375.08,388.86 L375.67,388.86 L376.26,388.86 L376.85,388.86 L377.44,388.87 L378.02,388.87 L378.61,388.87 L379.20,388.87 L379.20,388.87 Z" fill="#f6aeb2" fill-opacity="0.5" stroke="none"/>
<path d="M347.44,388.52 L348.03,388.43 L348.61,388.31 L349.20,388.17 L349.79,388.00 L350.38,387.79 L350.97,387.54 L351.56,387.23 L352.14,386.85 L352.73,386.40 L353.32,385.86 L353.91,385.22 L354.50,384.46 L355.08,383.57 L355.67,382.53 L356.26,381.33 L356.85,379.94 L357.44,378.37 L358.03,376.61 L358.61,374.64 L359.20,372.49 L359.79,370.18 L360.38,367.74 L360.97,365.25 L361.55,362.85 L362.14,360.77 L362.73,361.21 L363.32,366.19 L363.91,371.40 L364.50,375.97 L365.08,379.65 L365.67,382.47 L366.26,384.53 L366.85,385.99 L367.44,387.00 L368.02,387.68 L368.61,388.12 L369.20,388.40" fill="none" stroke="#e8858a" stroke-width="0.6"/>
<rect x="314.20" y="355.30" width="65.30" height="66.40" fill="none" stroke="#8a8a8a" stroke-width="0.6"/>
<line x1="327.70" y1="421.70" x2="331.20" y2="421.70" stroke="#000" stroke-width="1.0" />
<text x="329.70" y="427.50" font-size="5.3" text-anchor="middle" fill="#333" dominant-baseline="central" >0</text>
<text x="345.00" y="427.50" font-size="5.3" text-anchor="middle" fill="#333" dominant-baseline="central">10<tspan dy="-1.9" font-size="3.6">5</tspan></text>
<text x="362.80" y="427.50" font-size="5.3" text-anchor="middle" fill="#333" dominant-baseline="central">10<tspan dy="-1.9" font-size="3.6">6</tspan></text>
<text x="376.40" y="427.50" font-size="5.3" text-anchor="middle" fill="#333" dominant-baseline="central">10<tspan dy="-1.9" font-size="3.6">7</tspan></text>
<line x1="329.70" y1="421.70" x2="329.70" y2="422.70" stroke="#666" stroke-width="0.4" />
<line x1="345.00" y1="421.70" x2="345.00" y2="422.70" stroke="#666" stroke-width="0.4" />
<line x1="362.80" y1="421.70" x2="362.80" y2="422.70" stroke="#666" stroke-width="0.4" />
<line x1="376.40" y1="421.70" x2="376.40" y2="422.70" stroke="#666" stroke-width="0.4" />
<line x1="383.70" y1="388.87" x2="449.90" y2="388.87" stroke="#f3c8ca" stroke-width="0.7" />
<line x1="383.70" y1="404.85" x2="449.90" y2="404.85" stroke="#cfe8f1" stroke-width="0.6" />
<path d="M384.00,421.70 L384.00,421.70 L384.60,421.70 L385.19,421.70 L385.79,421.70 L386.39,421.70 L386.98,421.70 L387.58,421.70 L388.17,421.70 L388.77,421.70 L389.37,421.70 L389.96,421.70 L390.56,421.70 L391.16,421.70 L391.75,421.70 L392.35,421.70 L392.95,421.70 L393.54,421.70 L394.14,421.70 L394.73,421.70 L395.33,421.70 L395.93,421.70 L396.52,421.70 L397.12,421.70 L397.72,421.70 L398.31,421.70 L398.91,421.70 L399.51,421.70 L400.10,421.70 L400.70,421.70 L401.29,421.70 L401.89,421.69 L402.49,421.69 L403.08,421.69 L403.68,421.69 L404.28,421.68 L404.87,421.68 L405.47,421.67 L406.07,421.66 L406.66,421.64 L407.26,421.62 L407.85,421.60 L408.45,421.57 L409.05,421.53 L409.64,421.48 L410.24,421.42 L410.84,421.34 L411.43,421.24 L412.03,421.11 L412.63,420.95 L413.22,420.75 L413.82,420.50 L414.41,420.19 L415.01,419.81 L415.61,419.34 L416.20,418.78 L416.80,418.09 L417.40,417.27 L417.99,416.28 L418.59,415.11 L419.19,413.74 L419.78,412.13 L420.38,410.28 L420.97,408.15 L421.57,405.76 L422.17,403.10 L422.76,400.21 L423.36,397.17 L423.96,394.19 L424.55,392.93 L425.15,392.98 L425.75,392.90 L426.34,392.44 L426.94,391.48 L427.53,390.05 L428.13,388.30 L428.73,386.93 L429.32,388.65 L429.92,390.56 L430.52,392.15 L431.11,393.31 L431.71,394.18 L432.31,395.64 L432.90,399.40 L433.50,403.19 L434.09,406.65 L434.69,409.66 L435.29,412.22 L435.88,414.33 L436.48,416.03 L437.08,417.39 L437.67,418.46 L438.27,419.29 L438.87,419.92 L439.46,420.40 L440.06,420.75 L440.65,421.02 L441.25,421.21 L441.85,421.35 L442.44,421.46 L443.04,421.53 L443.64,421.58 L444.23,421.62 L444.83,421.64 L445.43,421.66 L446.02,421.67 L446.62,421.68 L447.21,421.69 L447.81,421.69 L448.41,421.69 L449.00,421.70 L449.60,421.70 L449.60,421.70 Z" fill="#f9c590" fill-opacity="0.5" stroke="none"/>
<path d="M410.84,421.34 L411.43,421.24 L412.03,421.11 L412.63,420.95 L413.22,420.75 L413.82,420.50 L414.41,420.19 L415.01,419.81 L415.61,419.34 L416.20,418.78 L416.80,418.09 L417.40,417.27 L417.99,416.28 L418.59,415.11 L419.19,413.74 L419.78,412.13 L420.38,410.28 L420.97,408.15 L421.57,405.76 L422.17,403.10 L422.76,400.21 L423.36,397.17 L423.96,394.19 L424.55,392.93 L425.15,392.98 L425.75,392.90 L426.34,392.44 L426.94,391.48 L427.53,390.05 L428.13,388.30 L428.73,386.93 L429.32,388.65 L429.92,390.56 L430.52,392.15 L431.11,393.31 L431.71,394.18 L432.31,395.64 L432.90,399.40 L433.50,403.19 L434.09,406.65 L434.69,409.66 L435.29,412.22 L435.88,414.33 L436.48,416.03 L437.08,417.39 L437.67,418.46 L438.27,419.29 L438.87,419.92 L439.46,420.40 L440.06,420.75 L440.65,421.02 L441.25,421.21 L441.85,421.35" fill="none" stroke="#f0b57c" stroke-width="0.6"/>
<path d="M384.00,404.85 L384.00,404.85 L384.60,404.85 L385.19,404.85 L385.79,404.85 L386.39,404.85 L386.98,404.85 L387.58,404.85 L388.17,404.85 L388.77,404.85 L389.37,404.85 L389.96,404.85 L390.56,404.85 L391.16,404.85 L391.75,404.85 L392.35,404.85 L392.95,404.85 L393.54,404.85 L394.14,404.85 L394.73,404.85 L395.33,404.85 L395.93,404.85 L396.52,404.85 L397.12,404.85 L397.72,404.85 L398.31,404.85 L398.91,404.85 L399.51,404.85 L400.10,404.85 L400.70,404.85 L401.29,404.85 L401.89,404.85 L402.49,404.85 L403.08,404.85 L403.68,404.85 L404.28,404.85 L404.87,404.85 L405.47,404.85 L406.07,404.85 L406.66,404.85 L407.26,404.85 L407.85,404.85 L408.45,404.85 L409.05,404.85 L409.64,404.85 L410.24,404.85 L410.84,404.85 L411.43,404.85 L412.03,404.85 L412.63,404.85 L413.22,404.85 L413.82,404.85 L414.41,404.85 L415.01,404.85 L415.61,404.85 L416.20,404.85 L416.80,404.85 L417.40,404.84 L417.99,404.84 L418.59,404.83 L419.19,404.82 L419.78,404.81 L420.38,404.79 L420.97,404.76 L421.57,404.73 L422.17,404.67 L422.76,404.60 L423.36,404.51 L423.96,404.38 L424.55,404.20 L425.15,403.97 L425.75,403.66 L426.34,403.25 L426.94,402.72 L427.53,402.04 L428.13,401.18 L428.73,400.09 L429.32,398.74 L429.92,397.08 L430.52,395.08 L431.11,392.71 L431.71,389.96 L432.31,386.88 L432.90,383.54 L433.50,380.15 L434.09,377.14 L434.69,377.99 L435.29,383.56 L435.88,389.07 L436.48,393.68 L437.08,397.23 L437.67,399.81 L438.27,401.61 L438.87,402.82 L439.46,403.60 L440.06,404.10 L440.65,404.41 L441.25,404.60 L441.85,404.71 L442.44,404.77 L443.04,404.81 L443.64,404.83 L444.23,404.84 L444.83,404.85 L445.43,404.85 L446.02,404.85 L446.62,404.85 L447.21,404.85 L447.81,404.85 L448.41,404.85 L449.00,404.85 L449.60,404.85 L449.60,404.85 Z" fill="#8ad2ef" fill-opacity="0.5" stroke="none"/>
<path d="M423.36,404.51 L423.96,404.38 L424.55,404.20 L425.15,403.97 L425.75,403.66 L426.34,403.25 L426.94,402.72 L427.53,402.04 L428.13,401.18 L428.73,400.09 L429.32,398.74 L429.92,397.08 L430.52,395.08 L431.11,392.71 L431.71,389.96 L432.31,386.88 L432.90,383.54 L433.50,380.15 L434.09,377.14 L434.69,377.99 L435.29,383.56 L435.88,389.07 L436.48,393.68 L437.08,397.23 L437.67,399.81 L438.27,401.61 L438.87,402.82 L439.46,403.60 L440.06,404.10 L440.65,404.41" fill="none" stroke="#80c9e6" stroke-width="0.6"/>
<path d="M384.00,388.87 L384.00,388.87 L384.60,388.87 L385.19,388.87 L385.79,388.87 L386.39,388.87 L386.98,388.87 L387.58,388.87 L388.17,388.87 L388.77,388.87 L389.37,388.87 L389.96,388.87 L390.56,388.87 L391.16,388.87 L391.75,388.87 L392.35,388.87 L392.95,388.87 L393.54,388.87 L394.14,388.87 L394.73,388.87 L395.33,388.87 L395.93,388.87 L396.52,388.87 L397.12,388.87 L397.72,388.87 L398.31,388.87 L398.91,388.87 L399.51,388.87 L400.10,388.87 L400.70,388.87 L401.29,388.87 L401.89,388.87 L402.49,388.86 L403.08,388.86 L403.68,388.86 L404.28,388.86 L404.87,388.86 L405.47,388.86 L406.07,388.86 L406.66,388.86 L407.26,388.86 L407.85,388.86 L408.45,388.86 L409.05,388.86 L409.64,388.86 L410.24,388.85 L410.84,388.85 L411.43,388.85 L412.03,388.84 L412.63,388.83 L413.22,388.82 L413.82,388.81 L414.41,388.79 L415.01,388.77 L415.61,388.75 L416.20,388.71 L416.80,388.67 L417.40,388.62 L417.99,388.55 L418.59,388.46 L419.19,388.36 L419.78,388.23 L420.38,388.07 L420.97,387.87 L421.57,387.63 L422.17,387.33 L422.76,386.97 L423.36,386.53 L423.96,386.01 L424.55,385.38 L425.15,384.64 L425.75,383.76 L426.34,382.73 L426.94,381.53 L427.53,380.15 L428.13,378.57 L428.73,376.78 L429.32,374.78 L429.92,372.58 L430.52,370.19 L431.11,367.65 L431.71,365.04 L432.31,362.47 L432.90,360.16 L433.50,359.28 L434.09,364.16 L434.69,369.70 L435.29,374.67 L435.88,378.72 L436.48,381.83 L437.08,384.10 L437.67,385.72 L438.27,386.83 L438.87,387.57 L439.46,388.06 L440.06,388.37 L440.65,388.57 L441.25,388.69 L441.85,388.76 L442.44,388.80 L443.04,388.83 L443.64,388.85 L444.23,388.85 L444.83,388.86 L445.43,388.86 L446.02,388.86 L446.62,388.86 L447.21,388.86 L447.81,388.86 L448.41,388.87 L449.00,388.87 L449.60,388.87 L449.60,388.87 Z" fill="#f6aeb2" fill-opacity="0.5" stroke="none"/>
<path d="M417.99,388.55 L418.59,388.46 L419.19,388.36 L419.78,388.23 L420.38,388.07 L420.97,387.87 L421.57,387.63 L422.17,387.33 L422.76,386.97 L423.36,386.53 L423.96,386.01 L424.55,385.38 L425.15,384.64 L425.75,383.76 L426.34,382.73 L426.94,381.53 L427.53,380.15 L428.13,378.57 L428.73,376.78 L429.32,374.78 L429.92,372.58 L430.52,370.19 L431.11,367.65 L431.71,365.04 L432.31,362.47 L432.90,360.16 L433.50,359.28 L434.09,364.16 L434.69,369.70 L435.29,374.67 L435.88,378.72 L436.48,381.83 L437.08,384.10 L437.67,385.72 L438.27,386.83 L438.87,387.57 L439.46,388.06 L440.06,388.37" fill="none" stroke="#e8858a" stroke-width="0.6"/>
<rect x="383.70" y="355.30" width="66.20" height="66.40" fill="none" stroke="#8a8a8a" stroke-width="0.6"/>
<line x1="397.20" y1="421.70" x2="400.70" y2="421.70" stroke="#000" stroke-width="1.0" />
<text x="399.20" y="427.50" font-size="5.3" text-anchor="middle" fill="#333" dominant-baseline="central" >0</text>
<text x="414.50" y="427.50" font-size="5.3" text-anchor="middle" fill="#333" dominant-baseline="central">10<tspan dy="-1.9" font-size="3.6">5</tspan></text>
<text x="432.30" y="427.50" font-size="5.3" text-anchor="middle" fill="#333" dominant-baseline="central">10<tspan dy="-1.9" font-size="3.6">6</tspan></text>
<text x="445.90" y="427.50" font-size="5.3" text-anchor="middle" fill="#333" dominant-baseline="central">10<tspan dy="-1.9" font-size="3.6">7</tspan></text>
<line x1="399.20" y1="421.70" x2="399.20" y2="422.70" stroke="#666" stroke-width="0.4" />
<line x1="414.50" y1="421.70" x2="414.50" y2="422.70" stroke="#666" stroke-width="0.4" />
<line x1="432.30" y1="421.70" x2="432.30" y2="422.70" stroke="#666" stroke-width="0.4" />
<line x1="445.90" y1="421.70" x2="445.90" y2="422.70" stroke="#666" stroke-width="0.4" />
<line x1="452.30" y1="388.87" x2="518.50" y2="388.87" stroke="#f3c8ca" stroke-width="0.7" />
<line x1="452.30" y1="404.85" x2="518.50" y2="404.85" stroke="#cfe8f1" stroke-width="0.6" />
<path d="M452.60,421.70 L452.60,421.70 L453.20,421.70 L453.79,421.70 L454.39,421.70 L454.99,421.70 L455.58,421.70 L456.18,421.70 L456.77,421.70 L457.37,421.70 L457.97,421.70 L458.56,421.70 L459.16,421.70 L459.76,421.70 L460.35,421.70 L460.95,421.70 L461.55,421.70 L462.14,421.70 L462.74,421.70 L463.33,421.70 L463.93,421.70 L464.53,421.70 L465.12,421.70 L465.72,421.70 L466.32,421.70 L466.91,421.70 L467.51,421.70 L468.11,421.70 L468.70,421.70 L469.30,421.70 L469.89,421.70 L470.49,421.70 L471.09,421.70 L471.68,421.70 L472.28,421.70 L472.88,421.70 L473.47,421.70 L474.07,421.70 L474.67,421.70 L475.26,421.70 L475.86,421.70 L476.45,421.70 L477.05,421.70 L477.65,421.70 L478.24,421.70 L478.84,421.70 L479.44,421.70 L480.03,421.70 L480.63,421.70 L481.23,421.70 L481.82,421.70 L482.42,421.70 L483.01,421.70 L483.61,421.70 L484.21,421.70 L484.80,421.70 L485.40,421.70 L486.00,421.70 L486.59,421.70 L487.19,421.70 L487.79,421.70 L488.38,421.70 L488.98,421.70 L489.57,421.70 L490.17,421.69 L490.77,421.69 L491.36,421.68 L491.96,421.67 L492.56,421.64 L493.15,421.61 L493.75,421.54 L494.35,421.45 L494.94,421.30 L495.54,421.06 L496.13,420.70 L496.73,420.16 L497.33,419.38 L497.92,418.25 L498.52,416.66 L499.12,414.51 L499.71,411.66 L500.31,408.07 L500.91,403.78 L501.50,399.10 L502.10,395.06 L502.69,398.49 L503.29,404.30 L503.89,409.47 L504.48,413.50 L505.08,416.41 L505.68,418.40 L506.27,419.70 L506.87,420.52 L507.47,421.02 L508.06,421.32 L508.66,421.49 L509.25,421.59 L509.85,421.64 L510.45,421.67 L511.04,421.68 L511.64,421.69 L512.24,421.70 L512.83,421.70 L513.43,421.70 L514.03,421.70 L514.62,421.70 L515.22,421.70 L515.81,421.70 L516.41,421.70 L517.01,421.70 L517.60,421.70 L518.20,421.70 L518.20,421.70 Z" fill="#f9c590" fill-opacity="0.5" stroke="none"/>
<path d="M494.94,421.30 L495.54,421.06 L496.13,420.70 L496.73,420.16 L497.33,419.38 L497.92,418.25 L498.52,416.66 L499.12,414.51 L499.71,411.66 L500.31,408.07 L500.91,403.78 L501.50,399.10 L502.10,395.06 L502.69,398.49 L503.29,404.30 L503.89,409.47 L504.48,413.50 L505.08,416.41 L505.68,418.40 L506.27,419.70 L506.87,420.52 L507.47,421.02 L508.06,421.32" fill="none" stroke="#f0b57c" stroke-width="0.6"/>
<path d="M452.60,404.85 L452.60,404.85 L453.20,404.85 L453.79,404.85 L454.39,404.85 L454.99,404.85 L455.58,404.85 L456.18,404.85 L456.77,404.85 L457.37,404.85 L457.97,404.85 L458.56,404.85 L459.16,404.85 L459.76,404.85 L460.35,404.85 L460.95,404.85 L461.55,404.85 L462.14,404.85 L462.74,404.85 L463.33,404.85 L463.93,404.85 L464.53,404.85 L465.12,404.85 L465.72,404.85 L466.32,404.85 L466.91,404.85 L467.51,404.85 L468.11,404.85 L468.70,404.85 L469.30,404.85 L469.89,404.85 L470.49,404.85 L471.09,404.85 L471.68,404.85 L472.28,404.85 L472.88,404.85 L473.47,404.85 L474.07,404.85 L474.67,404.85 L475.26,404.85 L475.86,404.85 L476.45,404.85 L477.05,404.85 L477.65,404.85 L478.24,404.85 L478.84,404.85 L479.44,404.85 L480.03,404.85 L480.63,404.85 L481.23,404.85 L481.82,404.85 L482.42,404.85 L483.01,404.85 L483.61,404.85 L484.21,404.85 L484.80,404.85 L485.40,404.85 L486.00,404.85 L486.59,404.85 L487.19,404.84 L487.79,404.84 L488.38,404.83 L488.98,404.82 L489.57,404.80 L490.17,404.77 L490.77,404.73 L491.36,404.68 L491.96,404.60 L492.56,404.49 L493.15,404.34 L493.75,404.13 L494.35,403.84 L494.94,403.45 L495.54,402.93 L496.13,402.23 L496.73,401.32 L497.33,400.14 L497.92,398.64 L498.52,396.75 L499.12,394.44 L499.71,391.65 L500.31,388.40 L500.91,384.74 L501.50,380.84 L502.10,377.09 L502.69,375.34 L503.29,381.19 L503.89,387.54 L504.48,392.89 L505.08,396.94 L505.68,399.81 L506.27,401.74 L506.87,402.98 L507.47,403.76 L508.06,404.23 L508.66,404.50 L509.25,404.66 L509.85,404.75 L510.45,404.80 L511.04,404.83 L511.64,404.84 L512.24,404.85 L512.83,404.85 L513.43,404.85 L514.03,404.85 L514.62,404.85 L515.22,404.85 L515.81,404.85 L516.41,404.85 L517.01,404.85 L517.60,404.85 L518.20,404.85 L518.20,404.85 Z" fill="#8ad2ef" fill-opacity="0.5" stroke="none"/>
<path d="M492.56,404.49 L493.15,404.34 L493.75,404.13 L494.35,403.84 L494.94,403.45 L495.54,402.93 L496.13,402.23 L496.73,401.32 L497.33,400.14 L497.92,398.64 L498.52,396.75 L499.12,394.44 L499.71,391.65 L500.31,388.40 L500.91,384.74 L501.50,380.84 L502.10,377.09 L502.69,375.34 L503.29,381.19 L503.89,387.54 L504.48,392.89 L505.08,396.94 L505.68,399.81 L506.27,401.74 L506.87,402.98 L507.47,403.76 L508.06,404.23 L508.66,404.50" fill="none" stroke="#80c9e6" stroke-width="0.6"/>
<path d="M452.60,388.87 L452.60,388.87 L453.20,388.87 L453.79,388.87 L454.39,388.87 L454.99,388.87 L455.58,388.87 L456.18,388.87 L456.77,388.87 L457.37,388.87 L457.97,388.87 L458.56,388.87 L459.16,388.87 L459.76,388.87 L460.35,388.87 L460.95,388.87 L461.55,388.87 L462.14,388.87 L462.74,388.87 L463.33,388.87 L463.93,388.87 L464.53,388.87 L465.12,388.87 L465.72,388.87 L466.32,388.87 L466.91,388.87 L467.51,388.87 L468.11,388.87 L468.70,388.87 L469.30,388.87 L469.89,388.87 L470.49,388.87 L471.09,388.86 L471.68,388.86 L472.28,388.86 L472.88,388.86 L473.47,388.86 L474.07,388.86 L474.67,388.86 L475.26,388.86 L475.86,388.86 L476.45,388.86 L477.05,388.86 L477.65,388.86 L478.24,388.86 L478.84,388.85 L479.44,388.85 L480.03,388.85 L480.63,388.84 L481.23,388.83 L481.82,388.82 L482.42,388.81 L483.01,388.79 L483.61,388.77 L484.21,388.74 L484.80,388.71 L485.40,388.67 L486.00,388.61 L486.59,388.54 L487.19,388.46 L487.79,388.35 L488.38,388.22 L488.98,388.05 L489.57,387.85 L490.17,387.60 L490.77,387.30 L491.36,386.93 L491.96,386.49 L492.56,385.95 L493.15,385.31 L493.75,384.55 L494.35,383.66 L494.94,382.61 L495.54,381.39 L496.13,379.98 L496.73,378.36 L497.33,376.54 L497.92,374.50 L498.52,372.25 L499.12,369.82 L499.71,367.23 L500.31,364.57 L500.91,361.95 L501.50,359.59 L502.10,358.69 L502.69,363.66 L503.29,369.32 L503.89,374.39 L504.48,378.52 L505.08,381.68 L505.68,384.01 L506.27,385.66 L506.87,386.79 L507.47,387.55 L508.06,388.04 L508.66,388.36 L509.25,388.56 L509.85,388.68 L510.45,388.76 L511.04,388.80 L511.64,388.83 L512.24,388.85 L512.83,388.85 L513.43,388.86 L514.03,388.86 L514.62,388.86 L515.22,388.86 L515.81,388.86 L516.41,388.86 L517.01,388.87 L517.60,388.87 L518.20,388.87 L518.20,388.87 Z" fill="#f6aeb2" fill-opacity="0.5" stroke="none"/>
<path d="M486.59,388.54 L487.19,388.46 L487.79,388.35 L488.38,388.22 L488.98,388.05 L489.57,387.85 L490.17,387.60 L490.77,387.30 L491.36,386.93 L491.96,386.49 L492.56,385.95 L493.15,385.31 L493.75,384.55 L494.35,383.66 L494.94,382.61 L495.54,381.39 L496.13,379.98 L496.73,378.36 L497.33,376.54 L497.92,374.50 L498.52,372.25 L499.12,369.82 L499.71,367.23 L500.31,364.57 L500.91,361.95 L501.50,359.59 L502.10,358.69 L502.69,363.66 L503.29,369.32 L503.89,374.39 L504.48,378.52 L505.08,381.68 L505.68,384.01 L506.27,385.66 L506.87,386.79 L507.47,387.55 L508.06,388.04 L508.66,388.36 L509.25,388.56" fill="none" stroke="#e8858a" stroke-width="0.6"/>
<rect x="452.30" y="355.30" width="66.20" height="66.40" fill="none" stroke="#8a8a8a" stroke-width="0.6"/>
<line x1="465.80" y1="421.70" x2="469.30" y2="421.70" stroke="#000" stroke-width="1.0" />
<text x="467.80" y="427.50" font-size="5.3" text-anchor="middle" fill="#333" dominant-baseline="central" >0</text>
<text x="483.10" y="427.50" font-size="5.3" text-anchor="middle" fill="#333" dominant-baseline="central">10<tspan dy="-1.9" font-size="3.6">5</tspan></text>
<text x="500.90" y="427.50" font-size="5.3" text-anchor="middle" fill="#333" dominant-baseline="central">10<tspan dy="-1.9" font-size="3.6">6</tspan></text>
<text x="514.50" y="427.50" font-size="5.3" text-anchor="middle" fill="#333" dominant-baseline="central">10<tspan dy="-1.9" font-size="3.6">7</tspan></text>
<line x1="467.80" y1="421.70" x2="467.80" y2="422.70" stroke="#666" stroke-width="0.4" />
<line x1="483.10" y1="421.70" x2="483.10" y2="422.70" stroke="#666" stroke-width="0.4" />
<line x1="500.90" y1="421.70" x2="500.90" y2="422.70" stroke="#666" stroke-width="0.4" />
<line x1="514.50" y1="421.70" x2="514.50" y2="422.70" stroke="#666" stroke-width="0.4" />
<line x1="314.20" y1="466.66" x2="379.50" y2="466.66" stroke="#f3c8ca" stroke-width="0.7" />
<line x1="314.20" y1="482.56" x2="379.50" y2="482.56" stroke="#cfe8f1" stroke-width="0.6" />
<path d="M314.50,499.30 L314.50,499.30 L315.09,499.30 L315.68,499.30 L316.26,499.30 L316.85,499.30 L317.44,499.30 L318.03,499.30 L318.62,499.30 L319.21,499.30 L319.79,499.30 L320.38,499.30 L320.97,499.30 L321.56,499.30 L322.15,499.30 L322.73,499.30 L323.32,499.30 L323.91,499.30 L324.50,499.30 L325.09,499.30 L325.68,499.30 L326.26,499.30 L326.85,499.30 L327.44,499.29 L328.03,499.29 L328.62,499.29 L329.20,499.29 L329.79,499.28 L330.38,499.28 L330.97,499.27 L331.56,499.26 L332.15,499.25 L332.73,499.23 L333.32,499.22 L333.91,499.19 L334.50,499.16 L335.09,499.12 L335.67,499.08 L336.26,499.02 L336.85,498.95 L337.44,498.85 L338.03,498.74 L338.62,498.60 L339.20,498.43 L339.79,498.22 L340.38,497.97 L340.97,497.66 L341.56,497.29 L342.14,496.84 L342.73,496.30 L343.32,495.67 L343.91,494.91 L344.50,494.01 L345.09,492.97 L345.67,491.75 L346.26,490.33 L346.85,488.71 L347.44,486.86 L348.03,484.77 L348.61,482.43 L349.20,479.86 L349.79,477.08 L350.38,474.17 L350.97,471.31 L351.56,470.05 L352.14,470.01 L352.73,469.85 L353.32,469.33 L353.91,468.34 L354.50,466.92 L355.08,465.24 L355.67,463.85 L356.26,465.87 L356.85,468.36 L357.44,470.56 L358.03,472.23 L358.61,473.30 L359.20,473.80 L359.79,473.85 L360.38,473.77 L360.97,475.17 L361.55,478.36 L362.14,481.58 L362.73,484.56 L363.32,487.23 L363.91,489.54 L364.50,491.49 L365.08,493.12 L365.67,494.46 L366.26,495.54 L366.85,496.40 L367.44,497.09 L368.02,497.62 L368.61,498.04 L369.20,498.35 L369.79,498.60 L370.38,498.78 L370.97,498.92 L371.55,499.02 L372.14,499.10 L372.73,499.16 L373.32,499.20 L373.91,499.23 L374.49,499.25 L375.08,499.26 L375.67,499.27 L376.26,499.28 L376.85,499.29 L377.44,499.29 L378.02,499.29 L378.61,499.30 L379.20,499.30 L379.20,499.30 Z" fill="#f9c590" fill-opacity="0.5" stroke="none"/>
<path d="M336.85,498.95 L337.44,498.85 L338.03,498.74 L338.62,498.60 L339.20,498.43 L339.79,498.22 L340.38,497.97 L340.97,497.66 L341.56,497.29 L342.14,496.84 L342.73,496.30 L343.32,495.67 L343.91,494.91 L344.50,494.01 L345.09,492.97 L345.67,491.75 L346.26,490.33 L346.85,488.71 L347.44,486.86 L348.03,484.77 L348.61,482.43 L349.20,479.86 L349.79,477.08 L350.38,474.17 L350.97,471.31 L351.56,470.05 L352.14,470.01 L352.73,469.85 L353.32,469.33 L353.91,468.34 L354.50,466.92 L355.08,465.24 L355.67,463.85 L356.26,465.87 L356.85,468.36 L357.44,470.56 L358.03,472.23 L358.61,473.30 L359.20,473.80 L359.79,473.85 L360.38,473.77 L360.97,475.17 L361.55,478.36 L362.14,481.58 L362.73,484.56 L363.32,487.23 L363.91,489.54 L364.50,491.49 L365.08,493.12 L365.67,494.46 L366.26,495.54 L366.85,496.40 L367.44,497.09 L368.02,497.62 L368.61,498.04 L369.20,498.35 L369.79,498.60 L370.38,498.78 L370.97,498.92" fill="none" stroke="#f0b57c" stroke-width="0.6"/>
<path d="M314.50,482.56 L314.50,482.56 L315.09,482.56 L315.68,482.56 L316.26,482.56 L316.85,482.56 L317.44,482.56 L318.03,482.56 L318.62,482.56 L319.21,482.56 L319.79,482.56 L320.38,482.56 L320.97,482.56 L321.56,482.56 L322.15,482.56 L322.73,482.56 L323.32,482.56 L323.91,482.56 L324.50,482.56 L325.09,482.56 L325.68,482.56 L326.26,482.56 L326.85,482.56 L327.44,482.56 L328.03,482.56 L328.62,482.56 L329.20,482.56 L329.79,482.56 L330.38,482.56 L330.97,482.56 L331.56,482.56 L332.15,482.56 L332.73,482.56 L333.32,482.56 L333.91,482.56 L334.50,482.56 L335.09,482.56 L335.67,482.56 L336.26,482.56 L336.85,482.56 L337.44,482.56 L338.03,482.56 L338.62,482.56 L339.20,482.56 L339.79,482.56 L340.38,482.56 L340.97,482.56 L341.56,482.56 L342.14,482.56 L342.73,482.55 L343.32,482.55 L343.91,482.55 L344.50,482.55 L345.09,482.55 L345.67,482.55 L346.26,482.55 L346.85,482.54 L347.44,482.54 L348.03,482.53 L348.61,482.52 L349.20,482.51 L349.79,482.49 L350.38,482.46 L350.97,482.43 L351.56,482.38 L352.14,482.31 L352.73,482.23 L353.32,482.11 L353.91,481.96 L354.50,481.76 L355.08,481.51 L355.67,481.17 L356.26,480.74 L356.85,480.20 L357.44,479.51 L358.03,478.65 L358.61,477.60 L359.20,476.31 L359.79,474.76 L360.38,472.92 L360.97,470.78 L361.55,468.34 L362.14,465.64 L362.73,462.77 L363.32,459.88 L363.91,457.35 L364.50,458.10 L365.08,462.68 L365.67,467.33 L366.26,471.36 L366.85,474.58 L367.44,477.04 L368.02,478.83 L368.61,480.09 L369.20,480.96 L369.79,481.54 L370.38,481.92 L370.97,482.16 L371.55,482.32 L372.14,482.41 L372.73,482.47 L373.32,482.51 L373.91,482.53 L374.49,482.54 L375.08,482.55 L375.67,482.55 L376.26,482.55 L376.85,482.55 L377.44,482.55 L378.02,482.56 L378.61,482.56 L379.20,482.56 L379.20,482.56 Z" fill="#8ad2ef" fill-opacity="0.5" stroke="none"/>
<path d="M352.73,482.23 L353.32,482.11 L353.91,481.96 L354.50,481.76 L355.08,481.51 L355.67,481.17 L356.26,480.74 L356.85,480.20 L357.44,479.51 L358.03,478.65 L358.61,477.60 L359.20,476.31 L359.79,474.76 L360.38,472.92 L360.97,470.78 L361.55,468.34 L362.14,465.64 L362.73,462.77 L363.32,459.88 L363.91,457.35 L364.50,458.10 L365.08,462.68 L365.67,467.33 L366.26,471.36 L366.85,474.58 L367.44,477.04 L368.02,478.83 L368.61,480.09 L369.20,480.96 L369.79,481.54 L370.38,481.92 L370.97,482.16" fill="none" stroke="#80c9e6" stroke-width="0.6"/>
<path d="M314.50,466.66 L314.50,466.66 L315.09,466.66 L315.68,466.66 L316.26,466.66 L316.85,466.66 L317.44,466.66 L318.03,466.66 L318.62,466.66 L319.21,466.66 L319.79,466.66 L320.38,466.66 L320.97,466.66 L321.56,466.66 L322.15,466.66 L322.73,466.66 L323.32,466.66 L323.91,466.66 L324.50,466.66 L325.09,466.66 L325.68,466.66 L326.26,466.66 L326.85,466.66 L327.44,466.66 L328.03,466.66 L328.62,466.66 L329.20,466.66 L329.79,466.66 L330.38,466.66 L330.97,466.66 L331.56,466.66 L332.15,466.66 L332.73,466.66 L333.32,466.66 L333.91,466.66 L334.50,466.66 L335.09,466.66 L335.67,466.66 L336.26,466.66 L336.85,466.66 L337.44,466.66 L338.03,466.66 L338.62,466.66 L339.20,466.66 L339.79,466.66 L340.38,466.65 L340.97,466.65 L341.56,466.65 L342.14,466.64 L342.73,466.63 L343.32,466.62 L343.91,466.61 L344.50,466.60 L345.09,466.58 L345.67,466.56 L346.26,466.53 L346.85,466.49 L347.44,466.44 L348.03,466.39 L348.61,466.31 L349.20,466.22 L349.79,466.11 L350.38,465.97 L350.97,465.79 L351.56,465.58 L352.14,465.32 L352.73,465.01 L353.32,464.63 L353.91,464.17 L354.50,463.62 L355.08,462.96 L355.67,462.19 L356.26,461.28 L356.85,460.22 L357.44,458.99 L358.03,457.57 L358.61,455.96 L359.20,454.14 L359.79,452.11 L360.38,449.88 L360.97,447.47 L361.55,444.91 L362.14,442.29 L362.73,439.72 L363.32,437.42 L363.91,436.63 L364.50,441.55 L365.08,447.11 L365.67,452.11 L366.26,456.20 L366.85,459.36 L367.44,461.69 L368.02,463.35 L368.61,464.50 L369.20,465.28 L369.79,465.79 L370.38,466.12 L370.97,466.33 L371.55,466.47 L372.14,466.55 L372.73,466.59 L373.32,466.62 L373.91,466.64 L374.49,466.65 L375.08,466.66 L375.67,466.66 L376.26,466.66 L376.85,466.66 L377.44,466.66 L378.02,466.66 L378.61,466.66 L379.20,466.66 L379.20,466.66 Z" fill="#f6aeb2" fill-opacity="0.5" stroke="none"/>
<path d="M348.61,466.31 L349.20,466.22 L349.79,466.11 L350.38,465.97 L350.97,465.79 L351.56,465.58 L352.14,465.32 L352.73,465.01 L353.32,464.63 L353.91,464.17 L354.50,463.62 L355.08,462.96 L355.67,462.19 L356.26,461.28 L356.85,460.22 L357.44,458.99 L358.03,457.57 L358.61,455.96 L359.20,454.14 L359.79,452.11 L360.38,449.88 L360.97,447.47 L361.55,444.91 L362.14,442.29 L362.73,439.72 L363.32,437.42 L363.91,436.63 L364.50,441.55 L365.08,447.11 L365.67,452.11 L366.26,456.20 L366.85,459.36 L367.44,461.69 L368.02,463.35 L368.61,464.50 L369.20,465.28 L369.79,465.79 L370.38,466.12 L370.97,466.33" fill="none" stroke="#e8858a" stroke-width="0.6"/>
<rect x="314.20" y="433.30" width="65.30" height="66.00" fill="none" stroke="#8a8a8a" stroke-width="0.6"/>
<line x1="327.70" y1="499.30" x2="331.20" y2="499.30" stroke="#000" stroke-width="1.0" />
<text x="329.70" y="505.10" font-size="5.3" text-anchor="middle" fill="#333" dominant-baseline="central" >0</text>
<text x="345.00" y="505.10" font-size="5.3" text-anchor="middle" fill="#333" dominant-baseline="central">10<tspan dy="-1.9" font-size="3.6">5</tspan></text>
<text x="362.80" y="505.10" font-size="5.3" text-anchor="middle" fill="#333" dominant-baseline="central">10<tspan dy="-1.9" font-size="3.6">6</tspan></text>
<text x="376.40" y="505.10" font-size="5.3" text-anchor="middle" fill="#333" dominant-baseline="central">10<tspan dy="-1.9" font-size="3.6">7</tspan></text>
<line x1="329.70" y1="499.30" x2="329.70" y2="500.30" stroke="#666" stroke-width="0.4" />
<line x1="345.00" y1="499.30" x2="345.00" y2="500.30" stroke="#666" stroke-width="0.4" />
<line x1="362.80" y1="499.30" x2="362.80" y2="500.30" stroke="#666" stroke-width="0.4" />
<line x1="376.40" y1="499.30" x2="376.40" y2="500.30" stroke="#666" stroke-width="0.4" />
<line x1="383.70" y1="466.66" x2="449.90" y2="466.66" stroke="#f3c8ca" stroke-width="0.7" />
<line x1="383.70" y1="482.56" x2="449.90" y2="482.56" stroke="#cfe8f1" stroke-width="0.6" />
<path d="M384.00,499.30 L384.00,499.30 L384.60,499.30 L385.19,499.30 L385.79,499.30 L386.39,499.30 L386.98,499.30 L387.58,499.30 L388.17,499.30 L388.77,499.30 L389.37,499.30 L389.96,499.30 L390.56,499.30 L391.16,499.30 L391.75,499.30 L392.35,499.30 L392.95,499.30 L393.54,499.30 L394.14,499.30 L394.73,499.30 L395.33,499.30 L395.93,499.30 L396.52,499.29 L397.12,499.29 L397.72,499.29 L398.31,499.29 L398.91,499.29 L399.51,499.28 L400.10,499.28 L400.70,499.27 L401.29,499.26 L401.89,499.26 L402.49,499.25 L403.08,499.23 L403.68,499.22 L404.28,499.20 L404.87,499.17 L405.47,499.15 L406.07,499.11 L406.66,499.07 L407.26,499.02 L407.85,498.96 L408.45,498.89 L409.05,498.80 L409.64,498.70 L410.24,498.58 L410.84,498.44 L411.43,498.27 L412.03,498.07 L412.63,497.84 L413.22,497.57 L413.82,497.25 L414.41,496.88 L415.01,496.46 L415.61,495.97 L416.20,495.41 L416.80,494.76 L417.40,494.03 L417.99,493.21 L418.59,492.27 L419.19,491.22 L419.78,490.05 L420.38,488.75 L420.97,487.32 L421.57,485.74 L422.17,484.02 L422.76,482.17 L423.36,480.21 L423.96,478.17 L424.55,476.15 L425.15,475.24 L425.75,476.22 L426.34,477.23 L426.94,477.90 L427.53,478.11 L428.13,477.89 L428.73,477.45 L429.32,477.80 L429.92,480.27 L430.52,482.86 L431.11,485.31 L431.71,487.55 L432.31,489.53 L432.90,491.25 L433.50,492.73 L434.09,493.98 L434.69,495.02 L435.29,495.88 L435.88,496.58 L436.48,497.16 L437.08,497.62 L437.67,497.99 L438.27,498.28 L438.87,498.52 L439.46,498.70 L440.06,498.84 L440.65,498.95 L441.25,499.04 L441.85,499.10 L442.44,499.15 L443.04,499.19 L443.64,499.22 L444.23,499.24 L444.83,499.25 L445.43,499.27 L446.02,499.28 L446.62,499.28 L447.21,499.29 L447.81,499.29 L448.41,499.29 L449.00,499.30 L449.60,499.30 L449.60,499.30 Z" fill="#f9c590" fill-opacity="0.5" stroke="none"/>
<path d="M407.85,498.96 L408.45,498.89 L409.05,498.80 L409.64,498.70 L410.24,498.58 L410.84,498.44 L411.43,498.27 L412.03,498.07 L412.63,497.84 L413.22,497.57 L413.82,497.25 L414.41,496.88 L415.01,496.46 L415.61,495.97 L416.20,495.41 L416.80,494.76 L417.40,494.03 L417.99,493.21 L418.59,492.27 L419.19,491.22 L419.78,490.05 L420.38,488.75 L420.97,487.32 L421.57,485.74 L422.17,484.02 L422.76,482.17 L423.36,480.21 L423.96,478.17 L424.55,476.15 L425.15,475.24 L425.75,476.22 L426.34,477.23 L426.94,477.90 L427.53,478.11 L428.13,477.89 L428.73,477.45 L429.32,477.80 L429.92,480.27 L430.52,482.86 L431.11,485.31 L431.71,487.55 L432.31,489.53 L432.90,491.25 L433.50,492.73 L434.09,493.98 L434.69,495.02 L435.29,495.88 L435.88,496.58 L436.48,497.16 L437.08,497.62 L437.67,497.99 L438.27,498.28 L438.87,498.52 L439.46,498.70 L440.06,498.84 L440.65,498.95" fill="none" stroke="#f0b57c" stroke-width="0.6"/>
<path d="M384.00,482.56 L384.00,482.56 L384.60,482.56 L385.19,482.56 L385.79,482.56 L386.39,482.56 L386.98,482.56 L387.58,482.56 L388.17,482.56 L388.77,482.56 L389.37,482.56 L389.96,482.56 L390.56,482.56 L391.16,482.56 L391.75,482.56 L392.35,482.56 L392.95,482.56 L393.54,482.56 L394.14,482.56 L394.73,482.56 L395.33,482.56 L395.93,482.56 L396.52,482.56 L397.12,482.56 L397.72,482.56 L398.31,482.56 L398.91,482.56 L399.51,482.56 L400.10,482.56 L400.70,482.56 L401.29,482.56 L401.89,482.56 L402.49,482.56 L403.08,482.56 L403.68,482.56 L404.28,482.56 L404.87,482.56 L405.47,482.56 L406.07,482.56 L406.66,482.56 L407.26,482.56 L407.85,482.56 L408.45,482.56 L409.05,482.56 L409.64,482.56 L410.24,482.56 L410.84,482.56 L411.43,482.56 L412.03,482.56 L412.63,482.56 L413.22,482.56 L413.82,482.55 L414.41,482.55 L415.01,482.55 L415.61,482.55 L416.20,482.55 L416.80,482.55 L417.40,482.55 L417.99,482.54 L418.59,482.53 L419.19,482.52 L419.78,482.51 L420.38,482.49 L420.97,482.47 L421.57,482.43 L422.17,482.38 L422.76,482.31 L423.36,482.22 L423.96,482.09 L424.55,481.92 L425.15,481.69 L425.75,481.38 L426.34,480.98 L426.94,480.46 L427.53,479.79 L428.13,478.93 L428.73,477.85 L429.32,476.50 L429.92,474.85 L430.52,472.84 L431.11,470.47 L431.71,467.70 L432.31,464.57 L432.90,461.16 L433.50,457.66 L434.09,454.43 L434.69,454.05 L435.29,459.60 L435.88,465.37 L436.48,470.31 L437.08,474.15 L437.67,476.97 L438.27,478.95 L438.87,480.28 L439.46,481.15 L440.06,481.71 L440.65,482.05 L441.25,482.26 L441.85,482.39 L442.44,482.46 L443.04,482.50 L443.64,482.53 L444.23,482.54 L444.83,482.55 L445.43,482.55 L446.02,482.55 L446.62,482.55 L447.21,482.56 L447.81,482.56 L448.41,482.56 L449.00,482.56 L449.60,482.56 L449.60,482.56 Z" fill="#8ad2ef" fill-opacity="0.5" stroke="none"/>
<path d="M423.36,482.22 L423.96,482.09 L424.55,481.92 L425.15,481.69 L425.75,481.38 L426.34,480.98 L426.94,480.46 L427.53,479.79 L428.13,478.93 L428.73,477.85 L429.32,476.50 L429.92,474.85 L430.52,472.84 L431.11,470.47 L431.71,467.70 L432.31,464.57 L432.90,461.16 L433.50,457.66 L434.09,454.43 L434.69,454.05 L435.29,459.60 L435.88,465.37 L436.48,470.31 L437.08,474.15 L437.67,476.97 L438.27,478.95 L438.87,480.28 L439.46,481.15 L440.06,481.71 L440.65,482.05" fill="none" stroke="#80c9e6" stroke-width="0.6"/>
<path d="M384.00,466.66 L384.00,466.66 L384.60,466.66 L385.19,466.66 L385.79,466.66 L386.39,466.66 L386.98,466.66 L387.58,466.66 L388.17,466.66 L388.77,466.66 L389.37,466.66 L389.96,466.66 L390.56,466.66 L391.16,466.66 L391.75,466.66 L392.35,466.66 L392.95,466.66 L393.54,466.66 L394.14,466.66 L394.73,466.66 L395.33,466.66 L395.93,466.66 L396.52,466.66 L397.12,466.66 L397.72,466.66 L398.31,466.66 L398.91,466.66 L399.51,466.66 L400.10,466.66 L400.70,466.66 L401.29,466.66 L401.89,466.66 L402.49,466.66 L403.08,466.66 L403.68,466.66 L404.28,466.66 L404.87,466.66 L405.47,466.66 L406.07,466.66 L406.66,466.66 L407.26,466.66 L407.85,466.66 L408.45,466.66 L409.05,466.66 L409.64,466.66 L410.24,466.65 L410.84,466.65 L411.43,466.65 L412.03,466.64 L412.63,466.64 L413.22,466.63 L413.82,466.62 L414.41,466.60 L415.01,466.59 L415.61,466.56 L416.20,466.54 L416.80,466.50 L417.40,466.45 L417.99,466.40 L418.59,466.32 L419.19,466.23 L419.78,466.12 L420.38,465.98 L420.97,465.81 L421.57,465.60 L422.17,465.35 L422.76,465.03 L423.36,464.65 L423.96,464.19 L424.55,463.64 L425.15,462.98 L425.75,462.21 L426.34,461.29 L426.94,460.22 L427.53,458.97 L428.13,457.54 L428.73,455.91 L429.32,454.07 L429.92,452.03 L430.52,449.78 L431.11,447.36 L431.71,444.82 L432.31,442.23 L432.90,439.74 L433.50,437.62 L434.09,438.72 L434.69,444.03 L435.29,449.40 L435.88,454.04 L436.48,457.73 L437.08,460.52 L437.67,462.54 L438.27,463.96 L438.87,464.92 L439.46,465.56 L440.06,465.98 L440.65,466.25 L441.25,466.41 L441.85,466.51 L442.44,466.58 L443.04,466.61 L443.64,466.63 L444.23,466.65 L444.83,466.65 L445.43,466.66 L446.02,466.66 L446.62,466.66 L447.21,466.66 L447.81,466.66 L448.41,466.66 L449.00,466.66 L449.60,466.66 L449.60,466.66 Z" fill="#f6aeb2" fill-opacity="0.5" stroke="none"/>
<path d="M418.59,466.32 L419.19,466.23 L419.78,466.12 L420.38,465.98 L420.97,465.81 L421.57,465.60 L422.17,465.35 L422.76,465.03 L423.36,464.65 L423.96,464.19 L424.55,463.64 L425.15,462.98 L425.75,462.21 L426.34,461.29 L426.94,460.22 L427.53,458.97 L428.13,457.54 L428.73,455.91 L429.32,454.07 L429.92,452.03 L430.52,449.78 L431.11,447.36 L431.71,444.82 L432.31,442.23 L432.90,439.74 L433.50,437.62 L434.09,438.72 L434.69,444.03 L435.29,449.40 L435.88,454.04 L436.48,457.73 L437.08,460.52 L437.67,462.54 L438.27,463.96 L438.87,464.92 L439.46,465.56 L440.06,465.98 L440.65,466.25" fill="none" stroke="#e8858a" stroke-width="0.6"/>
<rect x="383.70" y="433.30" width="66.20" height="66.00" fill="none" stroke="#8a8a8a" stroke-width="0.6"/>
<line x1="397.20" y1="499.30" x2="400.70" y2="499.30" stroke="#000" stroke-width="1.0" />
<text x="399.20" y="505.10" font-size="5.3" text-anchor="middle" fill="#333" dominant-baseline="central" >0</text>
<text x="414.50" y="505.10" font-size="5.3" text-anchor="middle" fill="#333" dominant-baseline="central">10<tspan dy="-1.9" font-size="3.6">5</tspan></text>
<text x="432.30" y="505.10" font-size="5.3" text-anchor="middle" fill="#333" dominant-baseline="central">10<tspan dy="-1.9" font-size="3.6">6</tspan></text>
<text x="445.90" y="505.10" font-size="5.3" text-anchor="middle" fill="#333" dominant-baseline="central">10<tspan dy="-1.9" font-size="3.6">7</tspan></text>
<line x1="399.20" y1="499.30" x2="399.20" y2="500.30" stroke="#666" stroke-width="0.4" />
<line x1="414.50" y1="499.30" x2="414.50" y2="500.30" stroke="#666" stroke-width="0.4" />
<line x1="432.30" y1="499.30" x2="432.30" y2="500.30" stroke="#666" stroke-width="0.4" />
<line x1="445.90" y1="499.30" x2="445.90" y2="500.30" stroke="#666" stroke-width="0.4" />
<line x1="452.30" y1="466.66" x2="518.50" y2="466.66" stroke="#f3c8ca" stroke-width="0.7" />
<line x1="452.30" y1="482.56" x2="518.50" y2="482.56" stroke="#cfe8f1" stroke-width="0.6" />
<path d="M452.60,499.30 L452.60,499.30 L453.20,499.30 L453.79,499.30 L454.39,499.30 L454.99,499.30 L455.58,499.30 L456.18,499.30 L456.77,499.30 L457.37,499.30 L457.97,499.30 L458.56,499.30 L459.16,499.30 L459.76,499.30 L460.35,499.30 L460.95,499.30 L461.55,499.30 L462.14,499.30 L462.74,499.30 L463.33,499.30 L463.93,499.30 L464.53,499.30 L465.12,499.30 L465.72,499.30 L466.32,499.30 L466.91,499.30 L467.51,499.30 L468.11,499.30 L468.70,499.30 L469.30,499.30 L469.89,499.30 L470.49,499.30 L471.09,499.30 L471.68,499.30 L472.28,499.30 L472.88,499.30 L473.47,499.30 L474.07,499.30 L474.67,499.30 L475.26,499.30 L475.86,499.30 L476.45,499.30 L477.05,499.30 L477.65,499.30 L478.24,499.30 L478.84,499.30 L479.44,499.30 L480.03,499.30 L480.63,499.30 L481.23,499.30 L481.82,499.30 L482.42,499.30 L483.01,499.30 L483.61,499.30 L484.21,499.30 L484.80,499.30 L485.40,499.30 L486.00,499.30 L486.59,499.30 L487.19,499.30 L487.79,499.30 L488.38,499.30 L488.98,499.30 L489.57,499.30 L490.17,499.29 L490.77,499.29 L491.36,499.28 L491.96,499.27 L492.56,499.24 L493.15,499.21 L493.75,499.15 L494.35,499.05 L494.94,498.91 L495.54,498.68 L496.13,498.33 L496.73,497.80 L497.33,497.04 L497.92,495.94 L498.52,494.40 L499.12,492.29 L499.71,489.52 L500.31,486.02 L500.91,481.84 L501.50,477.29 L502.10,473.35 L502.69,476.69 L503.29,482.36 L503.89,487.39 L504.48,491.31 L505.08,494.15 L505.68,496.09 L506.27,497.35 L506.87,498.15 L507.47,498.64 L508.06,498.93 L508.66,499.09 L509.25,499.19 L509.85,499.24 L510.45,499.27 L511.04,499.28 L511.64,499.29 L512.24,499.30 L512.83,499.30 L513.43,499.30 L514.03,499.30 L514.62,499.30 L515.22,499.30 L515.81,499.30 L516.41,499.30 L517.01,499.30 L517.60,499.30 L518.20,499.30 L518.20,499.30 Z" fill="#f9c590" fill-opacity="0.5" stroke="none"/>
<path d="M494.94,498.91 L495.54,498.68 L496.13,498.33 L496.73,497.80 L497.33,497.04 L497.92,495.94 L498.52,494.40 L499.12,492.29 L499.71,489.52 L500.31,486.02 L500.91,481.84 L501.50,477.29 L502.10,473.35 L502.69,476.69 L503.29,482.36 L503.89,487.39 L504.48,491.31 L505.08,494.15 L505.68,496.09 L506.27,497.35 L506.87,498.15 L507.47,498.64 L508.06,498.93" fill="none" stroke="#f0b57c" stroke-width="0.6"/>
<path d="M452.60,482.56 L452.60,482.56 L453.20,482.56 L453.79,482.56 L454.39,482.56 L454.99,482.56 L455.58,482.56 L456.18,482.56 L456.77,482.56 L457.37,482.56 L457.97,482.56 L458.56,482.56 L459.16,482.56 L459.76,482.56 L460.35,482.56 L460.95,482.56 L461.55,482.56 L462.14,482.56 L462.74,482.56 L463.33,482.56 L463.93,482.56 L464.53,482.56 L465.12,482.56 L465.72,482.56 L466.32,482.56 L466.91,482.56 L467.51,482.56 L468.11,482.56 L468.70,482.56 L469.30,482.56 L469.89,482.56 L470.49,482.56 L471.09,482.56 L471.68,482.56 L472.28,482.56 L472.88,482.56 L473.47,482.56 L474.07,482.56 L474.67,482.56 L475.26,482.56 L475.86,482.56 L476.45,482.56 L477.05,482.56 L477.65,482.56 L478.24,482.56 L478.84,482.56 L479.44,482.56 L480.03,482.56 L480.63,482.56 L481.23,482.56 L481.82,482.56 L482.42,482.56 L483.01,482.56 L483.61,482.55 L484.21,482.55 L484.80,482.55 L485.40,482.55 L486.00,482.55 L486.59,482.55 L487.19,482.54 L487.79,482.54 L488.38,482.53 L488.98,482.52 L489.57,482.50 L490.17,482.47 L490.77,482.43 L491.36,482.37 L491.96,482.29 L492.56,482.18 L493.15,482.02 L493.75,481.80 L494.35,481.50 L494.94,481.10 L495.54,480.55 L496.13,479.83 L496.73,478.89 L497.33,477.68 L497.92,476.14 L498.52,474.21 L499.12,471.85 L499.71,469.02 L500.31,465.74 L500.91,462.07 L501.50,458.22 L502.10,454.60 L502.69,454.20 L503.29,460.29 L503.89,466.44 L504.48,471.51 L505.08,475.29 L505.68,477.95 L506.27,479.73 L506.87,480.86 L507.47,481.57 L508.06,481.99 L508.66,482.24 L509.25,482.38 L509.85,482.46 L510.45,482.51 L511.04,482.53 L511.64,482.54 L512.24,482.55 L512.83,482.55 L513.43,482.55 L514.03,482.56 L514.62,482.56 L515.22,482.56 L515.81,482.56 L516.41,482.56 L517.01,482.56 L517.60,482.56 L518.20,482.56 L518.20,482.56 Z" fill="#8ad2ef" fill-opacity="0.5" stroke="none"/>
<path d="M492.56,482.18 L493.15,482.02 L493.75,481.80 L494.35,481.50 L494.94,481.10 L495.54,480.55 L496.13,479.83 L496.73,478.89 L497.33,477.68 L497.92,476.14 L498.52,474.21 L499.12,471.85 L499.71,469.02 L500.31,465.74 L500.91,462.07 L501.50,458.22 L502.10,454.60 L502.69,454.20 L503.29,460.29 L503.89,466.44 L504.48,471.51 L505.08,475.29 L505.68,477.95 L506.27,479.73 L506.87,480.86 L507.47,481.57 L508.06,481.99 L508.66,482.24" fill="none" stroke="#80c9e6" stroke-width="0.6"/>
<path d="M452.60,466.66 L452.60,466.66 L453.20,466.66 L453.79,466.66 L454.39,466.66 L454.99,466.66 L455.58,466.66 L456.18,466.66 L456.77,466.66 L457.37,466.66 L457.97,466.66 L458.56,466.66 L459.16,466.66 L459.76,466.66 L460.35,466.66 L460.95,466.66 L461.55,466.66 L462.14,466.66 L462.74,466.66 L463.33,466.66 L463.93,466.66 L464.53,466.66 L465.12,466.66 L465.72,466.66 L466.32,466.66 L466.91,466.66 L467.51,466.66 L468.11,466.66 L468.70,466.66 L469.30,466.66 L469.89,466.66 L470.49,466.66 L471.09,466.66 L471.68,466.66 L472.28,466.66 L472.88,466.66 L473.47,466.66 L474.07,466.66 L474.67,466.66 L475.26,466.66 L475.86,466.66 L476.45,466.66 L477.05,466.66 L477.65,466.66 L478.24,466.66 L478.84,466.65 L479.44,466.65 L480.03,466.65 L480.63,466.64 L481.23,466.64 L481.82,466.63 L482.42,466.62 L483.01,466.61 L483.61,466.59 L484.21,466.57 L484.80,466.54 L485.40,466.51 L486.00,466.46 L486.59,466.41 L487.19,466.34 L487.79,466.25 L488.38,466.14 L488.98,466.01 L489.57,465.84 L490.17,465.64 L490.77,465.39 L491.36,465.09 L491.96,464.72 L492.56,464.28 L493.15,463.74 L493.75,463.10 L494.35,462.35 L494.94,461.45 L495.54,460.41 L496.13,459.19 L496.73,457.80 L497.33,456.20 L497.92,454.40 L498.52,452.38 L499.12,450.17 L499.71,447.78 L500.31,445.25 L500.91,442.66 L501.50,440.14 L502.10,437.93 L502.69,437.98 L503.29,443.10 L503.89,448.54 L504.48,453.32 L505.08,457.18 L505.68,460.11 L506.27,462.25 L506.87,463.76 L507.47,464.79 L508.06,465.48 L508.66,465.92 L509.25,466.21 L509.85,466.39 L510.45,466.50 L511.04,466.57 L511.64,466.61 L512.24,466.63 L512.83,466.65 L513.43,466.65 L514.03,466.66 L514.62,466.66 L515.22,466.66 L515.81,466.66 L516.41,466.66 L517.01,466.66 L517.60,466.66 L518.20,466.66 L518.20,466.66 Z" fill="#f6aeb2" fill-opacity="0.5" stroke="none"/>
<path d="M487.19,466.34 L487.79,466.25 L488.38,466.14 L488.98,466.01 L489.57,465.84 L490.17,465.64 L490.77,465.39 L491.36,465.09 L491.96,464.72 L492.56,464.28 L493.15,463.74 L493.75,463.10 L494.35,462.35 L494.94,461.45 L495.54,460.41 L496.13,459.19 L496.73,457.80 L497.33,456.20 L497.92,454.40 L498.52,452.38 L499.12,450.17 L499.71,447.78 L500.31,445.25 L500.91,442.66 L501.50,440.14 L502.10,437.93 L502.69,437.98 L503.29,443.10 L503.89,448.54 L504.48,453.32 L505.08,457.18 L505.68,460.11 L506.27,462.25 L506.87,463.76 L507.47,464.79 L508.06,465.48 L508.66,465.92 L509.25,466.21" fill="none" stroke="#e8858a" stroke-width="0.6"/>
<rect x="452.30" y="433.30" width="66.20" height="66.00" fill="none" stroke="#8a8a8a" stroke-width="0.6"/>
<line x1="465.80" y1="499.30" x2="469.30" y2="499.30" stroke="#000" stroke-width="1.0" />
<text x="467.80" y="505.10" font-size="5.3" text-anchor="middle" fill="#333" dominant-baseline="central" >0</text>
<text x="483.10" y="505.10" font-size="5.3" text-anchor="middle" fill="#333" dominant-baseline="central">10<tspan dy="-1.9" font-size="3.6">5</tspan></text>
<text x="500.90" y="505.10" font-size="5.3" text-anchor="middle" fill="#333" dominant-baseline="central">10<tspan dy="-1.9" font-size="3.6">6</tspan></text>
<text x="514.50" y="505.10" font-size="5.3" text-anchor="middle" fill="#333" dominant-baseline="central">10<tspan dy="-1.9" font-size="3.6">7</tspan></text>
<line x1="467.80" y1="499.30" x2="467.80" y2="500.30" stroke="#666" stroke-width="0.4" />
<line x1="483.10" y1="499.30" x2="483.10" y2="500.30" stroke="#666" stroke-width="0.4" />
<line x1="500.90" y1="499.30" x2="500.90" y2="500.30" stroke="#666" stroke-width="0.4" />
<line x1="514.50" y1="499.30" x2="514.50" y2="500.30" stroke="#666" stroke-width="0.4" />
<text x="308.80" y="388.50" font-size="7.2" text-anchor="middle" fill="#231f20" transform="rotate(-90 308.80 388.50)" dominant-baseline="central" >CD8<tspan dy="-2.2" font-size="4.5">+</tspan></text>
<text x="308.80" y="466.50" font-size="7.2" text-anchor="middle" fill="#231f20" transform="rotate(-90 308.80 466.50)" dominant-baseline="central" >CD4<tspan dy="-2.2" font-size="4.5">+</tspan></text>
<text x="318.00" y="512.80" font-size="7.5" text-anchor="start" fill="#231f20" dominant-baseline="central" >CellTrace violet</text>
<line x1="377.30" y1="512.70" x2="505.00" y2="512.70" stroke="#000" stroke-width="0.9" />
<path d="M504,510.6 L509.5,512.7 L504,514.8 Z" fill="#000"/>
<rect x="320.20" y="523.30" width="8.40" height="8.40" fill="#f0656b" stroke="none" stroke-width="0.5" />
<text x="331.60" y="527.50" font-size="6.6" text-anchor="start" fill="#333" dominant-baseline="central" >No target</text>
<rect x="376.60" y="523.30" width="8.50" height="8.40" fill="#55c3ea" stroke="none" stroke-width="0.5" />
<text x="387.80" y="527.50" font-size="6.2" text-anchor="start" fill="#333" dominant-baseline="central" >AMO1 (CD19<tspan dy="-2" font-size="4">−</tspan><tspan dy="2">/72</tspan><tspan dy="-2" font-size="4">−</tspan><tspan dy="2">)</tspan></text>
<rect x="453.40" y="523.30" width="8.40" height="8.40" fill="#f7be84" stroke="none" stroke-width="0.5" />
<text x="465.40" y="527.50" font-size="6.2" text-anchor="start" fill="#333" dominant-baseline="central" >SEM (CD19<tspan dy="-2" font-size="4">+</tspan><tspan dy="2">/72</tspan><tspan dy="-2" font-size="4">+</tspan><tspan dy="2">)</tspan></text>
<text x="8.00" y="474.50" font-size="10.5" text-anchor="start" fill="#000" font-weight="bold" dominant-baseline="central" >F</text>
<text x="85.20" y="493.00" font-size="7.05" text-anchor="end" fill="#231f20" dominant-baseline="central" >CD19 CAR alone</text>
<text x="85.20" y="511.00" font-size="7.05" text-anchor="end" fill="#231f20" dominant-baseline="central" >CD72(NbD4) CAR alone</text>
<text x="85.20" y="528.40" font-size="7.05" text-anchor="end" fill="#231f20" dominant-baseline="central" >CD19 CAR + SEM</text>
<text x="85.20" y="545.80" font-size="7.05" text-anchor="end" fill="#231f20" dominant-baseline="central" >CD72(NbD4) CAR + SEM</text>
<rect x="91.20" y="482.00" width="8.50" height="18.35" fill="#ffffff" stroke="none" stroke-width="0.5" />
<rect x="91.20" y="500.35" width="8.50" height="18.35" fill="#ffffff" stroke="none" stroke-width="0.5" />
<rect x="91.20" y="518.70" width="8.50" height="18.35" fill="#465eb4" stroke="none" stroke-width="0.5" />
<rect x="91.20" y="537.05" width="8.50" height="18.35" fill="#c2c3e3" stroke="none" stroke-width="0.5" />
<rect x="91.20" y="482.00" width="8.50" height="73.40" fill="none" stroke="#231f20" stroke-width="0.7" />
<defs><linearGradient id="cb" x1="0" y1="0" x2="0" y2="1"><stop offset="0" stop-color="#3a55b0"/><stop offset="0.6" stop-color="#a8aad8"/><stop offset="1" stop-color="#ffffff"/></linearGradient></defs>
<rect x="103.90" y="502.80" width="4.60" height="27.70" fill="url(#cb)" stroke="none" stroke-width="0.5" />
<text x="110.30" y="506.50" font-size="5.3" text-anchor="start" fill="#444" dominant-baseline="central" >4</text>
<text x="110.30" y="512.70" font-size="5.3" text-anchor="start" fill="#444" dominant-baseline="central" >3</text>
<text x="110.30" y="519.20" font-size="5.3" text-anchor="start" fill="#444" dominant-baseline="central" >2</text>
<text x="110.30" y="525.40" font-size="5.3" text-anchor="start" fill="#444" dominant-baseline="central" >1</text>
<rect x="116.20" y="517.10" width="9.51" height="18.35" fill="#a8aad8" stroke="none" stroke-width="0.5" />
<rect x="116.20" y="535.45" width="9.51" height="18.35" fill="#d7d8ed" stroke="none" stroke-width="0.5" />
<rect x="125.66" y="517.10" width="9.51" height="18.35" fill="#435cb3" stroke="none" stroke-width="0.5" />
<rect x="144.58" y="517.10" width="9.51" height="18.35" fill="#a0a4d5" stroke="none" stroke-width="0.5" />
<rect x="144.58" y="535.45" width="9.51" height="18.35" fill="#dcddef" stroke="none" stroke-width="0.5" />
<rect x="172.97" y="517.10" width="9.51" height="18.35" fill="#f4f4fa" stroke="none" stroke-width="0.5" />
<rect x="191.89" y="517.10" width="9.51" height="18.35" fill="#a8aad8" stroke="none" stroke-width="0.5" />
<rect x="191.89" y="535.45" width="9.51" height="18.35" fill="#f1f2f9" stroke="none" stroke-width="0.5" />
<rect x="201.35" y="517.10" width="9.51" height="18.35" fill="#9ba0d3" stroke="none" stroke-width="0.5" />
<rect x="201.35" y="535.45" width="9.51" height="18.35" fill="#dcddef" stroke="none" stroke-width="0.5" />
<rect x="220.28" y="517.10" width="9.51" height="18.35" fill="#f1f2f9" stroke="none" stroke-width="0.5" />
<rect x="220.28" y="535.45" width="9.51" height="18.35" fill="#f8f8fc" stroke="none" stroke-width="0.5" />
<rect x="229.74" y="517.10" width="9.51" height="18.35" fill="#c8c9e6" stroke="none" stroke-width="0.5" />
<rect x="229.74" y="535.45" width="9.51" height="18.35" fill="#d3d4eb" stroke="none" stroke-width="0.5" />
<rect x="115.60" y="480.40" width="123.60" height="73.40" fill="none" stroke="#231f20" stroke-width="0.8" />
<rect x="245.80" y="502.50" width="5.90" height="29.20" fill="url(#cb)" stroke="none" stroke-width="0.5" />
<text x="254.00" y="503.80" font-size="5.4" text-anchor="start" fill="#444" dominant-baseline="central" >1.00</text>
<text x="254.00" y="511.50" font-size="5.4" text-anchor="start" fill="#444" dominant-baseline="central" >0.75</text>
<text x="254.00" y="519.20" font-size="5.4" text-anchor="start" fill="#444" dominant-baseline="central" >0.50</text>
<text x="254.00" y="527.00" font-size="5.4" text-anchor="start" fill="#444" dominant-baseline="central" >0.25</text>
<text x="270.60" y="514.30" font-size="6.0" text-anchor="middle" fill="#444" transform="rotate(-90 270.60 514.30)" dominant-baseline="central" >pg/mL (×10<tspan dy="-2.0" font-size="4.0">3</tspan><tspan dy="2.0">)</tspan></text>
<text x="120.93" y="560.00" font-size="5.3" text-anchor="end" fill="#333" transform="rotate(-45 120.93 560.0)" dominant-baseline="central">GM-CSF</text>
<text x="130.39" y="560.00" font-size="5.3" text-anchor="end" fill="#333" transform="rotate(-45 130.39 560.0)" dominant-baseline="central">IL10</text>
<text x="139.85" y="560.00" font-size="5.3" text-anchor="end" fill="#333" transform="rotate(-45 139.85 560.0)" dominant-baseline="central">IL12</text>
<text x="149.32" y="560.00" font-size="5.3" text-anchor="end" fill="#333" transform="rotate(-45 149.32 560.0)" dominant-baseline="central">IL13</text>
<text x="158.78" y="560.00" font-size="5.3" text-anchor="end" fill="#333" transform="rotate(-45 158.78 560.0)" dominant-baseline="central">IL17A</text>
<text x="168.24" y="560.00" font-size="5.3" text-anchor="end" fill="#333" transform="rotate(-45 168.24 560.0)" dominant-baseline="central">IL1β</text>
<text x="177.70" y="560.00" font-size="5.3" text-anchor="end" fill="#333" transform="rotate(-45 177.70 560.0)" dominant-baseline="central">IL2</text>
<text x="187.16" y="560.00" font-size="5.3" text-anchor="end" fill="#333" transform="rotate(-45 187.16 560.0)" dominant-baseline="central">IL23</text>
<text x="196.62" y="560.00" font-size="5.3" text-anchor="end" fill="#333" transform="rotate(-45 196.62 560.0)" dominant-baseline="central">IL4</text>
<text x="206.08" y="560.00" font-size="5.3" text-anchor="end" fill="#333" transform="rotate(-45 206.08 560.0)" dominant-baseline="central">IL5</text>
<text x="215.55" y="560.00" font-size="5.3" text-anchor="end" fill="#333" transform="rotate(-45 215.55 560.0)" dominant-baseline="central">IL6</text>
<text x="225.01" y="560.00" font-size="5.3" text-anchor="end" fill="#333" transform="rotate(-45 225.01 560.0)" dominant-baseline="central">IL8</text>
<text x="234.47" y="560.00" font-size="5.3" text-anchor="end" fill="#333" transform="rotate(-45 234.47 560.0)" dominant-baseline="central">TNFα</text>
<text x="97.0" y="559.5" font-size="5.3" text-anchor="end" fill="#444" transform="rotate(-45 97.0 559.5)" dominant-baseline="central">IFNγ</text>
<text x="6.90" y="584.00" font-size="10.5" text-anchor="start" fill="#000" font-weight="bold" dominant-baseline="central" >G</text>
<text x="272.50" y="583.70" font-size="10.5" text-anchor="start" fill="#000" font-weight="bold" dominant-baseline="central" >H</text>
<line x1="46.00" y1="614.50" x2="119.90" y2="614.50" stroke="#e6e6e6" stroke-width="0.5" />
<line x1="46.00" y1="624.30" x2="119.90" y2="624.30" stroke="#f4c9cb" stroke-width="0.5" />
<path d="M46.30,614.50 L46.30,614.50 L47.35,614.50 L48.39,614.50 L49.44,614.50 L50.49,614.50 L51.54,614.50 L52.58,614.50 L53.63,614.50 L54.68,614.50 L55.72,614.50 L56.77,614.50 L57.82,614.50 L58.87,614.50 L59.91,614.50 L60.96,614.50 L62.01,614.50 L63.05,614.50 L64.10,614.50 L65.15,614.50 L66.20,614.49 L67.24,614.44 L68.29,614.22 L69.34,613.48 L70.38,611.56 L71.43,607.93 L72.48,603.04 L73.53,598.90 L74.57,597.84 L75.62,598.78 L76.67,600.75 L77.71,603.35 L78.76,606.12 L79.81,608.66 L80.86,610.73 L81.90,612.24 L82.95,613.25 L84.00,613.86 L85.04,614.19 L86.09,614.36 L87.14,614.44 L88.19,614.48 L89.23,614.49 L90.28,614.50 L91.33,614.50 L92.37,614.50 L93.42,614.50 L94.47,614.50 L95.52,614.50 L96.56,614.50 L97.61,614.50 L98.66,614.50 L99.70,614.50 L100.75,614.50 L101.80,614.50 L102.85,614.50 L103.89,614.50 L104.94,614.50 L105.99,614.50 L107.03,614.50 L108.08,614.50 L109.13,614.50 L110.18,614.50 L111.22,614.50 L112.27,614.50 L113.32,614.50 L114.36,614.50 L115.41,614.50 L116.46,614.50 L117.51,614.50 L118.55,614.50 L119.60,614.50 L119.60,614.50 Z" fill="#bdbdbd" fill-opacity="0.92" stroke="none"/>
<path d="M69.34,613.48 L70.38,611.56 L71.43,607.93 L72.48,603.04 L73.53,598.90 L74.57,597.84 L75.62,598.78 L76.67,600.75 L77.71,603.35 L78.76,606.12 L79.81,608.66 L80.86,610.73 L81.90,612.24 L82.95,613.25 L84.00,613.86 L85.04,614.19" fill="none" stroke="#8c8c8c" stroke-width="0.5"/>
<path d="M46.30,624.30 L46.30,624.30 L47.35,624.30 L48.39,624.30 L49.44,624.30 L50.49,624.30 L51.54,624.30 L52.58,624.30 L53.63,624.30 L54.68,624.30 L55.72,624.30 L56.77,624.30 L57.82,624.30 L58.87,624.30 L59.91,624.30 L60.96,624.30 L62.01,624.30 L63.05,624.30 L64.10,624.30 L65.15,624.30 L66.20,624.30 L67.24,624.30 L68.29,624.30 L69.34,624.30 L70.38,624.30 L71.43,624.30 L72.48,624.30 L73.53,624.30 L74.57,624.30 L75.62,624.30 L76.67,624.30 L77.71,624.30 L78.76,624.30 L79.81,624.29 L80.86,624.22 L81.90,623.90 L82.95,622.83 L84.00,620.18 L85.04,615.55 L86.09,610.17 L87.14,606.95 L88.19,608.39 L89.23,613.88 L90.28,619.43 L91.33,622.68 L92.37,623.92 L93.42,624.23 L94.47,624.29 L95.52,624.30 L96.56,624.30 L97.61,624.30 L98.66,624.30 L99.70,624.30 L100.75,624.30 L101.80,624.30 L102.85,624.30 L103.89,624.30 L104.94,624.30 L105.99,624.30 L107.03,624.30 L108.08,624.30 L109.13,624.30 L110.18,624.30 L111.22,624.30 L112.27,624.30 L113.32,624.30 L114.36,624.30 L115.41,624.30 L116.46,624.30 L117.51,624.30 L118.55,624.30 L119.60,624.30 L119.60,624.30 Z" fill="#e8696e" fill-opacity="0.92" stroke="none"/>
<path d="M81.90,623.90 L82.95,622.83 L84.00,620.18 L85.04,615.55 L86.09,610.17 L87.14,606.95 L88.19,608.39 L89.23,613.88 L90.28,619.43 L91.33,622.68 L92.37,623.92" fill="none" stroke="#d24a50" stroke-width="0.5"/>
<path d="M46.30,633.30 L46.30,633.30 L47.35,633.30 L48.39,633.30 L49.44,633.30 L50.49,633.30 L51.54,633.30 L52.58,633.30 L53.63,633.30 L54.68,633.30 L55.72,633.30 L56.77,633.30 L57.82,633.30 L58.87,633.30 L59.91,633.30 L60.96,633.30 L62.01,633.30 L63.05,633.30 L64.10,633.30 L65.15,633.30 L66.20,633.30 L67.24,633.30 L68.29,633.30 L69.34,633.30 L70.38,633.30 L71.43,633.30 L72.48,633.30 L73.53,633.27 L74.57,633.11 L75.62,632.39 L76.67,630.15 L77.71,625.49 L78.76,619.49 L79.81,615.90 L80.86,618.13 L81.90,624.67 L82.95,630.10 L84.00,632.53 L85.04,633.18 L86.09,633.29 L87.14,633.30 L88.19,633.30 L89.23,633.30 L90.28,633.30 L91.33,633.30 L92.37,633.30 L93.42,633.30 L94.47,633.30 L95.52,633.30 L96.56,633.30 L97.61,633.30 L98.66,633.30 L99.70,633.30 L100.75,633.30 L101.80,633.30 L102.85,633.30 L103.89,633.30 L104.94,633.30 L105.99,633.30 L107.03,633.30 L108.08,633.30 L109.13,633.30 L110.18,633.30 L111.22,633.30 L112.27,633.30 L113.32,633.30 L114.36,633.30 L115.41,633.30 L116.46,633.30 L117.51,633.30 L118.55,633.30 L119.60,633.30 L119.60,633.30 Z" fill="#5d9ad9" fill-opacity="0.92" stroke="none"/>
<path d="M75.62,632.39 L76.67,630.15 L77.71,625.49 L78.76,619.49 L79.81,615.90 L80.86,618.13 L81.90,624.67 L82.95,630.10 L84.00,632.53" fill="none" stroke="#3b78c0" stroke-width="0.5"/>
<rect x="46.00" y="596.50" width="73.90" height="36.80" fill="none" stroke="#8a8a8a" stroke-width="0.6"/>
<line x1="46.80" y1="633.30" x2="46.80" y2="632.30" stroke="#333" stroke-width="0.5" />
<line x1="58.45" y1="633.30" x2="58.45" y2="632.30" stroke="#333" stroke-width="0.5" />
<line x1="70.10" y1="633.30" x2="70.10" y2="632.30" stroke="#333" stroke-width="0.5" />
<line x1="81.75" y1="633.30" x2="81.75" y2="632.30" stroke="#333" stroke-width="0.5" />
<line x1="93.40" y1="633.30" x2="93.40" y2="632.30" stroke="#333" stroke-width="0.5" />
<line x1="105.05" y1="633.30" x2="105.05" y2="632.30" stroke="#333" stroke-width="0.5" />
<line x1="116.70" y1="633.30" x2="116.70" y2="632.30" stroke="#333" stroke-width="0.5" />
<text x="50.10" y="601.80" font-size="6.5" text-anchor="start" fill="#9a9a9a" dominant-baseline="central" >Isotype</text>
<text x="92.00" y="610.00" font-size="6.5" text-anchor="start" fill="#d9474c" dominant-baseline="central" >CD19</text>
<text x="92.00" y="629.20" font-size="6.5" text-anchor="start" fill="#4a8ad0" dominant-baseline="central" >CD72</text>
<line x1="46.00" y1="652.90" x2="119.90" y2="652.90" stroke="#e6e6e6" stroke-width="0.5" />
<line x1="46.00" y1="663.50" x2="119.90" y2="663.50" stroke="#f4c9cb" stroke-width="0.5" />
<path d="M46.30,652.90 L46.30,652.90 L47.35,652.90 L48.39,652.90 L49.44,652.90 L50.49,652.90 L51.54,652.90 L52.58,652.90 L53.63,652.90 L54.68,652.90 L55.72,652.90 L56.77,652.90 L57.82,652.90 L58.87,652.90 L59.91,652.90 L60.96,652.90 L62.01,652.90 L63.05,652.90 L64.10,652.90 L65.15,652.89 L66.20,652.82 L67.24,652.53 L68.29,651.57 L69.34,649.23 L70.38,645.18 L71.43,640.55 L72.48,637.89 L73.53,638.67 L74.57,641.76 L75.62,645.70 L76.67,649.05 L77.71,651.20 L78.76,652.28 L79.81,652.71 L80.86,652.85 L81.90,652.89 L82.95,652.90 L84.00,652.90 L85.04,652.90 L86.09,652.90 L87.14,652.90 L88.19,652.90 L89.23,652.90 L90.28,652.90 L91.33,652.90 L92.37,652.90 L93.42,652.90 L94.47,652.90 L95.52,652.90 L96.56,652.90 L97.61,652.90 L98.66,652.90 L99.70,652.90 L100.75,652.90 L101.80,652.90 L102.85,652.90 L103.89,652.90 L104.94,652.90 L105.99,652.90 L107.03,652.90 L108.08,652.90 L109.13,652.90 L110.18,652.90 L111.22,652.90 L112.27,652.90 L113.32,652.90 L114.36,652.90 L115.41,652.90 L116.46,652.90 L117.51,652.90 L118.55,652.90 L119.60,652.90 L119.60,652.90 Z" fill="#bdbdbd" fill-opacity="0.92" stroke="none"/>
<path d="M67.24,652.53 L68.29,651.57 L69.34,649.23 L70.38,645.18 L71.43,640.55 L72.48,637.89 L73.53,638.67 L74.57,641.76 L75.62,645.70 L76.67,649.05 L77.71,651.20 L78.76,652.28" fill="none" stroke="#8c8c8c" stroke-width="0.5"/>
<path d="M46.30,663.50 L46.30,663.50 L47.35,663.50 L48.39,663.50 L49.44,663.50 L50.49,663.50 L51.54,663.50 L52.58,663.50 L53.63,663.50 L54.68,663.50 L55.72,663.50 L56.77,663.50 L57.82,663.50 L58.87,663.50 L59.91,663.50 L60.96,663.50 L62.01,663.50 L63.05,663.50 L64.10,663.49 L65.15,663.46 L66.20,663.41 L67.24,663.28 L68.29,663.03 L69.34,662.55 L70.38,661.74 L71.43,660.45 L72.48,658.53 L73.53,655.83 L74.57,652.41 L75.62,649.09 L76.67,647.00 L77.71,646.42 L78.76,646.88 L79.81,647.81 L80.86,649.19 L81.90,651.01 L82.95,653.10 L84.00,655.24 L85.04,657.25 L86.09,658.99 L87.14,660.39 L88.19,661.46 L89.23,662.22 L90.28,662.74 L91.33,663.07 L92.37,663.26 L93.42,663.38 L94.47,663.44 L95.52,663.47 L96.56,663.49 L97.61,663.49 L98.66,663.50 L99.70,663.50 L100.75,663.50 L101.80,663.50 L102.85,663.50 L103.89,663.50 L104.94,663.50 L105.99,663.50 L107.03,663.50 L108.08,663.50 L109.13,663.50 L110.18,663.50 L111.22,663.50 L112.27,663.50 L113.32,663.50 L114.36,663.50 L115.41,663.50 L116.46,663.50 L117.51,663.50 L118.55,663.50 L119.60,663.50 L119.60,663.50 Z" fill="#e8696e" fill-opacity="0.92" stroke="none"/>
<path d="M68.29,663.03 L69.34,662.55 L70.38,661.74 L71.43,660.45 L72.48,658.53 L73.53,655.83 L74.57,652.41 L75.62,649.09 L76.67,647.00 L77.71,646.42 L78.76,646.88 L79.81,647.81 L80.86,649.19 L81.90,651.01 L82.95,653.10 L84.00,655.24 L85.04,657.25 L86.09,658.99 L87.14,660.39 L88.19,661.46 L89.23,662.22 L90.28,662.74 L91.33,663.07" fill="none" stroke="#d24a50" stroke-width="0.5"/>
<path d="M46.30,672.80 L46.30,672.80 L47.35,672.80 L48.39,672.80 L49.44,672.80 L50.49,672.80 L51.54,672.80 L52.58,672.80 L53.63,672.80 L54.68,672.80 L55.72,672.80 L56.77,672.80 L57.82,672.80 L58.87,672.80 L59.91,672.80 L60.96,672.80 L62.01,672.80 L63.05,672.80 L64.10,672.80 L65.15,672.80 L66.20,672.80 L67.24,672.80 L68.29,672.80 L69.34,672.80 L70.38,672.80 L71.43,672.80 L72.48,672.79 L73.53,672.75 L74.57,672.51 L75.62,671.50 L76.67,668.69 L77.71,663.55 L78.76,657.96 L79.81,655.84 L80.86,659.70 L81.90,666.21 L82.95,670.64 L84.00,672.34 L85.04,672.74 L86.09,672.79 L87.14,672.80 L88.19,672.80 L89.23,672.80 L90.28,672.80 L91.33,672.80 L92.37,672.80 L93.42,672.80 L94.47,672.80 L95.52,672.80 L96.56,672.80 L97.61,672.80 L98.66,672.80 L99.70,672.80 L100.75,672.80 L101.80,672.80 L102.85,672.80 L103.89,672.80 L104.94,672.80 L105.99,672.80 L107.03,672.80 L108.08,672.80 L109.13,672.80 L110.18,672.80 L111.22,672.80 L112.27,672.80 L113.32,672.80 L114.36,672.80 L115.41,672.80 L116.46,672.80 L117.51,672.80 L118.55,672.80 L119.60,672.80 L119.60,672.80 Z" fill="#5d9ad9" fill-opacity="0.92" stroke="none"/>
<path d="M75.62,671.50 L76.67,668.69 L77.71,663.55 L78.76,657.96 L79.81,655.84 L80.86,659.70 L81.90,666.21 L82.95,670.64 L84.00,672.34" fill="none" stroke="#3b78c0" stroke-width="0.5"/>
<rect x="46.00" y="636.20" width="73.90" height="36.60" fill="none" stroke="#8a8a8a" stroke-width="0.6"/>
<line x1="46.80" y1="672.80" x2="46.80" y2="671.80" stroke="#333" stroke-width="0.5" />
<line x1="58.45" y1="672.80" x2="58.45" y2="671.80" stroke="#333" stroke-width="0.5" />
<line x1="70.10" y1="672.80" x2="70.10" y2="671.80" stroke="#333" stroke-width="0.5" />
<line x1="81.75" y1="672.80" x2="81.75" y2="671.80" stroke="#333" stroke-width="0.5" />
<line x1="93.40" y1="672.80" x2="93.40" y2="671.80" stroke="#333" stroke-width="0.5" />
<line x1="105.05" y1="672.80" x2="105.05" y2="671.80" stroke="#333" stroke-width="0.5" />
<line x1="116.70" y1="672.80" x2="116.70" y2="671.80" stroke="#333" stroke-width="0.5" />
<text x="49.00" y="641.40" font-size="6.5" text-anchor="start" fill="#9a9a9a" dominant-baseline="central" >Isotype</text>
<text x="51.80" y="659.10" font-size="6.5" text-anchor="start" fill="#d9474c" dominant-baseline="central" >CD19</text>
<text x="92.60" y="668.90" font-size="6.5" text-anchor="start" fill="#4a8ad0" dominant-baseline="central" >CD72</text>
<text x="47.10" y="679.40" font-size="5.9" text-anchor="middle" fill="#333" dominant-baseline="central">10<tspan dy="-2.0" font-size="3.9">1</tspan></text>
<text x="58.83" y="679.40" font-size="5.9" text-anchor="middle" fill="#333" dominant-baseline="central">10<tspan dy="-2.0" font-size="3.9">2</tspan></text>
<text x="70.57" y="679.40" font-size="5.9" text-anchor="middle" fill="#333" dominant-baseline="central">10<tspan dy="-2.0" font-size="3.9">3</tspan></text>
<text x="82.30" y="679.40" font-size="5.9" text-anchor="middle" fill="#333" dominant-baseline="central">10<tspan dy="-2.0" font-size="3.9">4</tspan></text>
<text x="94.03" y="679.40" font-size="5.9" text-anchor="middle" fill="#333" dominant-baseline="central">10<tspan dy="-2.0" font-size="3.9">5</tspan></text>
<text x="105.77" y="679.40" font-size="5.9" text-anchor="middle" fill="#333" dominant-baseline="central">10<tspan dy="-2.0" font-size="3.9">6</tspan></text>
<text x="117.50" y="679.40" font-size="5.9" text-anchor="middle" fill="#333" dominant-baseline="central">10<tspan dy="-2.0" font-size="3.9">7</tspan></text>
<text x="83.90" y="590.40" font-size="8.4" text-anchor="middle" fill="#231f20" font-style="italic" dominant-baseline="central" textLength="49.3" lengthAdjust="spacingAndGlyphs">SEM CRISPRi</text>
<text x="42.00" y="613.80" font-size="6.5" text-anchor="end" fill="#231f20" dominant-baseline="central" >Parental</text>
<text x="42.00" y="654.50" font-size="6.5" text-anchor="end" fill="#231f20" dominant-baseline="central" >CD19 KD</text>
<line x1="310.00" y1="613.75" x2="384.50" y2="613.75" stroke="#e6e6e6" stroke-width="0.5" />
<line x1="310.00" y1="623.00" x2="384.50" y2="623.00" stroke="#f4c9cb" stroke-width="0.5" />
<path d="M310.30,613.75 L310.30,613.75 L311.36,613.75 L312.41,613.75 L313.47,613.75 L314.52,613.75 L315.58,613.75 L316.63,613.75 L317.69,613.75 L318.75,613.75 L319.80,613.75 L320.86,613.75 L321.91,613.75 L322.97,613.75 L324.02,613.75 L325.08,613.75 L326.14,613.75 L327.19,613.75 L328.25,613.75 L329.30,613.75 L330.36,613.74 L331.41,613.65 L332.47,613.26 L333.53,611.93 L334.58,608.76 L335.64,603.70 L336.69,598.90 L337.75,597.53 L338.80,598.26 L339.86,599.87 L340.92,602.08 L341.97,604.53 L343.03,606.91 L344.08,608.99 L345.14,610.64 L346.19,611.84 L347.25,612.65 L348.31,613.16 L349.36,613.45 L350.42,613.61 L351.47,613.69 L352.53,613.72 L353.58,613.74 L354.64,613.75 L355.70,613.75 L356.75,613.75 L357.81,613.75 L358.86,613.75 L359.92,613.75 L360.97,613.75 L362.03,613.75 L363.09,613.75 L364.14,613.75 L365.20,613.75 L366.25,613.75 L367.31,613.75 L368.36,613.75 L369.42,613.75 L370.48,613.75 L371.53,613.75 L372.59,613.75 L373.64,613.75 L374.70,613.75 L375.75,613.75 L376.81,613.75 L377.87,613.75 L378.92,613.75 L379.98,613.75 L381.03,613.75 L382.09,613.75 L383.14,613.75 L384.20,613.75 L384.20,613.75 Z" fill="#bdbdbd" fill-opacity="0.92" stroke="none"/>
<path d="M332.47,613.26 L333.53,611.93 L334.58,608.76 L335.64,603.70 L336.69,598.90 L337.75,597.53 L338.80,598.26 L339.86,599.87 L340.92,602.08 L341.97,604.53 L343.03,606.91 L344.08,608.99 L345.14,610.64 L346.19,611.84 L347.25,612.65 L348.31,613.16 L349.36,613.45" fill="none" stroke="#8c8c8c" stroke-width="0.5"/>
<path d="M310.30,623.00 L310.30,623.00 L311.36,623.00 L312.41,623.00 L313.47,623.00 L314.52,623.00 L315.58,623.00 L316.63,623.00 L317.69,623.00 L318.75,623.00 L319.80,623.00 L320.86,623.00 L321.91,623.00 L322.97,623.00 L324.02,623.00 L325.08,623.00 L326.14,623.00 L327.19,623.00 L328.25,623.00 L329.30,623.00 L330.36,623.00 L331.41,623.00 L332.47,623.00 L333.53,623.00 L334.58,623.00 L335.64,623.00 L336.69,623.00 L337.75,623.00 L338.80,623.00 L339.86,623.00 L340.92,623.00 L341.97,623.00 L343.03,623.00 L344.08,623.00 L345.14,623.00 L346.19,622.99 L347.25,622.91 L348.31,622.59 L349.36,621.49 L350.42,618.82 L351.47,614.24 L352.53,609.10 L353.58,606.31 L354.64,608.18 L355.70,613.66 L356.75,618.83 L357.81,621.68 L358.86,622.70 L359.92,622.95 L360.97,622.99 L362.03,623.00 L363.09,623.00 L364.14,623.00 L365.20,623.00 L366.25,623.00 L367.31,623.00 L368.36,623.00 L369.42,623.00 L370.48,623.00 L371.53,623.00 L372.59,623.00 L373.64,623.00 L374.70,623.00 L375.75,623.00 L376.81,623.00 L377.87,623.00 L378.92,623.00 L379.98,623.00 L381.03,623.00 L382.09,623.00 L383.14,623.00 L384.20,623.00 L384.20,623.00 Z" fill="#e8696e" fill-opacity="0.92" stroke="none"/>
<path d="M348.31,622.59 L349.36,621.49 L350.42,618.82 L351.47,614.24 L352.53,609.10 L353.58,606.31 L354.64,608.18 L355.70,613.66 L356.75,618.83 L357.81,621.68" fill="none" stroke="#d24a50" stroke-width="0.5"/>
<path d="M310.30,633.50 L310.30,633.50 L311.36,633.50 L312.41,633.50 L313.47,633.50 L314.52,633.50 L315.58,633.50 L316.63,633.50 L317.69,633.50 L318.75,633.50 L319.80,633.50 L320.86,633.50 L321.91,633.50 L322.97,633.50 L324.02,633.50 L325.08,633.50 L326.14,633.50 L327.19,633.50 L328.25,633.50 L329.30,633.50 L330.36,633.50 L331.41,633.50 L332.47,633.50 L333.53,633.50 L334.58,633.50 L335.64,633.50 L336.69,633.50 L337.75,633.50 L338.80,633.49 L339.86,633.42 L340.92,633.02 L341.97,631.55 L343.03,627.86 L344.08,621.97 L345.14,616.79 L346.19,616.47 L347.25,622.09 L348.31,628.56 L349.36,632.11 L350.42,633.25 L351.47,633.47 L352.53,633.50 L353.58,633.50 L354.64,633.50 L355.70,633.50 L356.75,633.50 L357.81,633.50 L358.86,633.50 L359.92,633.50 L360.97,633.50 L362.03,633.50 L363.09,633.50 L364.14,633.50 L365.20,633.50 L366.25,633.50 L367.31,633.50 L368.36,633.50 L369.42,633.50 L370.48,633.50 L371.53,633.50 L372.59,633.50 L373.64,633.50 L374.70,633.50 L375.75,633.50 L376.81,633.50 L377.87,633.50 L378.92,633.50 L379.98,633.50 L381.03,633.50 L382.09,633.50 L383.14,633.50 L384.20,633.50 L384.20,633.50 Z" fill="#5d9ad9" fill-opacity="0.92" stroke="none"/>
<path d="M340.92,633.02 L341.97,631.55 L343.03,627.86 L344.08,621.97 L345.14,616.79 L346.19,616.47 L347.25,622.09 L348.31,628.56 L349.36,632.11" fill="none" stroke="#3b78c0" stroke-width="0.5"/>
<rect x="310.00" y="595.50" width="74.50" height="38.00" fill="none" stroke="#8a8a8a" stroke-width="0.6"/>
<line x1="310.80" y1="633.50" x2="310.80" y2="632.50" stroke="#333" stroke-width="0.5" />
<line x1="322.55" y1="633.50" x2="322.55" y2="632.50" stroke="#333" stroke-width="0.5" />
<line x1="334.30" y1="633.50" x2="334.30" y2="632.50" stroke="#333" stroke-width="0.5" />
<line x1="346.05" y1="633.50" x2="346.05" y2="632.50" stroke="#333" stroke-width="0.5" />
<line x1="357.80" y1="633.50" x2="357.80" y2="632.50" stroke="#333" stroke-width="0.5" />
<line x1="369.55" y1="633.50" x2="369.55" y2="632.50" stroke="#333" stroke-width="0.5" />
<line x1="381.30" y1="633.50" x2="381.30" y2="632.50" stroke="#333" stroke-width="0.5" />
<text x="312.50" y="600.50" font-size="6.5" text-anchor="start" fill="#9a9a9a" dominant-baseline="central" >Isotype</text>
<text x="362.50" y="618.80" font-size="6.5" text-anchor="start" fill="#d9474c" dominant-baseline="central" >CD19</text>
<text x="318.00" y="627.50" font-size="6.5" text-anchor="start" fill="#4a8ad0" dominant-baseline="central" >CD72</text>
<line x1="310.00" y1="654.50" x2="384.50" y2="654.50" stroke="#e6e6e6" stroke-width="0.5" />
<line x1="310.00" y1="663.00" x2="384.50" y2="663.00" stroke="#f4c9cb" stroke-width="0.5" />
<path d="M310.30,654.50 L310.30,654.50 L311.36,654.50 L312.41,654.50 L313.47,654.50 L314.52,654.50 L315.58,654.50 L316.63,654.50 L317.69,654.50 L318.75,654.50 L319.80,654.50 L320.86,654.50 L321.91,654.50 L322.97,654.50 L324.02,654.50 L325.08,654.50 L326.14,654.50 L327.19,654.50 L328.25,654.50 L329.30,654.50 L330.36,654.50 L331.41,654.50 L332.47,654.49 L333.53,654.42 L334.58,653.95 L335.64,652.01 L336.69,647.28 L337.75,640.94 L338.80,638.01 L339.86,640.59 L340.92,645.88 L341.97,650.58 L343.03,653.19 L344.08,654.18 L345.14,654.44 L346.19,654.49 L347.25,654.50 L348.31,654.50 L349.36,654.50 L350.42,654.50 L351.47,654.50 L352.53,654.50 L353.58,654.50 L354.64,654.50 L355.70,654.50 L356.75,654.50 L357.81,654.50 L358.86,654.50 L359.92,654.50 L360.97,654.50 L362.03,654.50 L363.09,654.50 L364.14,654.50 L365.20,654.50 L366.25,654.50 L367.31,654.50 L368.36,654.50 L369.42,654.50 L370.48,654.50 L371.53,654.50 L372.59,654.50 L373.64,654.50 L374.70,654.50 L375.75,654.50 L376.81,654.50 L377.87,654.50 L378.92,654.50 L379.98,654.50 L381.03,654.50 L382.09,654.50 L383.14,654.50 L384.20,654.50 L384.20,654.50 Z" fill="#bdbdbd" fill-opacity="0.92" stroke="none"/>
<path d="M334.58,653.95 L335.64,652.01 L336.69,647.28 L337.75,640.94 L338.80,638.01 L339.86,640.59 L340.92,645.88 L341.97,650.58 L343.03,653.19 L344.08,654.18" fill="none" stroke="#8c8c8c" stroke-width="0.5"/>
<path d="M310.30,663.00 L310.30,663.00 L311.36,663.00 L312.41,663.00 L313.47,663.00 L314.52,663.00 L315.58,663.00 L316.63,663.00 L317.69,663.00 L318.75,663.00 L319.80,663.00 L320.86,663.00 L321.91,663.00 L322.97,663.00 L324.02,663.00 L325.08,663.00 L326.14,663.00 L327.19,663.00 L328.25,663.00 L329.30,663.00 L330.36,663.00 L331.41,663.00 L332.47,663.00 L333.53,663.00 L334.58,663.00 L335.64,663.00 L336.69,663.00 L337.75,663.00 L338.80,663.00 L339.86,663.00 L340.92,663.00 L341.97,663.00 L343.03,663.00 L344.08,663.00 L345.14,663.00 L346.19,662.97 L347.25,662.84 L348.31,662.24 L349.36,660.44 L350.42,656.65 L351.47,651.42 L352.53,647.49 L353.58,647.82 L354.64,652.44 L355.70,657.79 L356.75,661.18 L357.81,662.55 L358.86,662.92 L359.92,662.99 L360.97,663.00 L362.03,663.00 L363.09,663.00 L364.14,663.00 L365.20,663.00 L366.25,663.00 L367.31,663.00 L368.36,663.00 L369.42,663.00 L370.48,663.00 L371.53,663.00 L372.59,663.00 L373.64,663.00 L374.70,663.00 L375.75,663.00 L376.81,663.00 L377.87,663.00 L378.92,663.00 L379.98,663.00 L381.03,663.00 L382.09,663.00 L383.14,663.00 L384.20,663.00 L384.20,663.00 Z" fill="#e8696e" fill-opacity="0.92" stroke="none"/>
<path d="M348.31,662.24 L349.36,660.44 L350.42,656.65 L351.47,651.42 L352.53,647.49 L353.58,647.82 L354.64,652.44 L355.70,657.79 L356.75,661.18 L357.81,662.55" fill="none" stroke="#d24a50" stroke-width="0.5"/>
<path d="M310.30,672.50 L310.30,672.50 L311.36,672.50 L312.41,672.50 L313.47,672.50 L314.52,672.50 L315.58,672.50 L316.63,672.50 L317.69,672.50 L318.75,672.50 L319.80,672.50 L320.86,672.50 L321.91,672.50 L322.97,672.50 L324.02,672.50 L325.08,672.50 L326.14,672.50 L327.19,672.50 L328.25,672.50 L329.30,672.50 L330.36,672.50 L331.41,672.50 L332.47,672.50 L333.53,672.49 L334.58,672.43 L335.64,672.11 L336.69,670.90 L337.75,667.84 L338.80,662.88 L339.86,658.42 L340.92,657.94 L341.97,662.19 L343.03,667.53 L344.08,670.87 L345.14,672.14 L346.19,672.45 L347.25,672.49 L348.31,672.50 L349.36,672.50 L350.42,672.50 L351.47,672.50 L352.53,672.50 L353.58,672.50 L354.64,672.50 L355.70,672.50 L356.75,672.50 L357.81,672.50 L358.86,672.50 L359.92,672.50 L360.97,672.50 L362.03,672.50 L363.09,672.50 L364.14,672.50 L365.20,672.50 L366.25,672.50 L367.31,672.50 L368.36,672.50 L369.42,672.50 L370.48,672.50 L371.53,672.50 L372.59,672.50 L373.64,672.50 L374.70,672.50 L375.75,672.50 L376.81,672.50 L377.87,672.50 L378.92,672.50 L379.98,672.50 L381.03,672.50 L382.09,672.50 L383.14,672.50 L384.20,672.50 L384.20,672.50 Z" fill="#5d9ad9" fill-opacity="0.92" stroke="none"/>
<path d="M335.64,672.11 L336.69,670.90 L337.75,667.84 L338.80,662.88 L339.86,658.42 L340.92,657.94 L341.97,662.19 L343.03,667.53 L344.08,670.87 L345.14,672.14" fill="none" stroke="#3b78c0" stroke-width="0.5"/>
<rect x="310.00" y="635.50" width="74.50" height="37.00" fill="none" stroke="#8a8a8a" stroke-width="0.6"/>
<line x1="310.80" y1="672.50" x2="310.80" y2="671.50" stroke="#333" stroke-width="0.5" />
<line x1="322.55" y1="672.50" x2="322.55" y2="671.50" stroke="#333" stroke-width="0.5" />
<line x1="334.30" y1="672.50" x2="334.30" y2="671.50" stroke="#333" stroke-width="0.5" />
<line x1="346.05" y1="672.50" x2="346.05" y2="671.50" stroke="#333" stroke-width="0.5" />
<line x1="357.80" y1="672.50" x2="357.80" y2="671.50" stroke="#333" stroke-width="0.5" />
<line x1="369.55" y1="672.50" x2="369.55" y2="671.50" stroke="#333" stroke-width="0.5" />
<line x1="381.30" y1="672.50" x2="381.30" y2="671.50" stroke="#333" stroke-width="0.5" />
<text x="312.50" y="641.30" font-size="6.5" text-anchor="start" fill="#9a9a9a" dominant-baseline="central" >Isotype</text>
<text x="362.50" y="658.80" font-size="6.5" text-anchor="start" fill="#d9474c" dominant-baseline="central" >CD19</text>
<text x="318.00" y="667.50" font-size="6.5" text-anchor="start" fill="#4a8ad0" dominant-baseline="central" >CD72</text>
<text x="311.10" y="679.20" font-size="5.9" text-anchor="middle" fill="#333" dominant-baseline="central">10<tspan dy="-2.0" font-size="3.9">1</tspan></text>
<text x="322.93" y="679.20" font-size="5.9" text-anchor="middle" fill="#333" dominant-baseline="central">10<tspan dy="-2.0" font-size="3.9">2</tspan></text>
<text x="334.77" y="679.20" font-size="5.9" text-anchor="middle" fill="#333" dominant-baseline="central">10<tspan dy="-2.0" font-size="3.9">3</tspan></text>
<text x="346.60" y="679.20" font-size="5.9" text-anchor="middle" fill="#333" dominant-baseline="central">10<tspan dy="-2.0" font-size="3.9">4</tspan></text>
<text x="358.43" y="679.20" font-size="5.9" text-anchor="middle" fill="#333" dominant-baseline="central">10<tspan dy="-2.0" font-size="3.9">5</tspan></text>
<text x="370.27" y="679.20" font-size="5.9" text-anchor="middle" fill="#333" dominant-baseline="central">10<tspan dy="-2.0" font-size="3.9">6</tspan></text>
<text x="382.10" y="679.20" font-size="5.9" text-anchor="middle" fill="#333" dominant-baseline="central">10<tspan dy="-2.0" font-size="3.9">7</tspan></text>
<text x="347.20" y="590.00" font-size="8.4" text-anchor="middle" fill="#231f20" font-style="italic" dominant-baseline="central" textLength="49.5" lengthAdjust="spacingAndGlyphs">SEM CRISPRi</text>
<text x="307.00" y="612.50" font-size="6.5" text-anchor="end" fill="#231f20" dominant-baseline="central" >Parental</text>
<text x="307.00" y="653.80" font-size="6.5" text-anchor="end" fill="#231f20" dominant-baseline="central" >CD72 KD</text>
<text x="195.70" y="594.00" font-size="7.3" text-anchor="middle" fill="#231f20" dominant-baseline="central" ><tspan font-style="italic">In vitro</tspan> cytotoxicity</text>
<line x1="151.00" y1="604.10" x2="151.00" y2="665.00" stroke="#555" stroke-width="0.9" />
<line x1="151.00" y1="665.00" x2="247.00" y2="665.00" stroke="#555" stroke-width="0.9" />
<line x1="149.50" y1="653.30" x2="151.00" y2="653.30" stroke="#555" stroke-width="0.6" />
<text x="148.10" y="653.30" font-size="6.1" text-anchor="end" fill="#333" dominant-baseline="central" >0</text>
<line x1="149.50" y1="643.96" x2="151.00" y2="643.96" stroke="#555" stroke-width="0.6" />
<text x="148.10" y="643.96" font-size="6.1" text-anchor="end" fill="#333" dominant-baseline="central" >20</text>
<line x1="149.50" y1="634.62" x2="151.00" y2="634.62" stroke="#555" stroke-width="0.6" />
<text x="148.10" y="634.62" font-size="6.1" text-anchor="end" fill="#333" dominant-baseline="central" >40</text>
<line x1="149.50" y1="625.28" x2="151.00" y2="625.28" stroke="#555" stroke-width="0.6" />
<text x="148.10" y="625.28" font-size="6.1" text-anchor="end" fill="#333" dominant-baseline="central" >60</text>
<line x1="149.50" y1="615.94" x2="151.00" y2="615.94" stroke="#555" stroke-width="0.6" />
<text x="148.10" y="615.94" font-size="6.1" text-anchor="end" fill="#333" dominant-baseline="central" >80</text>
<line x1="149.50" y1="606.60" x2="151.00" y2="606.60" stroke="#555" stroke-width="0.6" />
<text x="148.10" y="606.60" font-size="6.1" text-anchor="end" fill="#333" dominant-baseline="central" >100</text>
<text x="131.60" y="634.55" font-size="6.6" text-anchor="middle" fill="#333" transform="rotate(-90 131.60 634.55)" dominant-baseline="central" >% Lysis</text>
<line x1="162.60" y1="665.00" x2="162.60" y2="666.00" stroke="#666" stroke-width="0.4" />
<text x="162.60" y="670.00" font-size="4.5" text-anchor="middle" fill="#222" dominant-baseline="central" >1:1</text>
<line x1="180.30" y1="665.00" x2="180.30" y2="666.00" stroke="#666" stroke-width="0.4" />
<text x="180.30" y="670.00" font-size="4.5" text-anchor="middle" fill="#222" dominant-baseline="central" >0.3:1</text>
<line x1="198.50" y1="665.00" x2="198.50" y2="666.00" stroke="#666" stroke-width="0.4" />
<text x="198.50" y="670.00" font-size="4.5" text-anchor="middle" fill="#222" dominant-baseline="central" >0.1:1</text>
<line x1="215.90" y1="665.00" x2="215.90" y2="666.00" stroke="#666" stroke-width="0.4" />
<text x="215.90" y="670.00" font-size="4.5" text-anchor="middle" fill="#222" dominant-baseline="central" >0.03:1</text>
<line x1="233.50" y1="665.00" x2="233.50" y2="666.00" stroke="#666" stroke-width="0.4" />
<text x="233.50" y="670.00" font-size="4.5" text-anchor="middle" fill="#222" dominant-baseline="central" >Tumor</text>
<text x="233.50" y="674.00" font-size="4.5" text-anchor="middle" fill="#222" dominant-baseline="central" >alone</text>
<line x1="162.60" y1="629.02" x2="162.60" y2="633.69" stroke="#e3342f" stroke-width="0.45" stroke-opacity="0.55"/>
<line x1="161.70" y1="629.02" x2="163.50" y2="629.02" stroke="#e3342f" stroke-width="0.45" stroke-opacity="0.55"/>
<line x1="161.70" y1="633.69" x2="163.50" y2="633.69" stroke="#e3342f" stroke-width="0.45" stroke-opacity="0.55"/>
<line x1="180.30" y1="647.23" x2="180.30" y2="650.03" stroke="#e3342f" stroke-width="0.45" stroke-opacity="0.55"/>
<line x1="179.40" y1="647.23" x2="181.20" y2="647.23" stroke="#e3342f" stroke-width="0.45" stroke-opacity="0.55"/>
<line x1="179.40" y1="650.03" x2="181.20" y2="650.03" stroke="#e3342f" stroke-width="0.45" stroke-opacity="0.55"/>
<line x1="198.50" y1="650.50" x2="198.50" y2="656.10" stroke="#e3342f" stroke-width="0.45" stroke-opacity="0.55"/>
<line x1="197.60" y1="650.50" x2="199.40" y2="650.50" stroke="#e3342f" stroke-width="0.45" stroke-opacity="0.55"/>
<line x1="197.60" y1="656.10" x2="199.40" y2="656.10" stroke="#e3342f" stroke-width="0.45" stroke-opacity="0.55"/>
<line x1="215.90" y1="647.70" x2="215.90" y2="658.90" stroke="#e3342f" stroke-width="0.45" stroke-opacity="0.55"/>
<line x1="215.00" y1="647.70" x2="216.80" y2="647.70" stroke="#e3342f" stroke-width="0.45" stroke-opacity="0.55"/>
<line x1="215.00" y1="658.90" x2="216.80" y2="658.90" stroke="#e3342f" stroke-width="0.45" stroke-opacity="0.55"/>
<line x1="233.50" y1="654.23" x2="233.50" y2="659.84" stroke="#e3342f" stroke-width="0.45" stroke-opacity="0.55"/>
<line x1="232.60" y1="654.23" x2="234.40" y2="654.23" stroke="#e3342f" stroke-width="0.45" stroke-opacity="0.55"/>
<line x1="232.60" y1="659.84" x2="234.40" y2="659.84" stroke="#e3342f" stroke-width="0.45" stroke-opacity="0.55"/>
<path d="M162.60,631.35 L180.30,648.63 L198.50,653.30 L215.90,653.30 L233.50,657.04" fill="none" stroke="#e3342f" stroke-width="1.2"/>
<circle cx="162.60" cy="631.35" r="1.0" fill="#e3342f"/>
<circle cx="180.30" cy="648.63" r="1.0" fill="#e3342f"/>
<circle cx="198.50" cy="653.30" r="1.0" fill="#e3342f"/>
<circle cx="215.90" cy="653.30" r="1.0" fill="#e3342f"/>
<circle cx="233.50" cy="657.04" r="1.0" fill="#e3342f"/>
<line x1="180.30" y1="611.74" x2="180.30" y2="612.67" stroke="#3b5ba9" stroke-width="0.45" stroke-opacity="0.55"/>
<line x1="179.40" y1="611.74" x2="181.20" y2="611.74" stroke="#3b5ba9" stroke-width="0.45" stroke-opacity="0.55"/>
<line x1="179.40" y1="612.67" x2="181.20" y2="612.67" stroke="#3b5ba9" stroke-width="0.45" stroke-opacity="0.55"/>
<line x1="198.50" y1="622.95" x2="198.50" y2="630.42" stroke="#3b5ba9" stroke-width="0.45" stroke-opacity="0.55"/>
<line x1="197.60" y1="622.95" x2="199.40" y2="622.95" stroke="#3b5ba9" stroke-width="0.45" stroke-opacity="0.55"/>
<line x1="197.60" y1="630.42" x2="199.40" y2="630.42" stroke="#3b5ba9" stroke-width="0.45" stroke-opacity="0.55"/>
<line x1="215.90" y1="657.97" x2="215.90" y2="659.84" stroke="#3b5ba9" stroke-width="0.45" stroke-opacity="0.55"/>
<line x1="215.00" y1="657.97" x2="216.80" y2="657.97" stroke="#3b5ba9" stroke-width="0.45" stroke-opacity="0.55"/>
<line x1="215.00" y1="659.84" x2="216.80" y2="659.84" stroke="#3b5ba9" stroke-width="0.45" stroke-opacity="0.55"/>
<line x1="233.50" y1="647.23" x2="233.50" y2="654.70" stroke="#3b5ba9" stroke-width="0.45" stroke-opacity="0.55"/>
<line x1="232.60" y1="647.23" x2="234.40" y2="647.23" stroke="#3b5ba9" stroke-width="0.45" stroke-opacity="0.55"/>
<line x1="232.60" y1="654.70" x2="234.40" y2="654.70" stroke="#3b5ba9" stroke-width="0.45" stroke-opacity="0.55"/>
<path d="M162.60,606.60 L180.30,612.20 L198.50,626.68 L215.90,658.90 L233.50,650.96" fill="none" stroke="#3b5ba9" stroke-width="1.2"/>
<circle cx="162.60" cy="606.60" r="1.0" fill="#3b5ba9"/>
<circle cx="180.30" cy="612.20" r="1.0" fill="#3b5ba9"/>
<circle cx="198.50" cy="626.68" r="1.0" fill="#3b5ba9"/>
<circle cx="215.90" cy="658.90" r="1.0" fill="#3b5ba9"/>
<circle cx="233.50" cy="650.96" r="1.0" fill="#3b5ba9"/>
<line x1="162.60" y1="644.89" x2="162.60" y2="647.70" stroke="#5a5a5a" stroke-width="0.45" stroke-opacity="0.55"/>
<line x1="161.70" y1="644.89" x2="163.50" y2="644.89" stroke="#5a5a5a" stroke-width="0.45" stroke-opacity="0.55"/>
<line x1="161.70" y1="647.70" x2="163.50" y2="647.70" stroke="#5a5a5a" stroke-width="0.45" stroke-opacity="0.55"/>
<line x1="180.30" y1="658.44" x2="180.30" y2="659.37" stroke="#5a5a5a" stroke-width="0.45" stroke-opacity="0.55"/>
<line x1="179.40" y1="658.44" x2="181.20" y2="658.44" stroke="#5a5a5a" stroke-width="0.45" stroke-opacity="0.55"/>
<line x1="179.40" y1="659.37" x2="181.20" y2="659.37" stroke="#5a5a5a" stroke-width="0.45" stroke-opacity="0.55"/>
<line x1="198.50" y1="655.63" x2="198.50" y2="658.44" stroke="#5a5a5a" stroke-width="0.45" stroke-opacity="0.55"/>
<line x1="197.60" y1="655.63" x2="199.40" y2="655.63" stroke="#5a5a5a" stroke-width="0.45" stroke-opacity="0.55"/>
<line x1="197.60" y1="658.44" x2="199.40" y2="658.44" stroke="#5a5a5a" stroke-width="0.45" stroke-opacity="0.55"/>
<line x1="215.90" y1="657.97" x2="215.90" y2="659.84" stroke="#5a5a5a" stroke-width="0.45" stroke-opacity="0.55"/>
<line x1="215.00" y1="657.97" x2="216.80" y2="657.97" stroke="#5a5a5a" stroke-width="0.45" stroke-opacity="0.55"/>
<line x1="215.00" y1="659.84" x2="216.80" y2="659.84" stroke="#5a5a5a" stroke-width="0.45" stroke-opacity="0.55"/>
<line x1="233.50" y1="647.23" x2="233.50" y2="656.57" stroke="#5a5a5a" stroke-width="0.45" stroke-opacity="0.55"/>
<line x1="232.60" y1="647.23" x2="234.40" y2="647.23" stroke="#5a5a5a" stroke-width="0.45" stroke-opacity="0.55"/>
<line x1="232.60" y1="656.57" x2="234.40" y2="656.57" stroke="#5a5a5a" stroke-width="0.45" stroke-opacity="0.55"/>
<path d="M162.60,646.29 L180.30,658.90 L198.50,657.04 L215.90,658.90 L233.50,651.90" fill="none" stroke="#5a5a5a" stroke-width="0.9" stroke-dasharray="2.2,1.8"/>
<circle cx="162.60" cy="646.29" r="1.0" fill="#5a5a5a"/>
<circle cx="180.30" cy="658.90" r="1.0" fill="#5a5a5a"/>
<circle cx="198.50" cy="657.04" r="1.0" fill="#5a5a5a"/>
<circle cx="215.90" cy="658.90" r="1.0" fill="#5a5a5a"/>
<circle cx="233.50" cy="651.90" r="1.0" fill="#5a5a5a"/>
<text x="195.10" y="681.30" font-size="6.5" text-anchor="middle" fill="#333" dominant-baseline="central" >E:T ratio</text>
<line x1="211.40" y1="608.20" x2="217.80" y2="608.20" stroke="#e3342f" stroke-width="1.0" />
<path d="M213.00,608.20 L214.60,606.60 L216.20,608.20 L214.60,609.80 Z" fill="#e3342f"/>
<text x="221.10" y="608.20" font-size="5.6" text-anchor="start" fill="#333" dominant-baseline="central" >CD19 CAR</text>
<line x1="211.40" y1="615.40" x2="217.80" y2="615.40" stroke="#3b5ba9" stroke-width="1.0" />
<path d="M213.00,615.40 L214.60,613.80 L216.20,615.40 L214.60,617.00 Z" fill="#3b5ba9"/>
<text x="221.10" y="615.40" font-size="5.6" text-anchor="start" fill="#333" dominant-baseline="central" >CD72 CAR</text>
<line x1="211.40" y1="623.00" x2="217.80" y2="623.00" stroke="#5a5a5a" stroke-width="1.0" />
<path d="M213.00,623.00 L214.60,621.40 L216.20,623.00 L214.60,624.60 Z" fill="#5a5a5a"/>
<text x="221.10" y="623.00" font-size="5.6" text-anchor="start" fill="#333" dominant-baseline="central" >Empty CAR</text>
<text x="464.20" y="589.80" font-size="7.3" text-anchor="middle" fill="#231f20" dominant-baseline="central" ><tspan font-style="italic">In vitro</tspan> cytotoxicity</text>
<line x1="419.30" y1="600.70" x2="419.30" y2="661.40" stroke="#555" stroke-width="0.9" />
<line x1="419.30" y1="661.40" x2="507.00" y2="661.40" stroke="#555" stroke-width="0.9" />
<line x1="417.80" y1="649.40" x2="419.30" y2="649.40" stroke="#555" stroke-width="0.6" />
<text x="416.40" y="649.40" font-size="6.1" text-anchor="end" fill="#333" dominant-baseline="central" >0</text>
<line x1="417.80" y1="640.16" x2="419.30" y2="640.16" stroke="#555" stroke-width="0.6" />
<text x="416.40" y="640.16" font-size="6.1" text-anchor="end" fill="#333" dominant-baseline="central" >20</text>
<line x1="417.80" y1="630.92" x2="419.30" y2="630.92" stroke="#555" stroke-width="0.6" />
<text x="416.40" y="630.92" font-size="6.1" text-anchor="end" fill="#333" dominant-baseline="central" >40</text>
<line x1="417.80" y1="621.68" x2="419.30" y2="621.68" stroke="#555" stroke-width="0.6" />
<text x="416.40" y="621.68" font-size="6.1" text-anchor="end" fill="#333" dominant-baseline="central" >60</text>
<line x1="417.80" y1="612.44" x2="419.30" y2="612.44" stroke="#555" stroke-width="0.6" />
<text x="416.40" y="612.44" font-size="6.1" text-anchor="end" fill="#333" dominant-baseline="central" >80</text>
<line x1="417.80" y1="603.20" x2="419.30" y2="603.20" stroke="#555" stroke-width="0.6" />
<text x="416.40" y="603.20" font-size="6.1" text-anchor="end" fill="#333" dominant-baseline="central" >100</text>
<text x="399.60" y="631.05" font-size="6.6" text-anchor="middle" fill="#333" transform="rotate(-90 399.60 631.05)" dominant-baseline="central" >% Lysis</text>
<line x1="431.20" y1="661.40" x2="431.20" y2="662.40" stroke="#666" stroke-width="0.4" />
<text x="431.20" y="667.60" font-size="4.5" text-anchor="middle" fill="#222" dominant-baseline="central" >1:1</text>
<line x1="448.60" y1="661.40" x2="448.60" y2="662.40" stroke="#666" stroke-width="0.4" />
<text x="448.60" y="667.60" font-size="4.5" text-anchor="middle" fill="#222" dominant-baseline="central" >0.3:1</text>
<line x1="466.80" y1="661.40" x2="466.80" y2="662.40" stroke="#666" stroke-width="0.4" />
<text x="466.80" y="667.60" font-size="4.5" text-anchor="middle" fill="#222" dominant-baseline="central" >0.1:1</text>
<line x1="483.60" y1="661.40" x2="483.60" y2="662.40" stroke="#666" stroke-width="0.4" />
<text x="483.60" y="667.60" font-size="4.5" text-anchor="middle" fill="#222" dominant-baseline="central" >0.03:1</text>
<line x1="500.50" y1="661.40" x2="500.50" y2="662.40" stroke="#666" stroke-width="0.4" />
<text x="500.50" y="667.60" font-size="4.5" text-anchor="middle" fill="#222" dominant-baseline="central" >Tumor</text>
<text x="500.50" y="672.00" font-size="4.5" text-anchor="middle" fill="#222" dominant-baseline="central" >alone</text>
<line x1="448.60" y1="617.98" x2="448.60" y2="620.76" stroke="#e3342f" stroke-width="0.45" stroke-opacity="0.55"/>
<line x1="447.70" y1="617.98" x2="449.50" y2="617.98" stroke="#e3342f" stroke-width="0.45" stroke-opacity="0.55"/>
<line x1="447.70" y1="620.76" x2="449.50" y2="620.76" stroke="#e3342f" stroke-width="0.45" stroke-opacity="0.55"/>
<line x1="466.80" y1="637.39" x2="466.80" y2="644.78" stroke="#e3342f" stroke-width="0.45" stroke-opacity="0.55"/>
<line x1="465.90" y1="637.39" x2="467.70" y2="637.39" stroke="#e3342f" stroke-width="0.45" stroke-opacity="0.55"/>
<line x1="465.90" y1="644.78" x2="467.70" y2="644.78" stroke="#e3342f" stroke-width="0.45" stroke-opacity="0.55"/>
<line x1="483.60" y1="652.63" x2="483.60" y2="655.41" stroke="#e3342f" stroke-width="0.45" stroke-opacity="0.55"/>
<line x1="482.70" y1="652.63" x2="484.50" y2="652.63" stroke="#e3342f" stroke-width="0.45" stroke-opacity="0.55"/>
<line x1="482.70" y1="655.41" x2="484.50" y2="655.41" stroke="#e3342f" stroke-width="0.45" stroke-opacity="0.55"/>
<line x1="500.50" y1="644.78" x2="500.50" y2="652.17" stroke="#e3342f" stroke-width="0.45" stroke-opacity="0.55"/>
<line x1="499.60" y1="644.78" x2="501.40" y2="644.78" stroke="#e3342f" stroke-width="0.45" stroke-opacity="0.55"/>
<line x1="499.60" y1="652.17" x2="501.40" y2="652.17" stroke="#e3342f" stroke-width="0.45" stroke-opacity="0.55"/>
<path d="M431.20,603.20 L448.60,619.37 L466.80,641.08 L483.60,654.02 L500.50,648.48" fill="none" stroke="#e3342f" stroke-width="1.2"/>
<circle cx="431.20" cy="603.20" r="1.0" fill="#e3342f"/>
<circle cx="448.60" cy="619.37" r="1.0" fill="#e3342f"/>
<circle cx="466.80" cy="641.08" r="1.0" fill="#e3342f"/>
<circle cx="483.60" cy="654.02" r="1.0" fill="#e3342f"/>
<circle cx="500.50" cy="648.48" r="1.0" fill="#e3342f"/>
<line x1="431.20" y1="630.92" x2="431.20" y2="647.55" stroke="#3b5ba9" stroke-width="0.45" stroke-opacity="0.55"/>
<line x1="430.30" y1="630.92" x2="432.10" y2="630.92" stroke="#3b5ba9" stroke-width="0.45" stroke-opacity="0.55"/>
<line x1="430.30" y1="647.55" x2="432.10" y2="647.55" stroke="#3b5ba9" stroke-width="0.45" stroke-opacity="0.55"/>
<line x1="448.60" y1="643.86" x2="448.60" y2="654.94" stroke="#3b5ba9" stroke-width="0.45" stroke-opacity="0.55"/>
<line x1="447.70" y1="643.86" x2="449.50" y2="643.86" stroke="#3b5ba9" stroke-width="0.45" stroke-opacity="0.55"/>
<line x1="447.70" y1="654.94" x2="449.50" y2="654.94" stroke="#3b5ba9" stroke-width="0.45" stroke-opacity="0.55"/>
<line x1="466.80" y1="644.78" x2="466.80" y2="649.40" stroke="#3b5ba9" stroke-width="0.45" stroke-opacity="0.55"/>
<line x1="465.90" y1="644.78" x2="467.70" y2="644.78" stroke="#3b5ba9" stroke-width="0.45" stroke-opacity="0.55"/>
<line x1="465.90" y1="649.40" x2="467.70" y2="649.40" stroke="#3b5ba9" stroke-width="0.45" stroke-opacity="0.55"/>
<line x1="483.60" y1="650.32" x2="483.60" y2="653.10" stroke="#3b5ba9" stroke-width="0.45" stroke-opacity="0.55"/>
<line x1="482.70" y1="650.32" x2="484.50" y2="650.32" stroke="#3b5ba9" stroke-width="0.45" stroke-opacity="0.55"/>
<line x1="482.70" y1="653.10" x2="484.50" y2="653.10" stroke="#3b5ba9" stroke-width="0.45" stroke-opacity="0.55"/>
<line x1="500.50" y1="646.17" x2="500.50" y2="650.79" stroke="#3b5ba9" stroke-width="0.45" stroke-opacity="0.55"/>
<line x1="499.60" y1="646.17" x2="501.40" y2="646.17" stroke="#3b5ba9" stroke-width="0.45" stroke-opacity="0.55"/>
<line x1="499.60" y1="650.79" x2="501.40" y2="650.79" stroke="#3b5ba9" stroke-width="0.45" stroke-opacity="0.55"/>
<path d="M431.20,639.24 L448.60,649.40 L466.80,647.09 L483.60,651.71 L500.50,648.48" fill="none" stroke="#3b5ba9" stroke-width="1.2"/>
<circle cx="431.20" cy="639.24" r="1.0" fill="#3b5ba9"/>
<circle cx="448.60" cy="649.40" r="1.0" fill="#3b5ba9"/>
<circle cx="466.80" cy="647.09" r="1.0" fill="#3b5ba9"/>
<circle cx="483.60" cy="651.71" r="1.0" fill="#3b5ba9"/>
<circle cx="500.50" cy="648.48" r="1.0" fill="#3b5ba9"/>
<line x1="448.60" y1="645.70" x2="448.60" y2="653.10" stroke="#5a5a5a" stroke-width="0.45" stroke-opacity="0.55"/>
<line x1="447.70" y1="645.70" x2="449.50" y2="645.70" stroke="#5a5a5a" stroke-width="0.45" stroke-opacity="0.55"/>
<line x1="447.70" y1="653.10" x2="449.50" y2="653.10" stroke="#5a5a5a" stroke-width="0.45" stroke-opacity="0.55"/>
<line x1="466.80" y1="646.17" x2="466.80" y2="650.79" stroke="#5a5a5a" stroke-width="0.45" stroke-opacity="0.55"/>
<line x1="465.90" y1="646.17" x2="467.70" y2="646.17" stroke="#5a5a5a" stroke-width="0.45" stroke-opacity="0.55"/>
<line x1="465.90" y1="650.79" x2="467.70" y2="650.79" stroke="#5a5a5a" stroke-width="0.45" stroke-opacity="0.55"/>
<line x1="483.60" y1="642.47" x2="483.60" y2="647.09" stroke="#5a5a5a" stroke-width="0.45" stroke-opacity="0.55"/>
<line x1="482.70" y1="642.47" x2="484.50" y2="642.47" stroke="#5a5a5a" stroke-width="0.45" stroke-opacity="0.55"/>
<line x1="482.70" y1="647.09" x2="484.50" y2="647.09" stroke="#5a5a5a" stroke-width="0.45" stroke-opacity="0.55"/>
<line x1="500.50" y1="645.70" x2="500.50" y2="653.10" stroke="#5a5a5a" stroke-width="0.45" stroke-opacity="0.55"/>
<line x1="499.60" y1="645.70" x2="501.40" y2="645.70" stroke="#5a5a5a" stroke-width="0.45" stroke-opacity="0.55"/>
<line x1="499.60" y1="653.10" x2="501.40" y2="653.10" stroke="#5a5a5a" stroke-width="0.45" stroke-opacity="0.55"/>
<path d="M431.20,649.40 L448.60,649.40 L466.80,648.48 L483.60,644.78 L500.50,649.40" fill="none" stroke="#5a5a5a" stroke-width="0.9" stroke-dasharray="2.2,1.8"/>
<circle cx="431.20" cy="649.40" r="1.0" fill="#5a5a5a"/>
<circle cx="448.60" cy="649.40" r="1.0" fill="#5a5a5a"/>
<circle cx="466.80" cy="648.48" r="1.0" fill="#5a5a5a"/>
<circle cx="483.60" cy="644.78" r="1.0" fill="#5a5a5a"/>
<circle cx="500.50" cy="649.40" r="1.0" fill="#5a5a5a"/>
<text x="465.50" y="677.30" font-size="6.5" text-anchor="middle" fill="#333" dominant-baseline="central" >E:T ratio</text>
<line x1="469.50" y1="602.70" x2="475.90" y2="602.70" stroke="#e3342f" stroke-width="1.0" />
<path d="M471.10,602.70 L472.70,601.10 L474.30,602.70 L472.70,604.30 Z" fill="#e3342f"/>
<text x="479.20" y="602.70" font-size="5.6" text-anchor="start" fill="#333" dominant-baseline="central" >CD19 CAR</text>
<line x1="469.50" y1="609.70" x2="475.90" y2="609.70" stroke="#3b5ba9" stroke-width="1.0" />
<path d="M471.10,609.70 L472.70,608.10 L474.30,609.70 L472.70,611.30 Z" fill="#3b5ba9"/>
<text x="479.20" y="609.70" font-size="5.6" text-anchor="start" fill="#333" dominant-baseline="central" >CD72 CAR</text>
<line x1="469.50" y1="617.50" x2="475.90" y2="617.50" stroke="#5a5a5a" stroke-width="1.0" />
<path d="M471.10,617.50 L472.70,615.90 L474.30,617.50 L472.70,619.10 Z" fill="#5a5a5a"/>
<text x="479.20" y="617.50" font-size="5.6" text-anchor="start" fill="#333" dominant-baseline="central" >Empty CAR</text>
</svg></body></html>
